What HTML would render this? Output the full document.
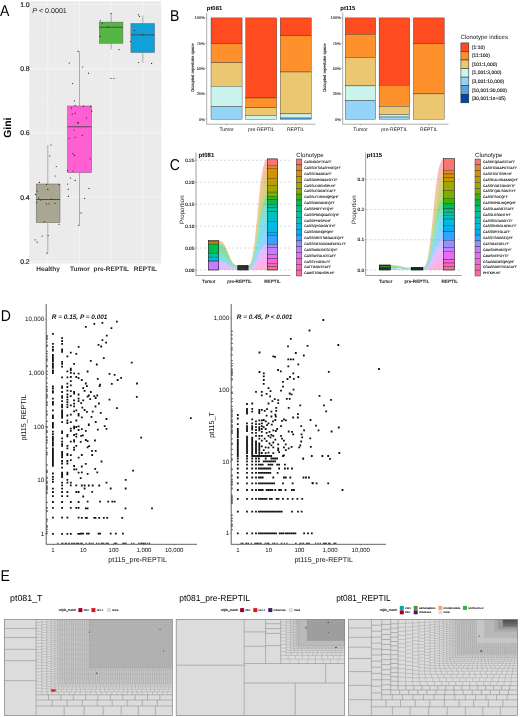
<!DOCTYPE html>
<html><head><meta charset="utf-8"><title>Figure</title>
<style>
html,body{margin:0;padding:0;background:#fff;}
body{width:520px;height:717px;overflow:hidden;}
svg{display:block;font-family:"Liberation Sans",sans-serif;text-rendering:geometricPrecision;}
</style></head><body>
<svg width="520" height="717" viewBox="0 0 520 717">
<g id="panelA">
<rect x="29.20" y="1.20" width="132.00" height="262.20" fill="#EBEBEB" />
<line x1="29.20" y1="229.21" x2="161.20" y2="229.21" stroke="#F4F4F4" stroke-width="0.4" />
<line x1="29.20" y1="165.04" x2="161.20" y2="165.04" stroke="#F4F4F4" stroke-width="0.4" />
<line x1="29.20" y1="100.86" x2="161.20" y2="100.86" stroke="#F4F4F4" stroke-width="0.4" />
<line x1="29.20" y1="36.69" x2="161.20" y2="36.69" stroke="#F4F4F4" stroke-width="0.4" />
<line x1="29.20" y1="261.30" x2="161.20" y2="261.30" stroke="#F8F8F8" stroke-width="0.7" />
<line x1="29.20" y1="197.12" x2="161.20" y2="197.12" stroke="#F8F8F8" stroke-width="0.7" />
<line x1="29.20" y1="132.95" x2="161.20" y2="132.95" stroke="#F8F8F8" stroke-width="0.7" />
<line x1="29.20" y1="68.77" x2="161.20" y2="68.77" stroke="#F8F8F8" stroke-width="0.7" />
<line x1="29.20" y1="4.60" x2="161.20" y2="4.60" stroke="#F8F8F8" stroke-width="0.7" />
<line x1="47.80" y1="1.20" x2="47.80" y2="263.40" stroke="#F8F8F8" stroke-width="0.7" />
<line x1="79.50" y1="1.20" x2="79.50" y2="263.40" stroke="#F8F8F8" stroke-width="0.7" />
<line x1="111.20" y1="1.20" x2="111.20" y2="263.40" stroke="#F8F8F8" stroke-width="0.7" />
<line x1="142.80" y1="1.20" x2="142.80" y2="263.40" stroke="#F8F8F8" stroke-width="0.7" />
<text x="29.60" y="263.80" font-size="6.8" text-anchor="end" fill="#222" stroke="#222" stroke-width="0.2">0.2</text>
<text x="29.60" y="199.62" font-size="6.8" text-anchor="end" fill="#222" stroke="#222" stroke-width="0.2">0.4</text>
<text x="29.60" y="135.45" font-size="6.8" text-anchor="end" fill="#222" stroke="#222" stroke-width="0.2">0.6</text>
<text x="29.60" y="71.27" font-size="6.8" text-anchor="end" fill="#222" stroke="#222" stroke-width="0.2">0.8</text>
<text x="29.60" y="7.10" font-size="6.8" text-anchor="end" fill="#222" stroke="#222" stroke-width="0.2">1.0</text>
<text x="32.30" y="12.70" font-size="7.1" text-anchor="start" fill="#222" ><tspan font-style="italic">P</tspan> &lt; 0.0001</text>
<line x1="47.80" y1="145.00" x2="47.80" y2="184.00" stroke="#7A7A7A" stroke-width="0.6" />
<line x1="47.80" y1="222.60" x2="47.80" y2="252.80" stroke="#7A7A7A" stroke-width="0.6" />
<rect x="36.20" y="184.00" width="23.80" height="38.60" fill="#A9A791" stroke="#5A5A5A" stroke-width="0.45" />
<line x1="36.20" y1="199.50" x2="60.00" y2="199.50" stroke="#444" stroke-width="0.9" />
<line x1="79.50" y1="51.30" x2="79.50" y2="106.00" stroke="#7A7A7A" stroke-width="0.6" />
<line x1="79.50" y1="172.60" x2="79.50" y2="225.20" stroke="#7A7A7A" stroke-width="0.6" />
<rect x="67.60" y="106.00" width="24.00" height="66.60" fill="#FF5FD2" stroke="#5A5A5A" stroke-width="0.45" />
<line x1="67.60" y1="126.80" x2="91.60" y2="126.80" stroke="#444" stroke-width="0.9" />
<line x1="111.20" y1="13.00" x2="111.20" y2="22.10" stroke="#7A7A7A" stroke-width="0.6" />
<line x1="111.20" y1="43.30" x2="111.20" y2="49.40" stroke="#7A7A7A" stroke-width="0.6" />
<rect x="99.30" y="22.10" width="23.60" height="21.20" fill="#55B644" stroke="#5A5A5A" stroke-width="0.45" />
<line x1="99.30" y1="27.20" x2="122.90" y2="27.20" stroke="#444" stroke-width="0.9" />
<line x1="142.80" y1="15.60" x2="142.80" y2="23.50" stroke="#7A7A7A" stroke-width="0.6" />
<line x1="142.80" y1="52.50" x2="142.80" y2="62.80" stroke="#7A7A7A" stroke-width="0.6" />
<rect x="130.90" y="23.50" width="23.70" height="29.00" fill="#10A0DA" stroke="#5A5A5A" stroke-width="0.45" />
<line x1="130.90" y1="34.90" x2="154.60" y2="34.90" stroke="#444" stroke-width="0.9" />
<g id="ptsA" fill="#222"><circle cx="50.9" cy="145.0" r="0.6"/><circle cx="49.8" cy="156.1" r="0.6"/><circle cx="56.3" cy="166.5" r="0.6"/><circle cx="55.1" cy="176.0" r="0.6"/><circle cx="39.4" cy="182.4" r="0.6"/><circle cx="46.4" cy="184.4" r="0.6"/><circle cx="59.0" cy="184.4" r="0.6"/><circle cx="47.8" cy="189.4" r="0.6"/><circle cx="37.2" cy="191.1" r="0.6"/><circle cx="35.5" cy="194.4" r="0.6"/><circle cx="38.9" cy="198.1" r="0.6"/><circle cx="40.6" cy="200.0" r="0.6"/><circle cx="51.4" cy="199.1" r="0.6"/><circle cx="36.7" cy="202.5" r="0.6"/><circle cx="46.4" cy="203.8" r="0.6"/><circle cx="48.9" cy="203.8" r="0.6"/><circle cx="55.1" cy="203.3" r="0.6"/><circle cx="44.2" cy="221.7" r="0.6"/><circle cx="59.0" cy="224.3" r="0.6"/><circle cx="42.2" cy="236.0" r="0.6"/><circle cx="48.1" cy="235.5" r="0.6"/><circle cx="35.2" cy="239.8" r="0.6"/><circle cx="37.2" cy="242.2" r="0.6"/><circle cx="47.1" cy="253.2" r="0.6"/><circle cx="72.9" cy="153.7" r="0.6"/><circle cx="74.4" cy="155.4" r="0.6"/><circle cx="90.1" cy="158.8" r="0.6"/><circle cx="67.5" cy="170.3" r="0.6"/><circle cx="72.9" cy="171.0" r="0.6"/><circle cx="70.4" cy="178.0" r="0.6"/><circle cx="75.2" cy="180.4" r="0.6"/><circle cx="67.7" cy="184.1" r="0.6"/><circle cx="68.2" cy="189.2" r="0.6"/><circle cx="89.1" cy="188.4" r="0.6"/><circle cx="68.4" cy="196.4" r="0.6"/><circle cx="84.6" cy="198.3" r="0.6"/><circle cx="81.1" cy="212.9" r="0.6"/><circle cx="78.8" cy="225.3" r="0.6"/><circle cx="78.1" cy="51.4" r="0.6"/><circle cx="69.2" cy="63.1" r="0.6"/><circle cx="82.6" cy="67.0" r="0.6"/><circle cx="88.5" cy="73.2" r="0.6"/><circle cx="72.6" cy="83.6" r="0.6"/><circle cx="74.4" cy="100.8" r="0.6"/><circle cx="75.1" cy="105.3" r="0.6"/><circle cx="83.5" cy="106.2" r="0.6"/><circle cx="90.7" cy="106.2" r="0.6"/><circle cx="71.4" cy="108.2" r="0.6"/><circle cx="91.8" cy="111.2" r="0.6"/><circle cx="72.2" cy="114.2" r="0.6"/><circle cx="75.1" cy="113.4" r="0.6"/><circle cx="86.5" cy="117.9" r="0.6"/><circle cx="77.6" cy="123.2" r="0.6"/><circle cx="78.4" cy="122.6" r="0.6"/><circle cx="74.2" cy="130.0" r="0.6"/><circle cx="82.3" cy="135.3" r="0.6"/><circle cx="69.2" cy="138.3" r="0.6"/><circle cx="75.1" cy="137.5" r="0.6"/><circle cx="111.0" cy="13.3" r="0.6"/><circle cx="100.3" cy="20.8" r="0.6"/><circle cx="102.4" cy="23.1" r="0.6"/><circle cx="107.9" cy="27.1" r="0.6"/><circle cx="100.3" cy="36.4" r="0.6"/><circle cx="119.1" cy="49.6" r="0.6"/><circle cx="111.0" cy="78.5" r="0.6"/><circle cx="113.9" cy="78.5" r="0.6"/><circle cx="138.4" cy="14.8" r="0.6"/><circle cx="139.5" cy="16.3" r="0.6"/><circle cx="134.5" cy="30.5" r="0.6"/><circle cx="142.6" cy="34.6" r="0.6"/><circle cx="130.5" cy="41.6" r="0.6"/><circle cx="138.7" cy="62.5" r="0.6"/><circle cx="151.6" cy="63.4" r="0.6"/></g>
<text x="48.10" y="270.50" font-size="6.5" text-anchor="middle" font-weight="bold" fill="#333" >Healthy</text>
<text x="79.80" y="270.50" font-size="6.5" text-anchor="middle" font-weight="bold" fill="#333" >Tumor</text>
<text x="111.30" y="270.50" font-size="6.5" text-anchor="middle" font-weight="bold" fill="#333" >pre-REPTIL</text>
<text x="145.40" y="270.50" font-size="6.5" text-anchor="middle" font-weight="bold" fill="#333" >REPTIL</text>
<text x="0.00" y="0.00" font-size="10.4" text-anchor="middle" font-weight="bold" transform="translate(10.5,127.7) rotate(-90)">Gini</text>
<text transform="translate(0.1,16.0) scale(0.9,1)" font-size="15.6">A</text>
</g>
<g id="panelB">
<text transform="translate(170.0,20.7) scale(0.9,1)" font-size="15.6">B</text>
<text x="206.80" y="10.20" font-size="5.9" text-anchor="start" font-weight="bold" >pt081</text>
<line x1="206.70" y1="12.50" x2="206.70" y2="124.20" stroke="#333" stroke-width="0.4" />
<line x1="206.70" y1="124.20" x2="315.50" y2="124.20" stroke="#333" stroke-width="0.4" />
<line x1="205.50" y1="17.90" x2="206.70" y2="17.90" stroke="#333" stroke-width="0.35" />
<text x="204.70" y="19.30" font-size="4.0" text-anchor="end" fill="#333" stroke="#333" stroke-width="0.12" >100%</text>
<line x1="205.50" y1="43.22" x2="206.70" y2="43.22" stroke="#333" stroke-width="0.35" />
<text x="204.70" y="44.62" font-size="4.0" text-anchor="end" fill="#333" stroke="#333" stroke-width="0.12" >75%</text>
<line x1="205.50" y1="68.55" x2="206.70" y2="68.55" stroke="#333" stroke-width="0.35" />
<text x="204.70" y="69.95" font-size="4.0" text-anchor="end" fill="#333" stroke="#333" stroke-width="0.12" >50%</text>
<line x1="205.50" y1="93.88" x2="206.70" y2="93.88" stroke="#333" stroke-width="0.35" />
<text x="204.70" y="95.28" font-size="4.0" text-anchor="end" fill="#333" stroke="#333" stroke-width="0.12" >25%</text>
<line x1="205.50" y1="119.20" x2="206.70" y2="119.20" stroke="#333" stroke-width="0.35" />
<text x="204.70" y="120.60" font-size="4.0" text-anchor="end" fill="#333" stroke="#333" stroke-width="0.12" >0%</text>
<rect x="211.00" y="17.90" width="31.10" height="25.80" fill="#FF4B20" stroke="#222" stroke-width="0.35" />
<rect x="211.00" y="43.70" width="31.10" height="19.00" fill="#FF912D" stroke="#222" stroke-width="0.35" />
<rect x="211.00" y="62.70" width="31.10" height="23.50" fill="#ECC771" stroke="#222" stroke-width="0.35" />
<rect x="211.00" y="86.20" width="31.10" height="20.50" fill="#CAF4EC" stroke="#222" stroke-width="0.35" />
<rect x="211.00" y="106.70" width="31.10" height="12.50" fill="#93D4F7" stroke="#222" stroke-width="0.35" />
<line x1="226.55" y1="124.20" x2="226.55" y2="125.40" stroke="#333" stroke-width="0.35" />
<text x="226.55" y="130.90" font-size="5.0" text-anchor="middle" fill="#111" >Tumor</text>
<rect x="245.80" y="17.90" width="30.90" height="80.10" fill="#FF4B20" stroke="#222" stroke-width="0.35" />
<rect x="245.80" y="98.00" width="30.90" height="9.70" fill="#FF912D" stroke="#222" stroke-width="0.35" />
<rect x="245.80" y="107.70" width="30.90" height="7.70" fill="#ECC771" stroke="#222" stroke-width="0.35" />
<rect x="245.80" y="115.40" width="30.90" height="3.80" fill="#CAF4EC" stroke="#222" stroke-width="0.35" />
<line x1="261.25" y1="124.20" x2="261.25" y2="125.40" stroke="#333" stroke-width="0.35" />
<text x="261.25" y="130.90" font-size="5.0" text-anchor="middle" fill="#111" >pre-REPTIL</text>
<rect x="280.20" y="17.90" width="31.10" height="17.80" fill="#FF4B20" stroke="#222" stroke-width="0.35" />
<rect x="280.20" y="35.70" width="31.10" height="36.30" fill="#FF912D" stroke="#222" stroke-width="0.35" />
<rect x="280.20" y="72.00" width="31.10" height="41.90" fill="#ECC771" stroke="#222" stroke-width="0.35" />
<rect x="280.20" y="113.90" width="31.10" height="4.10" fill="#CAF4EC" stroke="#222" stroke-width="0.35" />
<rect x="280.20" y="118.00" width="31.10" height="1.20" fill="#5AA2E1" stroke="#222" stroke-width="0.35" />
<line x1="295.75" y1="124.20" x2="295.75" y2="125.40" stroke="#333" stroke-width="0.35" />
<text x="295.75" y="130.90" font-size="5.0" text-anchor="middle" fill="#111" >REPTIL</text>
<text x="0.00" y="0.00" font-size="4.15" text-anchor="middle" fill="#222" stroke="#222" stroke-width="0.12" transform="translate(193.5,67.8) rotate(-90)">Occupied repertoire space</text>
<text x="340.30" y="10.20" font-size="5.9" text-anchor="start" font-weight="bold" >pt115</text>
<line x1="342.70" y1="12.50" x2="342.70" y2="124.20" stroke="#333" stroke-width="0.4" />
<line x1="342.70" y1="124.20" x2="448.50" y2="124.20" stroke="#333" stroke-width="0.4" />
<line x1="341.50" y1="17.90" x2="342.70" y2="17.90" stroke="#333" stroke-width="0.35" />
<text x="340.70" y="19.30" font-size="4.0" text-anchor="end" fill="#333" stroke="#333" stroke-width="0.12" >100%</text>
<line x1="341.50" y1="43.22" x2="342.70" y2="43.22" stroke="#333" stroke-width="0.35" />
<text x="340.70" y="44.62" font-size="4.0" text-anchor="end" fill="#333" stroke="#333" stroke-width="0.12" >75%</text>
<line x1="341.50" y1="68.55" x2="342.70" y2="68.55" stroke="#333" stroke-width="0.35" />
<text x="340.70" y="69.95" font-size="4.0" text-anchor="end" fill="#333" stroke="#333" stroke-width="0.12" >50%</text>
<line x1="341.50" y1="93.88" x2="342.70" y2="93.88" stroke="#333" stroke-width="0.35" />
<text x="340.70" y="95.28" font-size="4.0" text-anchor="end" fill="#333" stroke="#333" stroke-width="0.12" >25%</text>
<line x1="341.50" y1="119.20" x2="342.70" y2="119.20" stroke="#333" stroke-width="0.35" />
<text x="340.70" y="120.60" font-size="4.0" text-anchor="end" fill="#333" stroke="#333" stroke-width="0.12" >0%</text>
<rect x="345.20" y="17.90" width="30.50" height="16.40" fill="#FF4B20" stroke="#222" stroke-width="0.35" />
<rect x="345.20" y="34.30" width="30.50" height="23.20" fill="#FF912D" stroke="#222" stroke-width="0.35" />
<rect x="345.20" y="57.50" width="30.50" height="28.40" fill="#ECC771" stroke="#222" stroke-width="0.35" />
<rect x="345.20" y="85.90" width="30.50" height="14.90" fill="#CAF4EC" stroke="#222" stroke-width="0.35" />
<rect x="345.20" y="100.80" width="30.50" height="18.40" fill="#93D4F7" stroke="#222" stroke-width="0.35" />
<line x1="360.45" y1="124.20" x2="360.45" y2="125.40" stroke="#333" stroke-width="0.35" />
<text x="360.45" y="130.90" font-size="5.0" text-anchor="middle" fill="#111" >Tumor</text>
<rect x="379.10" y="17.90" width="30.60" height="67.30" fill="#FF4B20" stroke="#222" stroke-width="0.35" />
<rect x="379.10" y="85.20" width="30.60" height="21.10" fill="#FF912D" stroke="#222" stroke-width="0.35" />
<rect x="379.10" y="106.30" width="30.60" height="8.30" fill="#ECC771" stroke="#222" stroke-width="0.35" />
<rect x="379.10" y="114.60" width="30.60" height="2.40" fill="#CAF4EC" stroke="#222" stroke-width="0.35" />
<rect x="379.10" y="117.00" width="30.60" height="2.20" fill="#93D4F7" stroke="#222" stroke-width="0.35" />
<line x1="394.40" y1="124.20" x2="394.40" y2="125.40" stroke="#333" stroke-width="0.35" />
<text x="394.40" y="130.90" font-size="5.0" text-anchor="middle" fill="#111" >pre-REPTIL</text>
<rect x="413.40" y="17.90" width="30.90" height="25.80" fill="#FF4B20" stroke="#222" stroke-width="0.35" />
<rect x="413.40" y="43.70" width="30.90" height="50.20" fill="#FF912D" stroke="#222" stroke-width="0.35" />
<rect x="413.40" y="93.90" width="30.90" height="25.30" fill="#ECC771" stroke="#222" stroke-width="0.35" />
<line x1="428.85" y1="124.20" x2="428.85" y2="125.40" stroke="#333" stroke-width="0.35" />
<text x="428.85" y="130.90" font-size="5.0" text-anchor="middle" fill="#111" >REPTIL</text>
<text x="0.00" y="0.00" font-size="4.15" text-anchor="middle" fill="#222" stroke="#222" stroke-width="0.12" transform="translate(326.3,67.8) rotate(-90)">Occupied repertoire space</text>
<text x="460.60" y="39.00" font-size="6.0" text-anchor="start" fill="#111" >Clonotype indices</text>
<rect x="460.90" y="42.90" width="7.90" height="8.56" fill="#FF4B20" stroke="#222" stroke-width="0.5" />
<text x="472.20" y="48.80" font-size="4.95" text-anchor="start" fill="#111" stroke="#111" stroke-width="0.12" >[1:10)</text>
<rect x="460.90" y="51.46" width="7.90" height="8.56" fill="#FF912D" stroke="#222" stroke-width="0.5" />
<text x="472.20" y="57.36" font-size="4.95" text-anchor="start" fill="#111" stroke="#111" stroke-width="0.12" >[11:100)</text>
<rect x="460.90" y="60.02" width="7.90" height="8.56" fill="#ECC771" stroke="#222" stroke-width="0.5" />
<text x="472.20" y="65.92" font-size="4.95" text-anchor="start" fill="#111" stroke="#111" stroke-width="0.12" >[101:1,000)</text>
<rect x="460.90" y="68.58" width="7.90" height="8.56" fill="#CAF4EC" stroke="#222" stroke-width="0.5" />
<text x="472.20" y="74.48" font-size="4.95" text-anchor="start" fill="#111" stroke="#111" stroke-width="0.12" >[1,001:3,000)</text>
<rect x="460.90" y="77.14" width="7.90" height="8.56" fill="#93D4F7" stroke="#222" stroke-width="0.5" />
<text x="472.20" y="83.04" font-size="4.95" text-anchor="start" fill="#111" stroke="#111" stroke-width="0.12" >[3,001:10,000)</text>
<rect x="460.90" y="85.70" width="7.90" height="8.56" fill="#5AA2E1" stroke="#222" stroke-width="0.5" />
<text x="472.20" y="91.60" font-size="4.95" text-anchor="start" fill="#111" stroke="#111" stroke-width="0.12" >[10,001:30,000)</text>
<rect x="460.90" y="94.26" width="7.90" height="8.56" fill="#0348A6" stroke="#222" stroke-width="0.5" />
<text x="472.20" y="100.16" font-size="4.95" text-anchor="start" fill="#111" stroke="#111" stroke-width="0.12" >[30,001:1e+05)</text>
</g>
<g id="panelC">
<text transform="translate(169.7,170.2) scale(0.9,1)" font-size="15.6">C</text>
<text x="198.60" y="156.50" font-size="6.0" text-anchor="start" font-weight="bold" >pt081</text>
<line x1="196.00" y1="160.20" x2="290.40" y2="160.20" stroke="#A8A8A8" stroke-width="0.45" stroke-dasharray="2 2"/>
<line x1="194.80" y1="160.20" x2="196.00" y2="160.20" stroke="#333" stroke-width="0.35" />
<text x="194.40" y="161.80" font-size="4.75" text-anchor="end" fill="#111" stroke="#111" stroke-width="0.12" >0.25</text>
<line x1="196.00" y1="182.16" x2="290.40" y2="182.16" stroke="#A8A8A8" stroke-width="0.45" stroke-dasharray="2 2"/>
<line x1="194.80" y1="182.16" x2="196.00" y2="182.16" stroke="#333" stroke-width="0.35" />
<text x="194.40" y="183.76" font-size="4.75" text-anchor="end" fill="#111" stroke="#111" stroke-width="0.12" >0.20</text>
<line x1="196.00" y1="204.12" x2="290.40" y2="204.12" stroke="#A8A8A8" stroke-width="0.45" stroke-dasharray="2 2"/>
<line x1="194.80" y1="204.12" x2="196.00" y2="204.12" stroke="#333" stroke-width="0.35" />
<text x="194.40" y="205.72" font-size="4.75" text-anchor="end" fill="#111" stroke="#111" stroke-width="0.12" >0.15</text>
<line x1="196.00" y1="226.08" x2="290.40" y2="226.08" stroke="#A8A8A8" stroke-width="0.45" stroke-dasharray="2 2"/>
<line x1="194.80" y1="226.08" x2="196.00" y2="226.08" stroke="#333" stroke-width="0.35" />
<text x="194.40" y="227.68" font-size="4.75" text-anchor="end" fill="#111" stroke="#111" stroke-width="0.12" >0.10</text>
<line x1="196.00" y1="248.04" x2="290.40" y2="248.04" stroke="#A8A8A8" stroke-width="0.45" stroke-dasharray="2 2"/>
<line x1="194.80" y1="248.04" x2="196.00" y2="248.04" stroke="#333" stroke-width="0.35" />
<text x="194.40" y="249.64" font-size="4.75" text-anchor="end" fill="#111" stroke="#111" stroke-width="0.12" >0.05</text>
<line x1="196.00" y1="270.00" x2="290.40" y2="270.00" stroke="#A8A8A8" stroke-width="0.45" stroke-dasharray="2 2"/>
<line x1="194.80" y1="270.00" x2="196.00" y2="270.00" stroke="#333" stroke-width="0.35" />
<text x="194.40" y="271.60" font-size="4.75" text-anchor="end" fill="#111" stroke="#111" stroke-width="0.12" >0.00</text>
<line x1="196.00" y1="152.50" x2="196.00" y2="275.50" stroke="#777" stroke-width="0.7" />
<line x1="196.00" y1="275.50" x2="290.40" y2="275.50" stroke="#777" stroke-width="0.7" />
<text x="0.00" y="0.00" font-size="6.2" text-anchor="middle" fill="#111" transform="translate(183.6,209.7) rotate(-90)">Proportion</text>
<path d="M218.80,240.65 C228.35,240.65 228.35,265.57 237.90,265.57 L237.90,265.79 C228.35,265.79 228.35,241.91 218.80,241.91 Z" fill="#F8766D" fill-opacity="0.5"/>
<path d="M218.80,241.91 C228.35,241.91 228.35,265.79 237.90,265.79 L237.90,266.01 C228.35,266.01 228.35,241.91 218.80,241.91 Z" fill="#EA8331" fill-opacity="0.5"/>
<path d="M218.80,241.91 C228.35,241.91 228.35,266.01 237.90,266.01 L237.90,266.23 C228.35,266.23 228.35,244.03 218.80,244.03 Z" fill="#D89000" fill-opacity="0.5"/>
<path d="M218.80,244.03 C228.35,244.03 228.35,266.23 237.90,266.23 L237.90,266.45 C228.35,266.45 228.35,244.03 218.80,244.03 Z" fill="#C09B00" fill-opacity="0.5"/>
<path d="M218.80,244.03 C228.35,244.03 228.35,266.45 237.90,266.45 L237.90,266.67 C228.35,266.67 228.35,244.03 218.80,244.03 Z" fill="#A3A500" fill-opacity="0.5"/>
<path d="M218.80,244.03 C228.35,244.03 228.35,266.67 237.90,266.67 L237.90,266.90 C228.35,266.90 228.35,244.03 218.80,244.03 Z" fill="#7CAE00" fill-opacity="0.5"/>
<path d="M218.80,244.03 C228.35,244.03 228.35,266.90 237.90,266.90 L237.90,267.12 C228.35,267.12 228.35,244.03 218.80,244.03 Z" fill="#39B600" fill-opacity="0.5"/>
<path d="M218.80,244.03 C228.35,244.03 228.35,267.12 237.90,267.12 L237.90,267.34 C228.35,267.34 228.35,253.32 218.80,253.32 Z" fill="#00BB4E" fill-opacity="0.5"/>
<path d="M218.80,253.32 C228.35,253.32 228.35,267.34 237.90,267.34 L237.90,267.56 C228.35,267.56 228.35,253.32 218.80,253.32 Z" fill="#00BF7D" fill-opacity="0.5"/>
<path d="M218.80,253.32 C228.35,253.32 228.35,267.56 237.90,267.56 L237.90,267.78 C228.35,267.78 228.35,257.12 218.80,257.12 Z" fill="#00C1A3" fill-opacity="0.5"/>
<path d="M218.80,257.12 C228.35,257.12 228.35,267.78 237.90,267.78 L237.90,268.00 C228.35,268.00 228.35,257.12 218.80,257.12 Z" fill="#00BFC4" fill-opacity="0.5"/>
<path d="M218.80,257.12 C228.35,257.12 228.35,268.00 237.90,268.00 L237.90,268.23 C228.35,268.23 228.35,260.29 218.80,260.29 Z" fill="#00BAE0" fill-opacity="0.5"/>
<path d="M218.80,260.29 C228.35,260.29 228.35,268.23 237.90,268.23 L237.90,268.45 C228.35,268.45 228.35,261.34 218.80,261.34 Z" fill="#00B0F6" fill-opacity="0.5"/>
<path d="M218.80,261.34 C228.35,261.34 228.35,268.45 237.90,268.45 L237.90,268.67 C228.35,268.67 228.35,261.34 218.80,261.34 Z" fill="#35A2FF" fill-opacity="0.5"/>
<path d="M218.80,261.34 C228.35,261.34 228.35,268.67 237.90,268.67 L237.90,268.89 C228.35,268.89 228.35,261.34 218.80,261.34 Z" fill="#9590FF" fill-opacity="0.5"/>
<path d="M218.80,261.34 C228.35,261.34 228.35,268.89 237.90,268.89 L237.90,269.11 C228.35,269.11 228.35,270.00 218.80,270.00 Z" fill="#C77CFF" fill-opacity="0.5"/>
<path d="M218.80,270.00 C228.35,270.00 228.35,269.11 237.90,269.11 L237.90,269.33 C228.35,269.33 228.35,270.00 218.80,270.00 Z" fill="#E76BF3" fill-opacity="0.5"/>
<path d="M218.80,270.00 C228.35,270.00 228.35,269.33 237.90,269.33 L237.90,269.56 C228.35,269.56 228.35,270.00 218.80,270.00 Z" fill="#FA62DB" fill-opacity="0.5"/>
<path d="M218.80,270.00 C228.35,270.00 228.35,269.56 237.90,269.56 L237.90,269.78 C228.35,269.78 228.35,270.00 218.80,270.00 Z" fill="#FF62BC" fill-opacity="0.5"/>
<path d="M218.80,270.00 C228.35,270.00 228.35,269.78 237.90,269.78 L237.90,270.00 C228.35,270.00 228.35,270.00 218.80,270.00 Z" fill="#FF6A98" fill-opacity="0.5"/>
<path d="M248.00,265.57 C257.75,265.57 257.75,158.93 267.50,158.93 L267.50,165.26 C257.75,165.26 257.75,265.79 248.00,265.79 Z" fill="#F8766D" fill-opacity="0.5"/>
<path d="M248.00,265.79 C257.75,265.79 257.75,165.26 267.50,165.26 L267.50,168.43 C257.75,168.43 257.75,266.01 248.00,266.01 Z" fill="#EA8331" fill-opacity="0.5"/>
<path d="M248.00,266.01 C257.75,266.01 257.75,168.43 267.50,168.43 L267.50,178.35 C257.75,178.35 257.75,266.23 248.00,266.23 Z" fill="#D89000" fill-opacity="0.5"/>
<path d="M248.00,266.23 C257.75,266.23 257.75,178.35 267.50,178.35 L267.50,185.32 C257.75,185.32 257.75,266.45 248.00,266.45 Z" fill="#C09B00" fill-opacity="0.5"/>
<path d="M248.00,266.45 C257.75,266.45 257.75,185.32 267.50,185.32 L267.50,192.08 C257.75,192.08 257.75,266.67 248.00,266.67 Z" fill="#A3A500" fill-opacity="0.5"/>
<path d="M248.00,266.67 C257.75,266.67 257.75,192.08 267.50,192.08 L267.50,196.51 C257.75,196.51 257.75,266.90 248.00,266.90 Z" fill="#7CAE00" fill-opacity="0.5"/>
<path d="M248.00,266.90 C257.75,266.90 257.75,196.51 267.50,196.51 L267.50,199.68 C257.75,199.68 257.75,267.12 248.00,267.12 Z" fill="#39B600" fill-opacity="0.5"/>
<path d="M248.00,267.12 C257.75,267.12 257.75,199.68 267.50,199.68 L267.50,204.33 C257.75,204.33 257.75,267.34 248.00,267.34 Z" fill="#00BB4E" fill-opacity="0.5"/>
<path d="M248.00,267.34 C257.75,267.34 257.75,204.33 267.50,204.33 L267.50,207.49 C257.75,207.49 257.75,267.56 248.00,267.56 Z" fill="#00BF7D" fill-opacity="0.5"/>
<path d="M248.00,267.56 C257.75,267.56 257.75,207.49 267.50,207.49 L267.50,211.72 C257.75,211.72 257.75,267.78 248.00,267.78 Z" fill="#00C1A3" fill-opacity="0.5"/>
<path d="M248.00,267.78 C257.75,267.78 257.75,211.72 267.50,211.72 L267.50,221.22 C257.75,221.22 257.75,268.00 248.00,268.00 Z" fill="#00BFC4" fill-opacity="0.5"/>
<path d="M248.00,268.00 C257.75,268.00 257.75,221.22 267.50,221.22 L267.50,232.20 C257.75,232.20 257.75,268.23 248.00,268.23 Z" fill="#00BAE0" fill-opacity="0.5"/>
<path d="M248.00,268.23 C257.75,268.23 257.75,232.20 267.50,232.20 L267.50,235.58 C257.75,235.58 257.75,268.45 248.00,268.45 Z" fill="#00B0F6" fill-opacity="0.5"/>
<path d="M248.00,268.45 C257.75,268.45 257.75,235.58 267.50,235.58 L267.50,244.45 C257.75,244.45 257.75,268.67 248.00,268.67 Z" fill="#35A2FF" fill-opacity="0.5"/>
<path d="M248.00,268.67 C257.75,268.67 257.75,244.45 267.50,244.45 L267.50,247.62 C257.75,247.62 257.75,268.89 248.00,268.89 Z" fill="#9590FF" fill-opacity="0.5"/>
<path d="M248.00,268.89 C257.75,268.89 257.75,247.62 267.50,247.62 L267.50,254.58 C257.75,254.58 257.75,269.11 248.00,269.11 Z" fill="#C77CFF" fill-opacity="0.5"/>
<path d="M248.00,269.11 C257.75,269.11 257.75,254.58 267.50,254.58 L267.50,258.81 C257.75,258.81 257.75,269.33 248.00,269.33 Z" fill="#E76BF3" fill-opacity="0.5"/>
<path d="M248.00,269.33 C257.75,269.33 257.75,258.81 267.50,258.81 L267.50,263.45 C257.75,263.45 257.75,269.56 248.00,269.56 Z" fill="#FA62DB" fill-opacity="0.5"/>
<path d="M248.00,269.56 C257.75,269.56 257.75,263.45 267.50,263.45 L267.50,266.62 C257.75,266.62 257.75,269.78 248.00,269.78 Z" fill="#FF62BC" fill-opacity="0.5"/>
<path d="M248.00,269.78 C257.75,269.78 257.75,266.62 267.50,266.62 L267.50,270.00 C257.75,270.00 257.75,270.00 248.00,270.00 Z" fill="#FF6A98" fill-opacity="0.5"/>
<rect x="208.30" y="240.65" width="10.50" height="1.27" fill="#F8766D" stroke="#111" stroke-width="0.3" />
<rect x="208.30" y="241.91" width="10.50" height="2.11" fill="#D89000" stroke="#111" stroke-width="0.3" />
<rect x="208.30" y="244.03" width="10.50" height="9.29" fill="#00BB4E" stroke="#111" stroke-width="0.3" />
<rect x="208.30" y="253.32" width="10.50" height="3.80" fill="#00C1A3" stroke="#111" stroke-width="0.3" />
<rect x="208.30" y="257.12" width="10.50" height="3.17" fill="#00BAE0" stroke="#111" stroke-width="0.3" />
<rect x="208.30" y="260.29" width="10.50" height="1.06" fill="#00B0F6" stroke="#111" stroke-width="0.3" />
<rect x="208.30" y="261.34" width="10.50" height="8.66" fill="#C77CFF" stroke="#111" stroke-width="0.3" />
<rect x="208.30" y="240.65" width="10.50" height="29.35" fill="none" stroke="#111" stroke-width="0.4" />
<rect x="237.90" y="265.57" width="10.10" height="0.22" fill="#F8766D" stroke="#111" stroke-width="0.3" />
<rect x="237.90" y="265.79" width="10.10" height="0.22" fill="#EA8331" stroke="#111" stroke-width="0.3" />
<rect x="237.90" y="266.01" width="10.10" height="0.22" fill="#D89000" stroke="#111" stroke-width="0.3" />
<rect x="237.90" y="266.23" width="10.10" height="0.22" fill="#C09B00" stroke="#111" stroke-width="0.3" />
<rect x="237.90" y="266.45" width="10.10" height="0.22" fill="#A3A500" stroke="#111" stroke-width="0.3" />
<rect x="237.90" y="266.67" width="10.10" height="0.22" fill="#7CAE00" stroke="#111" stroke-width="0.3" />
<rect x="237.90" y="266.90" width="10.10" height="0.22" fill="#39B600" stroke="#111" stroke-width="0.3" />
<rect x="237.90" y="267.12" width="10.10" height="0.22" fill="#00BB4E" stroke="#111" stroke-width="0.3" />
<rect x="237.90" y="267.34" width="10.10" height="0.22" fill="#00BF7D" stroke="#111" stroke-width="0.3" />
<rect x="237.90" y="267.56" width="10.10" height="0.22" fill="#00C1A3" stroke="#111" stroke-width="0.3" />
<rect x="237.90" y="267.78" width="10.10" height="0.22" fill="#00BFC4" stroke="#111" stroke-width="0.3" />
<rect x="237.90" y="268.00" width="10.10" height="0.22" fill="#00BAE0" stroke="#111" stroke-width="0.3" />
<rect x="237.90" y="268.23" width="10.10" height="0.22" fill="#00B0F6" stroke="#111" stroke-width="0.3" />
<rect x="237.90" y="268.45" width="10.10" height="0.22" fill="#35A2FF" stroke="#111" stroke-width="0.3" />
<rect x="237.90" y="268.67" width="10.10" height="0.22" fill="#9590FF" stroke="#111" stroke-width="0.3" />
<rect x="237.90" y="268.89" width="10.10" height="0.22" fill="#C77CFF" stroke="#111" stroke-width="0.3" />
<rect x="237.90" y="269.11" width="10.10" height="0.22" fill="#E76BF3" stroke="#111" stroke-width="0.3" />
<rect x="237.90" y="269.33" width="10.10" height="0.22" fill="#FA62DB" stroke="#111" stroke-width="0.3" />
<rect x="237.90" y="269.56" width="10.10" height="0.22" fill="#FF62BC" stroke="#111" stroke-width="0.3" />
<rect x="237.90" y="269.78" width="10.10" height="0.22" fill="#FF6A98" stroke="#111" stroke-width="0.3" />
<rect x="237.90" y="265.57" width="10.10" height="4.43" fill="none" stroke="#111" stroke-width="0.4" />
<rect x="267.50" y="158.93" width="10.20" height="6.33" fill="#F8766D" stroke="#111" stroke-width="0.3" />
<rect x="267.50" y="165.26" width="10.20" height="3.17" fill="#EA8331" stroke="#111" stroke-width="0.3" />
<rect x="267.50" y="168.43" width="10.20" height="9.92" fill="#D89000" stroke="#111" stroke-width="0.3" />
<rect x="267.50" y="178.35" width="10.20" height="6.97" fill="#C09B00" stroke="#111" stroke-width="0.3" />
<rect x="267.50" y="185.32" width="10.20" height="6.76" fill="#A3A500" stroke="#111" stroke-width="0.3" />
<rect x="267.50" y="192.08" width="10.20" height="4.43" fill="#7CAE00" stroke="#111" stroke-width="0.3" />
<rect x="267.50" y="196.51" width="10.20" height="3.17" fill="#39B600" stroke="#111" stroke-width="0.3" />
<rect x="267.50" y="199.68" width="10.20" height="4.65" fill="#00BB4E" stroke="#111" stroke-width="0.3" />
<rect x="267.50" y="204.33" width="10.20" height="3.17" fill="#00BF7D" stroke="#111" stroke-width="0.3" />
<rect x="267.50" y="207.49" width="10.20" height="4.22" fill="#00C1A3" stroke="#111" stroke-width="0.3" />
<rect x="267.50" y="211.72" width="10.20" height="9.50" fill="#00BFC4" stroke="#111" stroke-width="0.3" />
<rect x="267.50" y="221.22" width="10.20" height="10.98" fill="#00BAE0" stroke="#111" stroke-width="0.3" />
<rect x="267.50" y="232.20" width="10.20" height="3.38" fill="#00B0F6" stroke="#111" stroke-width="0.3" />
<rect x="267.50" y="235.58" width="10.20" height="8.87" fill="#35A2FF" stroke="#111" stroke-width="0.3" />
<rect x="267.50" y="244.45" width="10.20" height="3.17" fill="#9590FF" stroke="#111" stroke-width="0.3" />
<rect x="267.50" y="247.62" width="10.20" height="6.97" fill="#C77CFF" stroke="#111" stroke-width="0.3" />
<rect x="267.50" y="254.58" width="10.20" height="4.22" fill="#E76BF3" stroke="#111" stroke-width="0.3" />
<rect x="267.50" y="258.81" width="10.20" height="4.65" fill="#FA62DB" stroke="#111" stroke-width="0.3" />
<rect x="267.50" y="263.45" width="10.20" height="3.17" fill="#FF62BC" stroke="#111" stroke-width="0.3" />
<rect x="267.50" y="266.62" width="10.20" height="3.38" fill="#FF6A98" stroke="#111" stroke-width="0.3" />
<rect x="267.50" y="158.93" width="10.20" height="111.07" fill="none" stroke="#111" stroke-width="0.4" />
<text x="208.70" y="282.70" font-size="4.7" text-anchor="middle" fill="#111" stroke="#111" stroke-width="0.12" >Tumor</text>
<text x="239.60" y="282.70" font-size="4.7" text-anchor="middle" fill="#111" stroke="#111" stroke-width="0.12" >pre-REPTIL</text>
<text x="272.40" y="282.70" font-size="4.7" text-anchor="middle" fill="#111" stroke="#111" stroke-width="0.12" >REPTIL</text>
<text x="296.30" y="156.60" font-size="6.1" text-anchor="start" fill="#111" >Clonotype</text>
<rect x="296.30" y="159.00" width="5.50" height="5.85" fill="#F8766D" stroke="#333" stroke-width="0.45" />
<text x="304.30" y="163.10" font-size="3.35" text-anchor="start" fill="#111" stroke="#111" stroke-width="0.12" >CASNGGYTEAFF</text>
<rect x="296.30" y="164.85" width="5.50" height="5.85" fill="#EA8331" stroke="#333" stroke-width="0.45" />
<text x="304.30" y="168.95" font-size="3.35" text-anchor="start" fill="#111" stroke="#111" stroke-width="0.12" >CASSDTSGASYNEQFF</text>
<rect x="296.30" y="170.70" width="5.50" height="5.85" fill="#D89000" stroke="#333" stroke-width="0.45" />
<text x="304.30" y="174.80" font-size="3.35" text-anchor="start" fill="#111" stroke="#111" stroke-width="0.12" >CASSEGAGEAFF</text>
<rect x="296.30" y="176.55" width="5.50" height="5.85" fill="#C09B00" stroke="#333" stroke-width="0.45" />
<text x="304.30" y="180.65" font-size="3.35" text-anchor="start" fill="#111" stroke="#111" stroke-width="0.12" >CASSIGPGGAYGYTF</text>
<rect x="296.30" y="182.40" width="5.50" height="5.85" fill="#A3A500" stroke="#333" stroke-width="0.45" />
<text x="304.30" y="186.50" font-size="3.35" text-anchor="start" fill="#111" stroke="#111" stroke-width="0.12" >CASSLDRENSPLHF</text>
<rect x="296.30" y="188.25" width="5.50" height="5.85" fill="#7CAE00" stroke="#333" stroke-width="0.45" />
<text x="304.30" y="192.35" font-size="3.35" text-anchor="start" fill="#111" stroke="#111" stroke-width="0.12" >CASSLEGGNTEAFF</text>
<rect x="296.30" y="194.10" width="5.50" height="5.85" fill="#39B600" stroke="#333" stroke-width="0.45" />
<text x="304.30" y="198.20" font-size="3.35" text-anchor="start" fill="#111" stroke="#111" stroke-width="0.12" >CASSLFDRVNQPQHF</text>
<rect x="296.30" y="199.95" width="5.50" height="5.85" fill="#00BB4E" stroke="#333" stroke-width="0.45" />
<text x="304.30" y="204.05" font-size="3.35" text-anchor="start" fill="#111" stroke="#111" stroke-width="0.12" >CASSNRGGNEQFF</text>
<rect x="296.30" y="205.80" width="5.50" height="5.85" fill="#00BF7D" stroke="#333" stroke-width="0.45" />
<text x="304.30" y="209.90" font-size="3.35" text-anchor="start" fill="#111" stroke="#111" stroke-width="0.12" >CASSPGFFYEQYF</text>
<rect x="296.30" y="211.65" width="5.50" height="5.85" fill="#00C1A3" stroke="#333" stroke-width="0.45" />
<text x="304.30" y="215.75" font-size="3.35" text-anchor="start" fill="#111" stroke="#111" stroke-width="0.12" >CASSPRGQGAEEQYF</text>
<rect x="296.30" y="217.50" width="5.50" height="5.85" fill="#00BFC4" stroke="#333" stroke-width="0.45" />
<text x="304.30" y="221.60" font-size="3.35" text-anchor="start" fill="#111" stroke="#111" stroke-width="0.12" >CASSPYNSPLHF</text>
<rect x="296.30" y="223.35" width="5.50" height="5.85" fill="#00BAE0" stroke="#333" stroke-width="0.45" />
<text x="304.30" y="227.45" font-size="3.35" text-anchor="start" fill="#111" stroke="#111" stroke-width="0.12" >CASSQYGDGNTIYF</text>
<rect x="296.30" y="229.20" width="5.50" height="5.85" fill="#00B0F6" stroke="#333" stroke-width="0.45" />
<text x="304.30" y="233.30" font-size="3.35" text-anchor="start" fill="#111" stroke="#111" stroke-width="0.12" >CASSRDINQPQHF</text>
<rect x="296.30" y="235.05" width="5.50" height="5.85" fill="#35A2FF" stroke="#333" stroke-width="0.45" />
<text x="304.30" y="239.15" font-size="3.35" text-anchor="start" fill="#111" stroke="#111" stroke-width="0.12" >CASSRRRTSGGADEQYF</text>
<rect x="296.30" y="240.90" width="5.50" height="5.85" fill="#9590FF" stroke="#333" stroke-width="0.45" />
<text x="304.30" y="245.00" font-size="3.35" text-anchor="start" fill="#111" stroke="#111" stroke-width="0.12" >CASSSGTGDGMEDEKLFF</text>
<rect x="296.30" y="246.75" width="5.50" height="5.85" fill="#C77CFF" stroke="#333" stroke-width="0.45" />
<text x="304.30" y="250.85" font-size="3.35" text-anchor="start" fill="#111" stroke="#111" stroke-width="0.12" >CASSWGDRESEQYF</text>
<rect x="296.30" y="252.60" width="5.50" height="5.85" fill="#E76BF3" stroke="#333" stroke-width="0.45" />
<text x="304.30" y="256.70" font-size="3.35" text-anchor="start" fill="#111" stroke="#111" stroke-width="0.12" >CASSWTGLNTEAFF</text>
<rect x="296.30" y="258.45" width="5.50" height="5.85" fill="#FA62DB" stroke="#333" stroke-width="0.45" />
<text x="304.30" y="262.55" font-size="3.35" text-anchor="start" fill="#111" stroke="#111" stroke-width="0.12" >CASSYLGEKLFF</text>
<rect x="296.30" y="264.30" width="5.50" height="5.85" fill="#FF62BC" stroke="#333" stroke-width="0.45" />
<text x="304.30" y="268.40" font-size="3.35" text-anchor="start" fill="#111" stroke="#111" stroke-width="0.12" >CATTGGNTEAFF</text>
<rect x="296.30" y="270.15" width="5.50" height="5.85" fill="#FF6A98" stroke="#333" stroke-width="0.45" />
<text x="304.30" y="274.25" font-size="3.35" text-anchor="start" fill="#111" stroke="#111" stroke-width="0.12" >CAWSTGNNSPLHF</text>
<text x="366.80" y="156.50" font-size="6.0" text-anchor="start" font-weight="bold" >pt115</text>
<line x1="365.70" y1="179.30" x2="461.80" y2="179.30" stroke="#A8A8A8" stroke-width="0.45" stroke-dasharray="2 2"/>
<line x1="364.50" y1="179.30" x2="365.70" y2="179.30" stroke="#333" stroke-width="0.35" />
<text x="364.10" y="180.90" font-size="4.75" text-anchor="end" fill="#111" stroke="#111" stroke-width="0.12" >0.3</text>
<line x1="365.70" y1="209.53" x2="461.80" y2="209.53" stroke="#A8A8A8" stroke-width="0.45" stroke-dasharray="2 2"/>
<line x1="364.50" y1="209.53" x2="365.70" y2="209.53" stroke="#333" stroke-width="0.35" />
<text x="364.10" y="211.13" font-size="4.75" text-anchor="end" fill="#111" stroke="#111" stroke-width="0.12" >0.2</text>
<line x1="365.70" y1="239.77" x2="461.80" y2="239.77" stroke="#A8A8A8" stroke-width="0.45" stroke-dasharray="2 2"/>
<line x1="364.50" y1="239.77" x2="365.70" y2="239.77" stroke="#333" stroke-width="0.35" />
<text x="364.10" y="241.37" font-size="4.75" text-anchor="end" fill="#111" stroke="#111" stroke-width="0.12" >0.1</text>
<line x1="365.70" y1="270.00" x2="461.80" y2="270.00" stroke="#A8A8A8" stroke-width="0.45" stroke-dasharray="2 2"/>
<line x1="364.50" y1="270.00" x2="365.70" y2="270.00" stroke="#333" stroke-width="0.35" />
<text x="364.10" y="271.60" font-size="4.75" text-anchor="end" fill="#111" stroke="#111" stroke-width="0.12" >0.0</text>
<line x1="365.70" y1="152.50" x2="365.70" y2="275.50" stroke="#777" stroke-width="0.7" />
<line x1="365.70" y1="275.50" x2="461.80" y2="275.50" stroke="#777" stroke-width="0.7" />
<text x="0.00" y="0.00" font-size="6.2" text-anchor="middle" fill="#111" transform="translate(356.1,209.7) rotate(-90)">Proportion</text>
<path d="M390.50,265.00 C401.05,265.00 401.05,267.67 411.60,267.67 L411.60,267.79 C401.05,267.79 401.05,265.18 390.50,265.18 Z" fill="#F8766D" fill-opacity="0.5"/>
<path d="M390.50,265.18 C401.05,265.18 401.05,267.79 411.60,267.79 L411.60,267.91 C401.05,267.91 401.05,265.36 390.50,265.36 Z" fill="#EA8331" fill-opacity="0.5"/>
<path d="M390.50,265.36 C401.05,265.36 401.05,267.91 411.60,267.91 L411.60,268.02 C401.05,268.02 401.05,265.54 390.50,265.54 Z" fill="#D89000" fill-opacity="0.5"/>
<path d="M390.50,265.54 C401.05,265.54 401.05,268.02 411.60,268.02 L411.60,268.14 C401.05,268.14 401.05,265.72 390.50,265.72 Z" fill="#C09B00" fill-opacity="0.5"/>
<path d="M390.50,265.72 C401.05,265.72 401.05,268.14 411.60,268.14 L411.60,268.26 C401.05,268.26 401.05,265.90 390.50,265.90 Z" fill="#A3A500" fill-opacity="0.5"/>
<path d="M390.50,265.90 C401.05,265.90 401.05,268.26 411.60,268.26 L411.60,268.37 C401.05,268.37 401.05,266.08 390.50,266.08 Z" fill="#7CAE00" fill-opacity="0.5"/>
<path d="M390.50,266.08 C401.05,266.08 401.05,268.37 411.60,268.37 L411.60,268.49 C401.05,268.49 401.05,267.66 390.50,267.66 Z" fill="#39B600" fill-opacity="0.5"/>
<path d="M390.50,267.66 C401.05,267.66 401.05,268.49 411.60,268.49 L411.60,268.60 C401.05,268.60 401.05,267.84 390.50,267.84 Z" fill="#00BB4E" fill-opacity="0.5"/>
<path d="M390.50,267.84 C401.05,267.84 401.05,268.60 411.60,268.60 L411.60,268.72 C401.05,268.72 401.05,268.02 390.50,268.02 Z" fill="#00BF7D" fill-opacity="0.5"/>
<path d="M390.50,268.02 C401.05,268.02 401.05,268.72 411.60,268.72 L411.60,268.84 C401.05,268.84 401.05,268.20 390.50,268.20 Z" fill="#00C1A3" fill-opacity="0.5"/>
<path d="M390.50,268.20 C401.05,268.20 401.05,268.84 411.60,268.84 L411.60,268.95 C401.05,268.95 401.05,268.38 390.50,268.38 Z" fill="#00BFC4" fill-opacity="0.5"/>
<path d="M390.50,268.38 C401.05,268.38 401.05,268.95 411.60,268.95 L411.60,269.07 C401.05,269.07 401.05,268.56 390.50,268.56 Z" fill="#00BAE0" fill-opacity="0.5"/>
<path d="M390.50,268.56 C401.05,268.56 401.05,269.07 411.60,269.07 L411.60,269.19 C401.05,269.19 401.05,268.74 390.50,268.74 Z" fill="#00B0F6" fill-opacity="0.5"/>
<path d="M390.50,268.74 C401.05,268.74 401.05,269.19 411.60,269.19 L411.60,269.30 C401.05,269.30 401.05,268.92 390.50,268.92 Z" fill="#35A2FF" fill-opacity="0.5"/>
<path d="M390.50,268.92 C401.05,268.92 401.05,269.30 411.60,269.30 L411.60,269.42 C401.05,269.42 401.05,269.10 390.50,269.10 Z" fill="#9590FF" fill-opacity="0.5"/>
<path d="M390.50,269.10 C401.05,269.10 401.05,269.42 411.60,269.42 L411.60,269.53 C401.05,269.53 401.05,269.28 390.50,269.28 Z" fill="#C77CFF" fill-opacity="0.5"/>
<path d="M390.50,269.28 C401.05,269.28 401.05,269.53 411.60,269.53 L411.60,269.65 C401.05,269.65 401.05,269.46 390.50,269.46 Z" fill="#E76BF3" fill-opacity="0.5"/>
<path d="M390.50,269.46 C401.05,269.46 401.05,269.65 411.60,269.65 L411.60,269.77 C401.05,269.77 401.05,269.64 390.50,269.64 Z" fill="#FA62DB" fill-opacity="0.5"/>
<path d="M390.50,269.64 C401.05,269.64 401.05,269.77 411.60,269.77 L411.60,269.88 C401.05,269.88 401.05,269.82 390.50,269.82 Z" fill="#FF62BC" fill-opacity="0.5"/>
<path d="M390.50,269.82 C401.05,269.82 401.05,269.88 411.60,269.88 L411.60,270.00 C401.05,270.00 401.05,270.00 390.50,270.00 Z" fill="#FF6A98" fill-opacity="0.5"/>
<path d="M422.90,267.67 C433.35,267.67 433.35,158.79 443.80,158.79 L443.80,170.41 C433.35,170.41 433.35,267.79 422.90,267.79 Z" fill="#F8766D" fill-opacity="0.5"/>
<path d="M422.90,267.79 C433.35,267.79 433.35,170.41 443.80,170.41 L443.80,174.01 C433.35,174.01 433.35,267.91 422.90,267.91 Z" fill="#EA8331" fill-opacity="0.5"/>
<path d="M422.90,267.91 C433.35,267.91 433.35,174.01 443.80,174.01 L443.80,177.81 C433.35,177.81 433.35,268.02 422.90,268.02 Z" fill="#D89000" fill-opacity="0.5"/>
<path d="M422.90,268.02 C433.35,268.02 433.35,177.81 443.80,177.81 L443.80,181.41 C433.35,181.41 433.35,268.14 422.90,268.14 Z" fill="#C09B00" fill-opacity="0.5"/>
<path d="M422.90,268.14 C433.35,268.14 433.35,181.41 443.80,181.41 L443.80,190.50 C433.35,190.50 433.35,268.26 422.90,268.26 Z" fill="#A3A500" fill-opacity="0.5"/>
<path d="M422.90,268.26 C433.35,268.26 433.35,190.50 443.80,190.50 L443.80,198.32 C433.35,198.32 433.35,268.37 422.90,268.37 Z" fill="#7CAE00" fill-opacity="0.5"/>
<path d="M422.90,268.37 C433.35,268.37 433.35,198.32 443.80,198.32 L443.80,203.61 C433.35,203.61 433.35,268.49 422.90,268.49 Z" fill="#39B600" fill-opacity="0.5"/>
<path d="M422.90,268.49 C433.35,268.49 433.35,203.61 443.80,203.61 L443.80,208.90 C433.35,208.90 433.35,268.60 422.90,268.60 Z" fill="#00BB4E" fill-opacity="0.5"/>
<path d="M422.90,268.60 C433.35,268.60 433.35,208.90 443.80,208.90 L443.80,212.28 C433.35,212.28 433.35,268.72 422.90,268.72 Z" fill="#00BF7D" fill-opacity="0.5"/>
<path d="M422.90,268.72 C433.35,268.72 433.35,212.28 443.80,212.28 L443.80,215.24 C433.35,215.24 433.35,268.84 422.90,268.84 Z" fill="#00C1A3" fill-opacity="0.5"/>
<path d="M422.90,268.84 C433.35,268.84 433.35,215.24 443.80,215.24 L443.80,219.04 C433.35,219.04 433.35,268.95 422.90,268.95 Z" fill="#00BFC4" fill-opacity="0.5"/>
<path d="M422.90,268.95 C433.35,268.95 433.35,219.04 443.80,219.04 L443.80,225.39 C433.35,225.39 433.35,269.07 422.90,269.07 Z" fill="#00BAE0" fill-opacity="0.5"/>
<path d="M422.90,269.07 C433.35,269.07 433.35,225.39 443.80,225.39 L443.80,231.73 C433.35,231.73 433.35,269.19 422.90,269.19 Z" fill="#00B0F6" fill-opacity="0.5"/>
<path d="M422.90,269.19 C433.35,269.19 433.35,231.73 443.80,231.73 L443.80,240.19 C433.35,240.19 433.35,269.30 422.90,269.30 Z" fill="#35A2FF" fill-opacity="0.5"/>
<path d="M422.90,269.30 C433.35,269.30 433.35,240.19 443.80,240.19 L443.80,247.59 C433.35,247.59 433.35,269.42 422.90,269.42 Z" fill="#9590FF" fill-opacity="0.5"/>
<path d="M422.90,269.42 C433.35,269.42 433.35,247.59 443.80,247.59 L443.80,251.39 C433.35,251.39 433.35,269.53 422.90,269.53 Z" fill="#C77CFF" fill-opacity="0.5"/>
<path d="M422.90,269.53 C433.35,269.53 433.35,251.39 443.80,251.39 L443.80,259.85 C433.35,259.85 433.35,269.65 422.90,269.65 Z" fill="#E76BF3" fill-opacity="0.5"/>
<path d="M422.90,269.65 C433.35,269.65 433.35,259.85 443.80,259.85 L443.80,263.02 C433.35,263.02 433.35,269.77 422.90,269.77 Z" fill="#FA62DB" fill-opacity="0.5"/>
<path d="M422.90,269.77 C433.35,269.77 433.35,263.02 443.80,263.02 L443.80,266.62 C433.35,266.62 433.35,269.88 422.90,269.88 Z" fill="#FF62BC" fill-opacity="0.5"/>
<path d="M422.90,269.88 C433.35,269.88 433.35,266.62 443.80,266.62 L443.80,270.00 C433.35,270.00 433.35,270.00 422.90,270.00 Z" fill="#FF6A98" fill-opacity="0.5"/>
<rect x="379.30" y="265.00" width="11.20" height="0.18" fill="#F8766D" stroke="#111" stroke-width="0.3" />
<rect x="379.30" y="265.18" width="11.20" height="0.18" fill="#EA8331" stroke="#111" stroke-width="0.3" />
<rect x="379.30" y="265.36" width="11.20" height="0.18" fill="#D89000" stroke="#111" stroke-width="0.3" />
<rect x="379.30" y="265.54" width="11.20" height="0.18" fill="#C09B00" stroke="#111" stroke-width="0.3" />
<rect x="379.30" y="265.72" width="11.20" height="0.18" fill="#A3A500" stroke="#111" stroke-width="0.3" />
<rect x="379.30" y="265.90" width="11.20" height="0.18" fill="#7CAE00" stroke="#111" stroke-width="0.3" />
<rect x="379.30" y="266.08" width="11.20" height="1.59" fill="#39B600" stroke="#111" stroke-width="0.3" />
<rect x="379.30" y="267.66" width="11.20" height="0.18" fill="#00BB4E" stroke="#111" stroke-width="0.3" />
<rect x="379.30" y="267.84" width="11.20" height="0.18" fill="#00BF7D" stroke="#111" stroke-width="0.3" />
<rect x="379.30" y="268.02" width="11.20" height="0.18" fill="#00C1A3" stroke="#111" stroke-width="0.3" />
<rect x="379.30" y="268.20" width="11.20" height="0.18" fill="#00BFC4" stroke="#111" stroke-width="0.3" />
<rect x="379.30" y="268.38" width="11.20" height="0.18" fill="#00BAE0" stroke="#111" stroke-width="0.3" />
<rect x="379.30" y="268.56" width="11.20" height="0.18" fill="#00B0F6" stroke="#111" stroke-width="0.3" />
<rect x="379.30" y="268.74" width="11.20" height="0.18" fill="#35A2FF" stroke="#111" stroke-width="0.3" />
<rect x="379.30" y="268.92" width="11.20" height="0.18" fill="#9590FF" stroke="#111" stroke-width="0.3" />
<rect x="379.30" y="269.10" width="11.20" height="0.18" fill="#C77CFF" stroke="#111" stroke-width="0.3" />
<rect x="379.30" y="269.28" width="11.20" height="0.18" fill="#E76BF3" stroke="#111" stroke-width="0.3" />
<rect x="379.30" y="269.46" width="11.20" height="0.18" fill="#FA62DB" stroke="#111" stroke-width="0.3" />
<rect x="379.30" y="269.64" width="11.20" height="0.18" fill="#FF62BC" stroke="#111" stroke-width="0.3" />
<rect x="379.30" y="269.82" width="11.20" height="0.18" fill="#FF6A98" stroke="#111" stroke-width="0.3" />
<rect x="379.30" y="265.00" width="11.20" height="5.00" fill="none" stroke="#111" stroke-width="0.4" />
<rect x="411.60" y="267.67" width="11.30" height="0.12" fill="#F8766D" stroke="#111" stroke-width="0.3" />
<rect x="411.60" y="267.79" width="11.30" height="0.12" fill="#EA8331" stroke="#111" stroke-width="0.3" />
<rect x="411.60" y="267.91" width="11.30" height="0.12" fill="#D89000" stroke="#111" stroke-width="0.3" />
<rect x="411.60" y="268.02" width="11.30" height="0.12" fill="#C09B00" stroke="#111" stroke-width="0.3" />
<rect x="411.60" y="268.14" width="11.30" height="0.12" fill="#A3A500" stroke="#111" stroke-width="0.3" />
<rect x="411.60" y="268.26" width="11.30" height="0.12" fill="#7CAE00" stroke="#111" stroke-width="0.3" />
<rect x="411.60" y="268.37" width="11.30" height="0.12" fill="#39B600" stroke="#111" stroke-width="0.3" />
<rect x="411.60" y="268.49" width="11.30" height="0.12" fill="#00BB4E" stroke="#111" stroke-width="0.3" />
<rect x="411.60" y="268.60" width="11.30" height="0.12" fill="#00BF7D" stroke="#111" stroke-width="0.3" />
<rect x="411.60" y="268.72" width="11.30" height="0.12" fill="#00C1A3" stroke="#111" stroke-width="0.3" />
<rect x="411.60" y="268.84" width="11.30" height="0.12" fill="#00BFC4" stroke="#111" stroke-width="0.3" />
<rect x="411.60" y="268.95" width="11.30" height="0.12" fill="#00BAE0" stroke="#111" stroke-width="0.3" />
<rect x="411.60" y="269.07" width="11.30" height="0.12" fill="#00B0F6" stroke="#111" stroke-width="0.3" />
<rect x="411.60" y="269.19" width="11.30" height="0.12" fill="#35A2FF" stroke="#111" stroke-width="0.3" />
<rect x="411.60" y="269.30" width="11.30" height="0.12" fill="#9590FF" stroke="#111" stroke-width="0.3" />
<rect x="411.60" y="269.42" width="11.30" height="0.12" fill="#C77CFF" stroke="#111" stroke-width="0.3" />
<rect x="411.60" y="269.53" width="11.30" height="0.12" fill="#E76BF3" stroke="#111" stroke-width="0.3" />
<rect x="411.60" y="269.65" width="11.30" height="0.12" fill="#FA62DB" stroke="#111" stroke-width="0.3" />
<rect x="411.60" y="269.77" width="11.30" height="0.12" fill="#FF62BC" stroke="#111" stroke-width="0.3" />
<rect x="411.60" y="269.88" width="11.30" height="0.12" fill="#FF6A98" stroke="#111" stroke-width="0.3" />
<rect x="411.60" y="267.67" width="11.30" height="2.33" fill="none" stroke="#111" stroke-width="0.4" />
<rect x="443.80" y="158.79" width="10.80" height="11.63" fill="#F8766D" stroke="#111" stroke-width="0.3" />
<rect x="443.80" y="170.41" width="10.80" height="3.59" fill="#EA8331" stroke="#111" stroke-width="0.3" />
<rect x="443.80" y="174.01" width="10.80" height="3.81" fill="#D89000" stroke="#111" stroke-width="0.3" />
<rect x="443.80" y="177.81" width="10.80" height="3.59" fill="#C09B00" stroke="#111" stroke-width="0.3" />
<rect x="443.80" y="181.41" width="10.80" height="9.09" fill="#A3A500" stroke="#111" stroke-width="0.3" />
<rect x="443.80" y="190.50" width="10.80" height="7.82" fill="#7CAE00" stroke="#111" stroke-width="0.3" />
<rect x="443.80" y="198.32" width="10.80" height="5.29" fill="#39B600" stroke="#111" stroke-width="0.3" />
<rect x="443.80" y="203.61" width="10.80" height="5.29" fill="#00BB4E" stroke="#111" stroke-width="0.3" />
<rect x="443.80" y="208.90" width="10.80" height="3.38" fill="#00BF7D" stroke="#111" stroke-width="0.3" />
<rect x="443.80" y="212.28" width="10.80" height="2.96" fill="#00C1A3" stroke="#111" stroke-width="0.3" />
<rect x="443.80" y="215.24" width="10.80" height="3.81" fill="#00BFC4" stroke="#111" stroke-width="0.3" />
<rect x="443.80" y="219.04" width="10.80" height="6.34" fill="#00BAE0" stroke="#111" stroke-width="0.3" />
<rect x="443.80" y="225.39" width="10.80" height="6.34" fill="#00B0F6" stroke="#111" stroke-width="0.3" />
<rect x="443.80" y="231.73" width="10.80" height="8.46" fill="#35A2FF" stroke="#111" stroke-width="0.3" />
<rect x="443.80" y="240.19" width="10.80" height="7.40" fill="#9590FF" stroke="#111" stroke-width="0.3" />
<rect x="443.80" y="247.59" width="10.80" height="3.81" fill="#C77CFF" stroke="#111" stroke-width="0.3" />
<rect x="443.80" y="251.39" width="10.80" height="8.46" fill="#E76BF3" stroke="#111" stroke-width="0.3" />
<rect x="443.80" y="259.85" width="10.80" height="3.17" fill="#FA62DB" stroke="#111" stroke-width="0.3" />
<rect x="443.80" y="263.02" width="10.80" height="3.59" fill="#FF62BC" stroke="#111" stroke-width="0.3" />
<rect x="443.80" y="266.62" width="10.80" height="3.38" fill="#FF6A98" stroke="#111" stroke-width="0.3" />
<rect x="443.80" y="158.79" width="10.80" height="111.21" fill="none" stroke="#111" stroke-width="0.4" />
<text x="385.60" y="282.70" font-size="4.7" text-anchor="middle" fill="#111" stroke="#111" stroke-width="0.12" >Tumor</text>
<text x="416.90" y="282.70" font-size="4.7" text-anchor="middle" fill="#111" stroke="#111" stroke-width="0.12" >pre-REPTIL</text>
<text x="449.70" y="282.70" font-size="4.7" text-anchor="middle" fill="#111" stroke="#111" stroke-width="0.12" >REPTIL</text>
<text x="475.00" y="156.60" font-size="6.1" text-anchor="start" fill="#111" >Clonotype</text>
<rect x="475.00" y="159.00" width="5.50" height="5.85" fill="#F8766D" stroke="#333" stroke-width="0.45" />
<text x="483.00" y="163.10" font-size="3.35" text-anchor="start" fill="#111" stroke="#111" stroke-width="0.12" >CASREQGAGTEAFF</text>
<rect x="475.00" y="164.85" width="5.50" height="5.85" fill="#EA8331" stroke="#333" stroke-width="0.45" />
<text x="483.00" y="168.95" font-size="3.35" text-anchor="start" fill="#111" stroke="#111" stroke-width="0.12" >CASRTGGAPDTEAFF</text>
<rect x="475.00" y="170.70" width="5.50" height="5.85" fill="#D89000" stroke="#333" stroke-width="0.45" />
<text x="483.00" y="174.80" font-size="3.35" text-anchor="start" fill="#111" stroke="#111" stroke-width="0.12" >CASRTGTSSPLHF</text>
<rect x="475.00" y="176.55" width="5.50" height="5.85" fill="#C09B00" stroke="#333" stroke-width="0.45" />
<text x="483.00" y="180.65" font-size="3.35" text-anchor="start" fill="#111" stroke="#111" stroke-width="0.12" >CASSEALRRAKNIQYF</text>
<rect x="475.00" y="182.40" width="5.50" height="5.85" fill="#A3A500" stroke="#333" stroke-width="0.45" />
<text x="483.00" y="186.50" font-size="3.35" text-anchor="start" fill="#111" stroke="#111" stroke-width="0.12" >CASSFGGTGDGYTF</text>
<rect x="475.00" y="188.25" width="5.50" height="5.85" fill="#7CAE00" stroke="#333" stroke-width="0.45" />
<text x="483.00" y="192.35" font-size="3.35" text-anchor="start" fill="#111" stroke="#111" stroke-width="0.12" >CASSFQGLSGNTIYF</text>
<rect x="475.00" y="194.10" width="5.50" height="5.85" fill="#39B600" stroke="#333" stroke-width="0.45" />
<text x="483.00" y="198.20" font-size="3.35" text-anchor="start" fill="#111" stroke="#111" stroke-width="0.12" >CASSFSDEQFF</text>
<rect x="475.00" y="199.95" width="5.50" height="5.85" fill="#00BB4E" stroke="#333" stroke-width="0.45" />
<text x="483.00" y="204.05" font-size="3.35" text-anchor="start" fill="#111" stroke="#111" stroke-width="0.12" >CASSHPGLWQPQHF</text>
<rect x="475.00" y="205.80" width="5.50" height="5.85" fill="#00BF7D" stroke="#333" stroke-width="0.45" />
<text x="483.00" y="209.90" font-size="3.35" text-anchor="start" fill="#111" stroke="#111" stroke-width="0.12" >CASSLAARGTEAFF</text>
<rect x="475.00" y="211.65" width="5.50" height="5.85" fill="#00C1A3" stroke="#333" stroke-width="0.45" />
<text x="483.00" y="215.75" font-size="3.35" text-anchor="start" fill="#111" stroke="#111" stroke-width="0.12" >CASSLRSGNTIYF</text>
<rect x="475.00" y="217.50" width="5.50" height="5.85" fill="#00BFC4" stroke="#333" stroke-width="0.45" />
<text x="483.00" y="221.60" font-size="3.35" text-anchor="start" fill="#111" stroke="#111" stroke-width="0.12" >CASSSGTAGGYTF</text>
<rect x="475.00" y="223.35" width="5.50" height="5.85" fill="#00BAE0" stroke="#333" stroke-width="0.45" />
<text x="483.00" y="227.45" font-size="3.35" text-anchor="start" fill="#111" stroke="#111" stroke-width="0.12" >CASSSNRGLNEKLFF</text>
<rect x="475.00" y="229.20" width="5.50" height="5.85" fill="#00B0F6" stroke="#333" stroke-width="0.45" />
<text x="483.00" y="233.30" font-size="3.35" text-anchor="start" fill="#111" stroke="#111" stroke-width="0.12" >CASSSPITGLAFF</text>
<rect x="475.00" y="235.05" width="5.50" height="5.85" fill="#35A2FF" stroke="#333" stroke-width="0.45" />
<text x="483.00" y="239.15" font-size="3.35" text-anchor="start" fill="#111" stroke="#111" stroke-width="0.12" >CASSTSGGSEQYF</text>
<rect x="475.00" y="240.90" width="5.50" height="5.85" fill="#9590FF" stroke="#333" stroke-width="0.45" />
<text x="483.00" y="245.00" font-size="3.35" text-anchor="start" fill="#111" stroke="#111" stroke-width="0.12" >CATRGATGELFF</text>
<rect x="475.00" y="246.75" width="5.50" height="5.85" fill="#C77CFF" stroke="#333" stroke-width="0.45" />
<text x="483.00" y="250.85" font-size="3.35" text-anchor="start" fill="#111" stroke="#111" stroke-width="0.12" >CAWSVPNGEQYF</text>
<rect x="475.00" y="252.60" width="5.50" height="5.85" fill="#E76BF3" stroke="#333" stroke-width="0.45" />
<text x="483.00" y="256.70" font-size="3.35" text-anchor="start" fill="#111" stroke="#111" stroke-width="0.12" >CAWSVRFGYTF</text>
<rect x="475.00" y="258.45" width="5.50" height="5.85" fill="#FA62DB" stroke="#333" stroke-width="0.45" />
<text x="483.00" y="262.55" font-size="3.35" text-anchor="start" fill="#111" stroke="#111" stroke-width="0.12" >CSAGGGGSQPQHF</text>
<rect x="475.00" y="264.30" width="5.50" height="5.85" fill="#FF62BC" stroke="#333" stroke-width="0.45" />
<text x="483.00" y="268.40" font-size="3.35" text-anchor="start" fill="#111" stroke="#111" stroke-width="0.12" >CSAGSDRFREAEAFF</text>
<rect x="475.00" y="270.15" width="5.50" height="5.85" fill="#FF6A98" stroke="#333" stroke-width="0.45" />
<text x="483.00" y="274.25" font-size="3.35" text-anchor="start" fill="#111" stroke="#111" stroke-width="0.12" >PHTKPLHF</text>
</g>
<g id="panelD">
<text transform="translate(0.7,321.3) scale(0.9,1)" font-size="15.6">D</text>
<path d="M116.0,320.7h1.8v1.8h-1.8zM101.5,321.9h1.8v1.8h-1.8zM93.4,323.0h1.8v1.8h-1.8zM84.9,326.0h1.8v1.8h-1.8zM110.5,327.2h1.8v1.8h-1.8zM105.9,334.8h1.8v1.8h-1.8zM101.5,339.2h1.8v1.8h-1.8zM105.2,341.7h1.8v1.8h-1.8zM97.6,344.0h1.8v1.8h-1.8zM100.3,345.6h1.8v1.8h-1.8zM102.9,357.2h1.8v1.8h-1.8zM89.9,359.9h1.8v1.8h-1.8zM95.9,363.6h1.8v1.8h-1.8zM130.8,361.8h1.8v1.8h-1.8zM86.7,370.6h1.8v1.8h-1.8zM108.6,372.9h1.8v1.8h-1.8zM113.7,374.0h1.8v1.8h-1.8zM120.2,377.0h1.8v1.8h-1.8zM116.7,379.1h1.8v1.8h-1.8zM96.9,377.9h1.8v1.8h-1.8zM80.9,379.1h1.8v1.8h-1.8zM84.9,382.6h1.8v1.8h-1.8zM86.0,385.3h1.8v1.8h-1.8zM99.2,383.7h1.8v1.8h-1.8zM98.7,385.3h1.8v1.8h-1.8zM110.9,383.0h1.8v1.8h-1.8zM136.1,382.6h1.8v1.8h-1.8zM82.3,387.2h1.8v1.8h-1.8zM83.7,390.0h1.8v1.8h-1.8zM89.9,391.1h1.8v1.8h-1.8zM87.9,394.6h1.8v1.8h-1.8zM86.7,395.7h1.8v1.8h-1.8zM93.4,395.3h1.8v1.8h-1.8zM96.4,394.6h1.8v1.8h-1.8zM94.8,397.1h1.8v1.8h-1.8zM89.3,398.3h1.8v1.8h-1.8zM82.3,399.4h1.8v1.8h-1.8zM135.9,396.0h1.8v1.8h-1.8zM108.6,398.7h1.8v1.8h-1.8zM98.0,402.6h1.8v1.8h-1.8zM80.3,402.2h1.8v1.8h-1.8zM94.6,405.6h1.8v1.8h-1.8zM116.0,407.3h1.8v1.8h-1.8zM81.4,406.8h1.8v1.8h-1.8zM83.7,409.1h1.8v1.8h-1.8zM86.0,411.0h1.8v1.8h-1.8zM91.8,410.7h1.8v1.8h-1.8zM99.9,411.9h1.8v1.8h-1.8zM90.6,416.0h1.8v1.8h-1.8zM80.9,416.5h1.8v1.8h-1.8zM105.6,418.1h1.8v1.8h-1.8zM94.8,421.1h1.8v1.8h-1.8zM87.9,423.4h1.8v1.8h-1.8zM189.9,417.2h1.8v1.8h-1.8zM87.9,424.1h1.8v1.8h-1.8zM103.8,425.3h1.8v1.8h-1.8zM105.6,428.0h1.8v1.8h-1.8zM96.9,428.7h1.8v1.8h-1.8zM80.9,428.3h1.8v1.8h-1.8zM84.9,429.9h1.8v1.8h-1.8zM81.9,434.5h1.8v1.8h-1.8zM80.3,434.9h1.8v1.8h-1.8zM140.3,436.8h1.8v1.8h-1.8zM84.9,439.1h1.8v1.8h-1.8zM86.7,440.3h1.8v1.8h-1.8zM94.1,439.6h1.8v1.8h-1.8zM79.8,440.9h1.8v1.8h-1.8zM88.3,445.3h1.8v1.8h-1.8zM86.7,446.5h1.8v1.8h-1.8zM91.1,449.9h1.8v1.8h-1.8zM94.8,449.9h1.8v1.8h-1.8zM80.9,454.1h1.8v1.8h-1.8zM91.3,454.1h1.8v1.8h-1.8zM100.6,460.6h1.8v1.8h-1.8zM84.9,462.9h1.8v1.8h-1.8zM80.9,465.6h1.8v1.8h-1.8zM94.3,467.9h1.8v1.8h-1.8zM96.4,471.4h1.8v1.8h-1.8zM80.9,471.4h1.8v1.8h-1.8zM86.7,473.0h1.8v1.8h-1.8zM132.2,469.8h1.8v1.8h-1.8zM79.8,477.2h1.8v1.8h-1.8zM124.8,479.0h1.8v1.8h-1.8zM105.6,481.8h1.8v1.8h-1.8zM80.9,484.6h1.8v1.8h-1.8zM83.7,484.6h1.8v1.8h-1.8zM87.9,484.6h1.8v1.8h-1.8zM91.8,484.6h1.8v1.8h-1.8zM98.3,484.6h1.8v1.8h-1.8zM109.8,487.6h1.8v1.8h-1.8zM124.8,487.6h1.8v1.8h-1.8zM83.7,487.6h1.8v1.8h-1.8zM91.3,491.0h1.8v1.8h-1.8zM82.3,495.6h1.8v1.8h-1.8zM86.7,500.7h1.8v1.8h-1.8zM99.2,500.7h1.8v1.8h-1.8zM107.3,500.7h1.8v1.8h-1.8zM111.4,500.7h1.8v1.8h-1.8zM113.7,500.7h1.8v1.8h-1.8zM84.9,507.4h1.8v1.8h-1.8zM86.7,507.4h1.8v1.8h-1.8zM124.6,507.4h1.8v1.8h-1.8zM151.1,507.4h1.8v1.8h-1.8zM80.9,516.9h1.8v1.8h-1.8zM84.9,516.9h1.8v1.8h-1.8zM86.0,516.9h1.8v1.8h-1.8zM93.4,516.9h1.8v1.8h-1.8zM94.6,516.9h1.8v1.8h-1.8zM98.3,516.9h1.8v1.8h-1.8zM102.9,516.9h1.8v1.8h-1.8zM106.3,516.9h1.8v1.8h-1.8zM121.3,516.9h1.8v1.8h-1.8zM79.8,532.8h1.8v1.8h-1.8zM80.9,532.8h1.8v1.8h-1.8zM82.3,532.8h1.8v1.8h-1.8zM86.0,532.8h1.8v1.8h-1.8zM87.9,532.8h1.8v1.8h-1.8zM97.6,532.8h1.8v1.8h-1.8zM99.2,532.8h1.8v1.8h-1.8zM109.8,532.8h1.8v1.8h-1.8zM114.9,532.8h1.8v1.8h-1.8zM122.0,532.8h1.8v1.8h-1.8zM52.0,332.9h1.8v1.8h-1.8zM52.0,342.9h1.8v1.8h-1.8zM52.0,345.9h1.8v1.8h-1.8zM52.0,348.5h1.8v1.8h-1.8zM52.0,349.6h1.8v1.8h-1.8zM52.0,354.1h1.8v1.8h-1.8zM52.0,355.5h1.8v1.8h-1.8zM52.0,356.8h1.8v1.8h-1.8zM52.0,357.9h1.8v1.8h-1.8zM52.0,359.3h1.8v1.8h-1.8zM52.0,360.6h1.8v1.8h-1.8zM52.0,362.9h1.8v1.8h-1.8zM52.0,364.3h1.8v1.8h-1.8zM52.0,365.6h1.8v1.8h-1.8zM52.0,367.0h1.8v1.8h-1.8zM52.0,369.4h1.8v1.8h-1.8zM52.0,370.8h1.8v1.8h-1.8zM52.0,372.1h1.8v1.8h-1.8zM52.0,385.6h1.8v1.8h-1.8zM52.0,387.8h1.8v1.8h-1.8zM52.0,390.3h1.8v1.8h-1.8zM52.0,391.7h1.8v1.8h-1.8zM52.0,397.8h1.8v1.8h-1.8zM52.0,401.1h1.8v1.8h-1.8zM52.0,402.5h1.8v1.8h-1.8zM52.0,403.8h1.8v1.8h-1.8zM52.0,409.5h1.8v1.8h-1.8zM52.0,414.6h1.8v1.8h-1.8zM52.0,416.0h1.8v1.8h-1.8zM52.0,417.3h1.8v1.8h-1.8zM52.0,422.1h1.8v1.8h-1.8zM52.0,424.1h1.8v1.8h-1.8zM52.0,425.5h1.8v1.8h-1.8zM52.0,426.8h1.8v1.8h-1.8zM52.0,430.8h1.8v1.8h-1.8zM52.0,433.3h1.8v1.8h-1.8zM52.0,435.8h1.8v1.8h-1.8zM52.0,437.2h1.8v1.8h-1.8zM52.0,438.5h1.8v1.8h-1.8zM52.0,439.9h1.8v1.8h-1.8zM52.0,441.9h1.8v1.8h-1.8zM52.0,443.3h1.8v1.8h-1.8zM52.0,444.6h1.8v1.8h-1.8zM52.0,447.5h1.8v1.8h-1.8zM52.0,448.7h1.8v1.8h-1.8zM52.0,450.0h1.8v1.8h-1.8zM52.0,451.2h1.8v1.8h-1.8zM52.0,452.5h1.8v1.8h-1.8zM52.0,453.7h1.8v1.8h-1.8zM52.0,455.0h1.8v1.8h-1.8zM52.0,456.2h1.8v1.8h-1.8zM52.0,457.5h1.8v1.8h-1.8zM52.0,458.7h1.8v1.8h-1.8zM52.0,460.0h1.8v1.8h-1.8zM52.0,461.2h1.8v1.8h-1.8zM52.0,462.5h1.8v1.8h-1.8zM52.0,463.7h1.8v1.8h-1.8zM52.0,465.0h1.8v1.8h-1.8zM52.0,472.6h1.8v1.8h-1.8zM52.0,476.0h1.8v1.8h-1.8zM52.0,478.5h1.8v1.8h-1.8zM52.0,481.0h1.8v1.8h-1.8zM52.0,487.7h1.8v1.8h-1.8zM52.0,491.1h1.8v1.8h-1.8zM52.0,495.2h1.8v1.8h-1.8zM52.0,501.1h1.8v1.8h-1.8zM52.0,506.9h1.8v1.8h-1.8zM52.0,516.7h1.8v1.8h-1.8zM52.0,533.0h1.8v1.8h-1.8zM61.2,337.2h1.8v1.8h-1.8zM61.2,340.1h1.8v1.8h-1.8zM61.2,342.9h1.8v1.8h-1.8zM61.2,348.5h1.8v1.8h-1.8zM61.2,349.6h1.8v1.8h-1.8zM61.2,351.0h1.8v1.8h-1.8zM61.2,361.0h1.8v1.8h-1.8zM61.2,363.0h1.8v1.8h-1.8zM61.2,365.7h1.8v1.8h-1.8zM61.2,376.4h1.8v1.8h-1.8zM61.2,385.6h1.8v1.8h-1.8zM61.2,386.9h1.8v1.8h-1.8zM61.2,391.1h1.8v1.8h-1.8zM61.2,395.3h1.8v1.8h-1.8zM61.2,397.0h1.8v1.8h-1.8zM61.2,400.3h1.8v1.8h-1.8zM61.2,403.7h1.8v1.8h-1.8zM61.2,405.1h1.8v1.8h-1.8zM61.2,406.4h1.8v1.8h-1.8zM61.2,409.5h1.8v1.8h-1.8zM61.2,411.0h1.8v1.8h-1.8zM61.2,412.5h1.8v1.8h-1.8zM61.2,414.0h1.8v1.8h-1.8zM61.2,415.5h1.8v1.8h-1.8zM61.2,417.0h1.8v1.8h-1.8zM61.2,421.3h1.8v1.8h-1.8zM61.2,430.5h1.8v1.8h-1.8zM61.2,432.1h1.8v1.8h-1.8zM61.2,437.5h1.8v1.8h-1.8zM61.2,440.8h1.8v1.8h-1.8zM61.2,443.3h1.8v1.8h-1.8zM61.2,445.0h1.8v1.8h-1.8zM61.2,450.9h1.8v1.8h-1.8zM61.2,452.3h1.8v1.8h-1.8zM61.2,453.7h1.8v1.8h-1.8zM61.2,455.1h1.8v1.8h-1.8zM61.2,456.5h1.8v1.8h-1.8zM61.2,460.1h1.8v1.8h-1.8zM61.2,462.6h1.8v1.8h-1.8zM61.2,466.8h1.8v1.8h-1.8zM61.2,471.8h1.8v1.8h-1.8zM61.2,473.3h1.8v1.8h-1.8zM61.2,474.8h1.8v1.8h-1.8zM61.2,476.3h1.8v1.8h-1.8zM61.2,481.8h1.8v1.8h-1.8zM61.2,484.4h1.8v1.8h-1.8zM61.2,487.7h1.8v1.8h-1.8zM61.2,491.1h1.8v1.8h-1.8zM61.2,495.2h1.8v1.8h-1.8zM61.2,501.1h1.8v1.8h-1.8zM61.2,506.9h1.8v1.8h-1.8zM61.2,516.7h1.8v1.8h-1.8zM61.2,533.0h1.8v1.8h-1.8zM66.5,355.5h1.8v1.8h-1.8zM66.5,370.5h1.8v1.8h-1.8zM66.5,376.4h1.8v1.8h-1.8zM66.5,382.8h1.8v1.8h-1.8zM66.5,386.1h1.8v1.8h-1.8zM66.5,389.8h1.8v1.8h-1.8zM66.5,393.6h1.8v1.8h-1.8zM66.5,396.2h1.8v1.8h-1.8zM66.5,398.7h1.8v1.8h-1.8zM66.5,401.2h1.8v1.8h-1.8zM66.5,403.7h1.8v1.8h-1.8zM66.5,406.2h1.8v1.8h-1.8zM66.5,414.6h1.8v1.8h-1.8zM66.5,419.6h1.8v1.8h-1.8zM66.5,422.1h1.8v1.8h-1.8zM66.5,434.1h1.8v1.8h-1.8zM66.5,435.5h1.8v1.8h-1.8zM66.5,445.0h1.8v1.8h-1.8zM66.5,447.5h1.8v1.8h-1.8zM66.5,452.9h1.8v1.8h-1.8zM66.5,454.2h1.8v1.8h-1.8zM66.5,460.1h1.8v1.8h-1.8zM66.5,462.6h1.8v1.8h-1.8zM66.5,471.8h1.8v1.8h-1.8zM66.5,473.5h1.8v1.8h-1.8zM66.5,479.0h1.8v1.8h-1.8zM66.5,481.8h1.8v1.8h-1.8zM66.5,491.1h1.8v1.8h-1.8zM66.5,495.2h1.8v1.8h-1.8zM66.5,516.7h1.8v1.8h-1.8zM66.5,533.0h1.8v1.8h-1.8zM69.9,351.8h1.8v1.8h-1.8zM69.9,367.7h1.8v1.8h-1.8zM69.9,369.4h1.8v1.8h-1.8zM69.9,371.9h1.8v1.8h-1.8zM69.9,376.1h1.8v1.8h-1.8zM69.9,380.3h1.8v1.8h-1.8zM69.9,384.4h1.8v1.8h-1.8zM69.9,390.3h1.8v1.8h-1.8zM69.9,395.3h1.8v1.8h-1.8zM69.9,404.5h1.8v1.8h-1.8zM69.9,413.7h1.8v1.8h-1.8zM69.9,421.3h1.8v1.8h-1.8zM69.9,427.8h1.8v1.8h-1.8zM69.9,430.0h1.8v1.8h-1.8zM69.9,440.8h1.8v1.8h-1.8zM69.9,454.2h1.8v1.8h-1.8zM69.9,459.2h1.8v1.8h-1.8zM69.9,481.8h1.8v1.8h-1.8zM69.9,484.4h1.8v1.8h-1.8zM69.9,501.1h1.8v1.8h-1.8zM69.9,506.9h1.8v1.8h-1.8zM69.9,533.0h1.8v1.8h-1.8zM73.2,363.0h1.8v1.8h-1.8zM73.2,372.4h1.8v1.8h-1.8zM73.2,391.1h1.8v1.8h-1.8zM73.2,392.8h1.8v1.8h-1.8zM73.2,399.5h1.8v1.8h-1.8zM73.2,402.8h1.8v1.8h-1.8zM73.2,405.4h1.8v1.8h-1.8zM73.2,410.4h1.8v1.8h-1.8zM73.2,425.8h1.8v1.8h-1.8zM73.2,427.4h1.8v1.8h-1.8zM73.2,434.1h1.8v1.8h-1.8zM73.2,439.2h1.8v1.8h-1.8zM73.2,440.8h1.8v1.8h-1.8zM73.2,446.7h1.8v1.8h-1.8zM73.2,448.9h1.8v1.8h-1.8zM73.2,465.1h1.8v1.8h-1.8zM73.2,468.5h1.8v1.8h-1.8zM75.4,353.0h1.8v1.8h-1.8zM75.4,376.1h1.8v1.8h-1.8zM75.4,409.5h1.8v1.8h-1.8zM75.4,419.6h1.8v1.8h-1.8zM75.4,426.1h1.8v1.8h-1.8zM75.4,433.3h1.8v1.8h-1.8zM75.4,435.8h1.8v1.8h-1.8zM75.4,445.0h1.8v1.8h-1.8zM75.4,468.5h1.8v1.8h-1.8zM75.4,484.4h1.8v1.8h-1.8zM75.4,491.1h1.8v1.8h-1.8zM75.4,506.9h1.8v1.8h-1.8zM77.7,345.9h1.8v1.8h-1.8zM77.7,372.7h1.8v1.8h-1.8zM77.7,377.2h1.8v1.8h-1.8zM77.7,393.6h1.8v1.8h-1.8zM77.7,397.8h1.8v1.8h-1.8zM77.7,400.3h1.8v1.8h-1.8zM77.7,412.9h1.8v1.8h-1.8zM77.7,414.6h1.8v1.8h-1.8zM77.7,425.4h1.8v1.8h-1.8zM77.7,429.1h1.8v1.8h-1.8zM77.7,456.7h1.8v1.8h-1.8zM77.7,471.8h1.8v1.8h-1.8zM77.7,491.1h1.8v1.8h-1.8zM77.7,501.1h1.8v1.8h-1.8zM77.7,506.9h1.8v1.8h-1.8zM77.7,516.7h1.8v1.8h-1.8zM77.4,533.0h1.8v1.8h-1.8zM78.7,533.0h1.8v1.8h-1.8zM57.1,542.7h1.2v1.0h-1.2zM62.3,542.7h1.2v1.0h-1.2zM133.3,542.7h1.2v1.0h-1.2zM80.1,542.7h1.2v1.0h-1.2zM143.1,542.7h1.2v1.0h-1.2zM76.6,542.7h1.2v1.0h-1.2zM78.2,542.7h1.2v1.0h-1.2zM101.9,542.7h1.2v1.0h-1.2zM70.8,542.7h1.2v1.0h-1.2zM88.6,542.7h1.2v1.0h-1.2zM145.1,542.7h1.2v1.0h-1.2zM138.1,542.7h1.2v1.0h-1.2zM131.1,542.7h1.2v1.0h-1.2zM113.6,542.7h1.2v1.0h-1.2zM141.0,542.7h1.2v1.0h-1.2zM143.6,542.7h1.2v1.0h-1.2zM105.7,542.7h1.2v1.0h-1.2zM122.2,542.7h1.2v1.0h-1.2zM57.2,542.7h1.2v1.0h-1.2zM123.4,542.7h1.2v1.0h-1.2zM96.1,542.7h1.2v1.0h-1.2zM125.4,542.7h1.2v1.0h-1.2zM114.9,542.7h1.2v1.0h-1.2zM80.2,542.7h1.2v1.0h-1.2zM57.1,542.7h1.2v1.0h-1.2zM142.3,542.7h1.2v1.0h-1.2zM64.7,542.7h1.2v1.0h-1.2zM98.2,542.7h1.2v1.0h-1.2zM85.7,542.7h1.2v1.0h-1.2zM81.3,542.7h1.2v1.0h-1.2zM124.1,542.7h1.2v1.0h-1.2zM147.1,542.7h1.2v1.0h-1.2zM77.6,542.7h1.2v1.0h-1.2zM116.0,542.7h1.2v1.0h-1.2zM81.6,542.7h1.2v1.0h-1.2zM106.4,542.7h1.2v1.0h-1.2zM90.6,542.7h1.2v1.0h-1.2zM68.6,542.7h1.2v1.0h-1.2zM68.1,542.7h1.2v1.0h-1.2zM72.6,542.7h1.2v1.0h-1.2zM140.2,542.7h1.2v1.0h-1.2zM100.6,542.7h1.2v1.0h-1.2zM73.7,542.7h1.2v1.0h-1.2zM140.3,542.7h1.2v1.0h-1.2zM149.0,542.7h1.2v1.0h-1.2zM96.0,542.7h1.2v1.0h-1.2zM65.9,542.7h1.2v1.0h-1.2zM71.1,542.7h1.2v1.0h-1.2zM61.2,542.7h1.2v1.0h-1.2zM85.6,542.7h1.2v1.0h-1.2zM61.2,542.7h1.2v1.0h-1.2zM75.6,542.7h1.2v1.0h-1.2zM77.5,542.7h1.2v1.0h-1.2zM107.6,542.7h1.2v1.0h-1.2zM138.4,542.7h1.2v1.0h-1.2zM125.1,542.7h1.2v1.0h-1.2zM92.4,542.7h1.2v1.0h-1.2zM92.5,542.7h1.2v1.0h-1.2zM103.2,542.7h1.2v1.0h-1.2zM88.9,542.7h1.2v1.0h-1.2zM46.5,464.3h1.0v1.2h-1.0zM46.5,520.5h1.0v1.2h-1.0zM46.5,476.6h1.0v1.2h-1.0zM46.5,336.1h1.0v1.2h-1.0zM46.5,507.5h1.0v1.2h-1.0zM46.5,430.6h1.0v1.2h-1.0zM46.5,404.9h1.0v1.2h-1.0zM46.5,357.4h1.0v1.2h-1.0zM46.5,489.2h1.0v1.2h-1.0zM46.5,477.9h1.0v1.2h-1.0zM46.5,482.5h1.0v1.2h-1.0zM46.5,451.7h1.0v1.2h-1.0zM46.5,442.3h1.0v1.2h-1.0zM46.5,338.9h1.0v1.2h-1.0zM46.5,360.3h1.0v1.2h-1.0zM46.5,355.4h1.0v1.2h-1.0zM46.5,528.7h1.0v1.2h-1.0zM46.5,526.6h1.0v1.2h-1.0zM46.5,388.6h1.0v1.2h-1.0zM46.5,350.7h1.0v1.2h-1.0zM46.5,436.8h1.0v1.2h-1.0zM46.5,413.6h1.0v1.2h-1.0zM46.5,533.1h1.0v1.2h-1.0zM46.5,453.4h1.0v1.2h-1.0zM46.5,344.4h1.0v1.2h-1.0zM46.5,365.0h1.0v1.2h-1.0zM46.5,358.9h1.0v1.2h-1.0zM46.5,335.1h1.0v1.2h-1.0zM46.5,482.5h1.0v1.2h-1.0zM46.5,510.9h1.0v1.2h-1.0zM46.5,501.7h1.0v1.2h-1.0zM46.5,426.8h1.0v1.2h-1.0zM46.5,394.2h1.0v1.2h-1.0zM46.5,341.4h1.0v1.2h-1.0zM46.5,386.1h1.0v1.2h-1.0zM46.5,401.3h1.0v1.2h-1.0zM46.5,377.4h1.0v1.2h-1.0zM46.5,440.0h1.0v1.2h-1.0zM46.5,420.8h1.0v1.2h-1.0zM46.5,525.1h1.0v1.2h-1.0zM46.5,373.8h1.0v1.2h-1.0zM46.5,485.8h1.0v1.2h-1.0zM46.5,345.8h1.0v1.2h-1.0zM46.5,401.7h1.0v1.2h-1.0zM46.5,471.3h1.0v1.2h-1.0zM46.5,507.1h1.0v1.2h-1.0zM46.5,481.9h1.0v1.2h-1.0zM46.5,403.6h1.0v1.2h-1.0zM46.5,390.9h1.0v1.2h-1.0zM46.5,510.3h1.0v1.2h-1.0zM46.5,518.8h1.0v1.2h-1.0zM46.5,426.3h1.0v1.2h-1.0zM46.5,414.4h1.0v1.2h-1.0zM46.5,454.1h1.0v1.2h-1.0zM46.5,487.6h1.0v1.2h-1.0zM46.5,410.7h1.0v1.2h-1.0zM46.5,531.0h1.0v1.2h-1.0zM46.5,471.7h1.0v1.2h-1.0zM46.5,439.3h1.0v1.2h-1.0zM46.5,337.8h1.0v1.2h-1.0zM46.5,401.9h1.0v1.2h-1.0zM46.5,353.1h1.0v1.2h-1.0zM46.5,436.3h1.0v1.2h-1.0zM46.5,485.3h1.0v1.2h-1.0zM46.5,482.8h1.0v1.2h-1.0zM46.5,337.5h1.0v1.2h-1.0zM46.5,389.6h1.0v1.2h-1.0zM46.5,470.5h1.0v1.2h-1.0zM46.5,528.7h1.0v1.2h-1.0zM46.5,431.7h1.0v1.2h-1.0zM46.5,395.8h1.0v1.2h-1.0zM46.5,447.6h1.0v1.2h-1.0zM46.5,480.8h1.0v1.2h-1.0zM46.5,397.2h1.0v1.2h-1.0zM46.5,344.7h1.0v1.2h-1.0zM46.5,487.0h1.0v1.2h-1.0zM46.5,526.2h1.0v1.2h-1.0zM46.5,464.3h1.0v1.2h-1.0zM46.5,447.5h1.0v1.2h-1.0zM46.5,394.1h1.0v1.2h-1.0zM46.5,492.8h1.0v1.2h-1.0zM46.5,370.8h1.0v1.2h-1.0zM46.5,382.6h1.0v1.2h-1.0zM46.5,430.3h1.0v1.2h-1.0zM46.5,491.4h1.0v1.2h-1.0zM46.5,335.6h1.0v1.2h-1.0zM46.5,469.7h1.0v1.2h-1.0zM46.5,366.1h1.0v1.2h-1.0zM46.5,486.1h1.0v1.2h-1.0zM46.5,488.0h1.0v1.2h-1.0z" fill="#111"/>
<line x1="46.20" y1="304.00" x2="46.20" y2="544.20" stroke="#3A3A3A" stroke-width="0.8" />
<line x1="45.80" y1="544.30" x2="197.00" y2="544.30" stroke="#3A3A3A" stroke-width="0.8" />
<line x1="44.90" y1="319.35" x2="46.20" y2="319.35" stroke="#333" stroke-width="0.4" />
<text x="44.20" y="321.45" font-size="6.3" text-anchor="end" fill="#111" >10,000</text>
<line x1="44.90" y1="372.95" x2="46.20" y2="372.95" stroke="#333" stroke-width="0.4" />
<text x="44.20" y="375.05" font-size="6.3" text-anchor="end" fill="#111" >1,000</text>
<line x1="44.90" y1="426.55" x2="46.20" y2="426.55" stroke="#333" stroke-width="0.4" />
<text x="44.20" y="428.65" font-size="6.3" text-anchor="end" fill="#111" >100</text>
<line x1="44.90" y1="480.15" x2="46.20" y2="480.15" stroke="#333" stroke-width="0.4" />
<text x="44.20" y="482.25" font-size="6.3" text-anchor="end" fill="#111" >10</text>
<line x1="44.90" y1="533.75" x2="46.20" y2="533.75" stroke="#333" stroke-width="0.4" />
<text x="44.20" y="535.85" font-size="6.3" text-anchor="end" fill="#111" >1</text>
<line x1="53.00" y1="544.20" x2="53.00" y2="545.50" stroke="#333" stroke-width="0.4" />
<text x="53.00" y="552.30" font-size="6.0" text-anchor="middle" fill="#111" >1</text>
<line x1="83.30" y1="544.20" x2="83.30" y2="545.50" stroke="#333" stroke-width="0.4" />
<text x="83.30" y="552.30" font-size="6.0" text-anchor="middle" fill="#111" >10</text>
<line x1="113.60" y1="544.20" x2="113.60" y2="545.50" stroke="#333" stroke-width="0.4" />
<text x="113.60" y="552.30" font-size="6.0" text-anchor="middle" fill="#111" >100</text>
<line x1="143.90" y1="544.20" x2="143.90" y2="545.50" stroke="#333" stroke-width="0.4" />
<text x="143.90" y="552.30" font-size="6.0" text-anchor="middle" fill="#111" >1,000</text>
<line x1="174.20" y1="544.20" x2="174.20" y2="545.50" stroke="#333" stroke-width="0.4" />
<text x="174.20" y="552.30" font-size="6.0" text-anchor="middle" fill="#111" >10,000</text>
<text x="51.80" y="318.60" font-size="6.45" text-anchor="start" font-weight="bold" font-style="italic" fill="#111" >R = 0.15, P = 0.001</text>
<text x="0.00" y="0.00" font-size="7.1" text-anchor="middle" fill="#111" transform="translate(25.5,417.5) rotate(-90)">pt115_REPTIL</text>
<text x="137.60" y="561.50" font-size="7.1" text-anchor="middle" fill="#111" >pt115_pre-REPTIL</text>
<path d="M236.9,532.4h1.8v1.8h-1.8zM246.1,532.4h1.8v1.8h-1.8zM251.3,532.4h1.8v1.8h-1.8zM255.1,532.4h1.8v1.8h-1.8zM303.2,532.4h1.8v1.8h-1.8zM307.1,532.4h1.8v1.8h-1.8zM310.9,532.4h1.8v1.8h-1.8zM258.0,532.4h1.8v1.8h-1.8zM259.9,532.4h1.8v1.8h-1.8zM261.8,532.4h1.8v1.8h-1.8zM263.7,532.4h1.8v1.8h-1.8zM265.6,532.4h1.8v1.8h-1.8zM267.5,532.4h1.8v1.8h-1.8zM269.4,532.4h1.8v1.8h-1.8zM271.3,532.4h1.8v1.8h-1.8zM273.2,532.4h1.8v1.8h-1.8zM275.1,532.4h1.8v1.8h-1.8zM278.8,532.4h1.8v1.8h-1.8zM280.7,532.4h1.8v1.8h-1.8zM282.6,532.4h1.8v1.8h-1.8zM284.9,532.4h1.8v1.8h-1.8zM286.8,532.4h1.8v1.8h-1.8zM288.7,532.4h1.8v1.8h-1.8zM290.7,532.4h1.8v1.8h-1.8zM292.6,532.4h1.8v1.8h-1.8zM294.5,532.4h1.8v1.8h-1.8zM236.9,510.8h1.8v1.8h-1.8zM246.1,510.8h1.8v1.8h-1.8zM251.3,510.8h1.8v1.8h-1.8zM255.1,510.8h1.8v1.8h-1.8zM291.1,510.8h1.8v1.8h-1.8zM297.1,510.8h1.8v1.8h-1.8zM300.7,510.8h1.8v1.8h-1.8zM258.0,510.8h1.8v1.8h-1.8zM259.9,510.8h1.8v1.8h-1.8zM261.8,510.8h1.8v1.8h-1.8zM263.7,510.8h1.8v1.8h-1.8zM265.6,510.8h1.8v1.8h-1.8zM267.5,510.8h1.8v1.8h-1.8zM269.4,510.8h1.8v1.8h-1.8zM271.3,510.8h1.8v1.8h-1.8zM273.2,510.8h1.8v1.8h-1.8zM275.1,510.8h1.8v1.8h-1.8zM277.0,510.8h1.8v1.8h-1.8zM278.9,510.8h1.8v1.8h-1.8zM280.8,510.8h1.8v1.8h-1.8zM236.9,497.9h1.8v1.8h-1.8zM246.1,497.9h1.8v1.8h-1.8zM251.3,497.9h1.8v1.8h-1.8zM255.1,497.9h1.8v1.8h-1.8zM282.1,497.9h1.8v1.8h-1.8zM286.9,497.9h1.8v1.8h-1.8zM291.7,497.9h1.8v1.8h-1.8zM296.5,497.9h1.8v1.8h-1.8zM301.3,497.9h1.8v1.8h-1.8zM258.0,497.9h1.8v1.8h-1.8zM259.9,497.9h1.8v1.8h-1.8zM261.8,497.9h1.8v1.8h-1.8zM263.7,497.9h1.8v1.8h-1.8zM265.6,497.9h1.8v1.8h-1.8zM269.0,497.9h1.8v1.8h-1.8zM270.9,497.9h1.8v1.8h-1.8zM275.7,497.9h1.8v1.8h-1.8zM277.6,497.9h1.8v1.8h-1.8zM236.9,489.1h1.8v1.8h-1.8zM246.1,489.1h1.8v1.8h-1.8zM251.3,489.1h1.8v1.8h-1.8zM255.1,489.1h1.8v1.8h-1.8zM274.4,489.1h1.8v1.8h-1.8zM284.6,489.1h1.8v1.8h-1.8zM258.0,489.1h1.8v1.8h-1.8zM259.9,489.1h1.8v1.8h-1.8zM261.8,489.1h1.8v1.8h-1.8zM265.7,489.1h1.8v1.8h-1.8zM267.6,489.1h1.8v1.8h-1.8zM269.5,489.1h1.8v1.8h-1.8zM271.4,489.1h1.8v1.8h-1.8zM278.2,489.1h1.8v1.8h-1.8zM280.1,489.1h1.8v1.8h-1.8zM291.1,489.1h1.8v1.8h-1.8zM293.0,489.1h1.8v1.8h-1.8zM236.9,482.4h1.8v1.8h-1.8zM246.1,482.4h1.8v1.8h-1.8zM251.3,482.4h1.8v1.8h-1.8zM255.1,482.4h1.8v1.8h-1.8zM282.1,482.4h1.8v1.8h-1.8zM291.7,482.4h1.8v1.8h-1.8zM311.9,482.4h1.8v1.8h-1.8zM315.7,482.4h1.8v1.8h-1.8zM327.3,482.4h1.8v1.8h-1.8zM258.0,482.4h1.8v1.8h-1.8zM259.9,482.4h1.8v1.8h-1.8zM261.8,482.4h1.8v1.8h-1.8zM263.7,482.4h1.8v1.8h-1.8zM265.6,482.4h1.8v1.8h-1.8zM267.5,482.4h1.8v1.8h-1.8zM269.4,482.4h1.8v1.8h-1.8zM271.3,482.4h1.8v1.8h-1.8zM273.2,482.4h1.8v1.8h-1.8zM236.9,476.6h1.8v1.8h-1.8zM246.1,476.6h1.8v1.8h-1.8zM251.3,476.6h1.8v1.8h-1.8zM255.1,476.6h1.8v1.8h-1.8zM272.4,476.6h1.8v1.8h-1.8zM289.4,476.6h1.8v1.8h-1.8zM302.6,476.6h1.8v1.8h-1.8zM305.1,476.6h1.8v1.8h-1.8zM308.0,476.6h1.8v1.8h-1.8zM258.0,476.6h1.8v1.8h-1.8zM259.9,476.6h1.8v1.8h-1.8zM261.8,476.6h1.8v1.8h-1.8zM283.0,476.6h1.8v1.8h-1.8zM284.9,476.6h1.8v1.8h-1.8zM236.9,472.0h1.8v1.8h-1.8zM246.1,472.0h1.8v1.8h-1.8zM251.3,472.0h1.8v1.8h-1.8zM255.1,472.0h1.8v1.8h-1.8zM276.7,472.0h1.8v1.8h-1.8zM258.0,472.0h1.8v1.8h-1.8zM259.9,472.0h1.8v1.8h-1.8zM261.8,472.0h1.8v1.8h-1.8zM263.7,472.0h1.8v1.8h-1.8zM265.6,472.0h1.8v1.8h-1.8zM267.5,472.0h1.8v1.8h-1.8zM269.4,472.0h1.8v1.8h-1.8zM236.9,467.6h1.8v1.8h-1.8zM246.1,467.6h1.8v1.8h-1.8zM251.3,467.6h1.8v1.8h-1.8zM255.1,467.6h1.8v1.8h-1.8zM278.2,467.6h1.8v1.8h-1.8zM284.0,467.6h1.8v1.8h-1.8zM286.9,467.6h1.8v1.8h-1.8zM291.1,467.6h1.8v1.8h-1.8zM258.0,467.6h1.8v1.8h-1.8zM259.9,467.6h1.8v1.8h-1.8zM261.8,467.6h1.8v1.8h-1.8zM263.7,467.6h1.8v1.8h-1.8zM265.6,467.6h1.8v1.8h-1.8zM267.5,467.6h1.8v1.8h-1.8zM269.4,467.6h1.8v1.8h-1.8zM236.9,463.7h1.8v1.8h-1.8zM246.1,463.7h1.8v1.8h-1.8zM251.3,463.7h1.8v1.8h-1.8zM255.1,463.7h1.8v1.8h-1.8zM258.0,463.7h1.8v1.8h-1.8zM259.9,463.7h1.8v1.8h-1.8zM261.8,463.7h1.8v1.8h-1.8zM267.6,463.7h1.8v1.8h-1.8zM269.5,463.7h1.8v1.8h-1.8zM271.4,463.7h1.8v1.8h-1.8zM276.3,463.7h1.8v1.8h-1.8zM278.2,463.7h1.8v1.8h-1.8zM284.0,463.7h1.8v1.8h-1.8zM236.9,460.4h1.8v1.8h-1.8zM246.1,460.4h1.8v1.8h-1.8zM251.3,460.4h1.8v1.8h-1.8zM255.1,460.4h1.8v1.8h-1.8zM258.0,460.4h1.8v1.8h-1.8zM262.8,460.4h1.8v1.8h-1.8zM264.7,460.4h1.8v1.8h-1.8zM266.6,460.4h1.8v1.8h-1.8zM268.5,460.4h1.8v1.8h-1.8zM270.4,460.4h1.8v1.8h-1.8zM272.3,460.4h1.8v1.8h-1.8zM274.2,460.4h1.8v1.8h-1.8zM236.9,457.6h1.8v1.8h-1.8zM246.1,457.6h1.8v1.8h-1.8zM251.3,457.6h1.8v1.8h-1.8zM255.1,457.6h1.8v1.8h-1.8zM258.0,457.6h1.8v1.8h-1.8zM264.8,457.6h1.8v1.8h-1.8zM302.3,457.6h1.8v1.8h-1.8zM270.5,457.6h1.8v1.8h-1.8zM272.4,457.6h1.8v1.8h-1.8zM274.3,457.6h1.8v1.8h-1.8zM276.2,457.6h1.8v1.8h-1.8zM236.9,455.1h1.8v1.8h-1.8zM246.1,455.1h1.8v1.8h-1.8zM282.1,455.1h1.8v1.8h-1.8zM310.9,455.1h1.8v1.8h-1.8zM321.5,455.1h1.8v1.8h-1.8zM327.3,455.1h1.8v1.8h-1.8zM251.3,455.1h1.8v1.8h-1.8zM253.2,455.1h1.8v1.8h-1.8zM255.1,455.1h1.8v1.8h-1.8zM257.0,455.1h1.8v1.8h-1.8zM258.9,455.1h1.8v1.8h-1.8zM260.8,455.1h1.8v1.8h-1.8zM262.7,455.1h1.8v1.8h-1.8zM264.6,455.1h1.8v1.8h-1.8zM266.5,455.1h1.8v1.8h-1.8zM268.4,455.1h1.8v1.8h-1.8zM270.3,455.1h1.8v1.8h-1.8zM236.9,414.1h1.8v1.8h-1.8zM236.9,417.6h1.8v1.8h-1.8zM236.9,423.3h1.8v1.8h-1.8zM236.9,428.1h1.8v1.8h-1.8zM236.9,429.7h1.8v1.8h-1.8zM236.9,431.4h1.8v1.8h-1.8zM236.9,433.0h1.8v1.8h-1.8zM236.9,434.7h1.8v1.8h-1.8zM236.9,436.3h1.8v1.8h-1.8zM236.9,438.7h1.8v1.8h-1.8zM236.9,440.3h1.8v1.8h-1.8zM236.9,442.0h1.8v1.8h-1.8zM236.9,443.6h1.8v1.8h-1.8zM236.9,445.3h1.8v1.8h-1.8zM236.9,446.9h1.8v1.8h-1.8zM236.9,448.6h1.8v1.8h-1.8zM236.9,450.2h1.8v1.8h-1.8zM236.9,451.9h1.8v1.8h-1.8zM236.9,453.5h1.8v1.8h-1.8zM246.1,403.1h1.8v1.8h-1.8zM246.1,422.4h1.8v1.8h-1.8zM246.1,407.9h1.8v1.8h-1.8zM246.1,409.5h1.8v1.8h-1.8zM246.1,411.2h1.8v1.8h-1.8zM246.1,412.8h1.8v1.8h-1.8zM246.1,425.3h1.8v1.8h-1.8zM246.1,426.9h1.8v1.8h-1.8zM246.1,428.6h1.8v1.8h-1.8zM246.1,430.2h1.8v1.8h-1.8zM246.1,435.8h1.8v1.8h-1.8zM246.1,437.4h1.8v1.8h-1.8zM246.1,439.1h1.8v1.8h-1.8zM246.1,440.7h1.8v1.8h-1.8zM246.1,442.4h1.8v1.8h-1.8zM246.1,444.0h1.8v1.8h-1.8zM246.1,445.7h1.8v1.8h-1.8zM246.1,447.3h1.8v1.8h-1.8zM246.1,449.0h1.8v1.8h-1.8zM246.1,450.6h1.8v1.8h-1.8zM246.1,452.3h1.8v1.8h-1.8zM251.3,402.6h1.8v1.8h-1.8zM251.3,407.9h1.8v1.8h-1.8zM251.3,410.8h1.8v1.8h-1.8zM251.3,418.5h1.8v1.8h-1.8zM251.3,422.4h1.8v1.8h-1.8zM251.3,432.0h1.8v1.8h-1.8zM251.3,425.3h1.8v1.8h-1.8zM251.3,426.9h1.8v1.8h-1.8zM251.3,428.6h1.8v1.8h-1.8zM251.3,436.8h1.8v1.8h-1.8zM251.3,438.4h1.8v1.8h-1.8zM251.3,440.1h1.8v1.8h-1.8zM251.3,441.7h1.8v1.8h-1.8zM251.3,443.4h1.8v1.8h-1.8zM251.3,445.0h1.8v1.8h-1.8zM251.3,446.7h1.8v1.8h-1.8zM251.3,448.3h1.8v1.8h-1.8zM251.3,450.0h1.8v1.8h-1.8zM251.3,451.6h1.8v1.8h-1.8zM251.3,453.3h1.8v1.8h-1.8zM255.1,391.0h1.8v1.8h-1.8zM255.1,420.4h1.8v1.8h-1.8zM255.1,423.3h1.8v1.8h-1.8zM255.1,426.2h1.8v1.8h-1.8zM255.1,429.1h1.8v1.8h-1.8zM255.1,432.0h1.8v1.8h-1.8zM255.1,434.9h1.8v1.8h-1.8zM255.1,440.6h1.8v1.8h-1.8zM255.1,442.2h1.8v1.8h-1.8zM255.1,443.9h1.8v1.8h-1.8zM255.1,445.5h1.8v1.8h-1.8zM255.1,447.2h1.8v1.8h-1.8zM255.1,448.8h1.8v1.8h-1.8zM255.1,450.5h1.8v1.8h-1.8zM255.1,452.1h1.8v1.8h-1.8zM258.4,419.5h1.8v1.8h-1.8zM258.4,423.3h1.8v1.8h-1.8zM258.4,434.9h1.8v1.8h-1.8zM258.4,437.8h1.8v1.8h-1.8zM258.4,408.9h1.8v1.8h-1.8zM258.4,410.5h1.8v1.8h-1.8zM258.4,412.2h1.8v1.8h-1.8zM258.4,426.2h1.8v1.8h-1.8zM258.4,427.9h1.8v1.8h-1.8zM258.4,429.5h1.8v1.8h-1.8zM258.4,442.6h1.8v1.8h-1.8zM258.4,444.2h1.8v1.8h-1.8zM258.4,445.9h1.8v1.8h-1.8zM258.4,447.5h1.8v1.8h-1.8zM258.4,449.2h1.8v1.8h-1.8zM258.4,451.2h1.8v1.8h-1.8zM258.4,452.9h1.8v1.8h-1.8zM260.9,391.0h1.8v1.8h-1.8zM260.9,394.5h1.8v1.8h-1.8zM260.9,408.9h1.8v1.8h-1.8zM260.9,419.5h1.8v1.8h-1.8zM260.9,422.4h1.8v1.8h-1.8zM260.9,425.3h1.8v1.8h-1.8zM260.9,428.1h1.8v1.8h-1.8zM260.9,431.0h1.8v1.8h-1.8zM260.9,434.9h1.8v1.8h-1.8zM260.9,439.7h1.8v1.8h-1.8zM260.9,445.4h1.8v1.8h-1.8zM260.9,452.1h1.8v1.8h-1.8zM262.8,382.9h1.8v1.8h-1.8zM282.1,381.0h1.8v1.8h-1.8zM282.1,385.8h1.8v1.8h-1.8zM267.6,387.2h1.8v1.8h-1.8zM280.1,389.7h1.8v1.8h-1.8zM292.6,388.7h1.8v1.8h-1.8zM269.6,390.3h1.8v1.8h-1.8zM265.7,392.9h1.8v1.8h-1.8zM288.8,392.6h1.8v1.8h-1.8zM290.7,393.5h1.8v1.8h-1.8zM269.2,395.4h1.8v1.8h-1.8zM318.6,394.9h1.8v1.8h-1.8zM285.9,397.9h1.8v1.8h-1.8zM288.8,397.9h1.8v1.8h-1.8zM273.8,398.3h1.8v1.8h-1.8zM277.3,399.3h1.8v1.8h-1.8zM271.5,400.3h1.8v1.8h-1.8zM330.1,398.9h1.8v1.8h-1.8zM267.6,402.6h1.8v1.8h-1.8zM277.3,402.2h1.8v1.8h-1.8zM299.4,404.5h1.8v1.8h-1.8zM323.0,404.5h1.8v1.8h-1.8zM275.3,407.0h1.8v1.8h-1.8zM287.8,407.0h1.8v1.8h-1.8zM266.1,408.3h1.8v1.8h-1.8zM263.8,409.9h1.8v1.8h-1.8zM270.5,410.8h1.8v1.8h-1.8zM275.3,409.9h1.8v1.8h-1.8zM325.3,410.4h1.8v1.8h-1.8zM297.1,413.3h1.8v1.8h-1.8zM265.7,414.7h1.8v1.8h-1.8zM270.5,415.6h1.8v1.8h-1.8zM274.4,413.7h1.8v1.8h-1.8zM274.9,415.6h1.8v1.8h-1.8zM292.3,416.6h1.8v1.8h-1.8zM296.9,416.6h1.8v1.8h-1.8zM283.0,418.5h1.8v1.8h-1.8zM284.9,419.5h1.8v1.8h-1.8zM281.1,419.9h1.8v1.8h-1.8zM309.6,419.1h1.8v1.8h-1.8zM262.8,419.1h1.8v1.8h-1.8zM264.8,420.4h1.8v1.8h-1.8zM267.6,422.4h1.8v1.8h-1.8zM272.1,420.4h1.8v1.8h-1.8zM274.4,419.1h1.8v1.8h-1.8zM270.9,423.7h1.8v1.8h-1.8zM266.1,424.3h1.8v1.8h-1.8zM315.1,424.7h1.8v1.8h-1.8zM300.3,425.3h1.8v1.8h-1.8zM280.1,425.3h1.8v1.8h-1.8zM262.8,426.2h1.8v1.8h-1.8zM264.8,428.1h1.8v1.8h-1.8zM276.3,428.1h1.8v1.8h-1.8zM274.9,430.1h1.8v1.8h-1.8zM272.4,429.5h1.8v1.8h-1.8zM303.2,429.5h1.8v1.8h-1.8zM317.6,429.5h1.8v1.8h-1.8zM330.7,430.6h1.8v1.8h-1.8zM287.8,430.6h1.8v1.8h-1.8zM291.1,431.0h1.8v1.8h-1.8zM268.6,431.0h1.8v1.8h-1.8zM265.7,432.0h1.8v1.8h-1.8zM292.3,433.5h1.8v1.8h-1.8zM270.5,433.9h1.8v1.8h-1.8zM267.6,434.9h1.8v1.8h-1.8zM272.4,434.9h1.8v1.8h-1.8zM280.1,434.9h1.8v1.8h-1.8zM300.7,433.5h1.8v1.8h-1.8zM301.3,436.4h1.8v1.8h-1.8zM269.6,436.4h1.8v1.8h-1.8zM309.4,437.4h1.8v1.8h-1.8zM263.8,437.8h1.8v1.8h-1.8zM281.1,437.8h1.8v1.8h-1.8zM274.4,438.7h1.8v1.8h-1.8zM283.0,439.7h1.8v1.8h-1.8zM265.7,440.3h1.8v1.8h-1.8zM300.3,440.6h1.8v1.8h-1.8zM272.4,441.6h1.8v1.8h-1.8zM268.6,442.6h1.8v1.8h-1.8zM277.3,443.5h1.8v1.8h-1.8zM284.9,443.5h1.8v1.8h-1.8zM270.5,444.5h1.8v1.8h-1.8zM299.4,444.5h1.8v1.8h-1.8zM298.4,446.4h1.8v1.8h-1.8zM290.7,446.0h1.8v1.8h-1.8zM309.9,446.0h1.8v1.8h-1.8zM264.8,446.4h1.8v1.8h-1.8zM267.6,446.8h1.8v1.8h-1.8zM272.4,446.4h1.8v1.8h-1.8zM277.3,447.4h1.8v1.8h-1.8zM283.0,446.4h1.8v1.8h-1.8zM287.8,447.4h1.8v1.8h-1.8zM284.9,449.3h1.8v1.8h-1.8zM277.3,449.3h1.8v1.8h-1.8zM278.2,451.2h1.8v1.8h-1.8zM267.6,451.8h1.8v1.8h-1.8zM272.4,452.2h1.8v1.8h-1.8zM262.8,449.3h1.8v1.8h-1.8zM264.8,452.2h1.8v1.8h-1.8zM283.0,454.5h1.8v1.8h-1.8zM302.3,457.9h1.8v1.8h-1.8zM322.4,319.1h1.8v1.8h-1.8zM308.6,329.6h1.8v1.8h-1.8zM289.9,337.9h1.8v1.8h-1.8zM287.1,345.4h1.8v1.8h-1.8zM306.6,344.9h1.8v1.8h-1.8zM337.4,344.1h1.8v1.8h-1.8zM258.6,351.6h1.8v1.8h-1.8zM294.9,352.1h1.8v1.8h-1.8zM302.9,354.6h1.8v1.8h-1.8zM272.4,355.4h1.8v1.8h-1.8zM274.1,355.9h1.8v1.8h-1.8zM287.4,358.4h1.8v1.8h-1.8zM289.9,358.4h1.8v1.8h-1.8zM292.4,358.4h1.8v1.8h-1.8zM297.4,363.4h1.8v1.8h-1.8zM287.4,365.4h1.8v1.8h-1.8zM277.1,369.1h1.8v1.8h-1.8zM279.9,370.4h1.8v1.8h-1.8zM258.6,371.1h1.8v1.8h-1.8zM262.9,372.4h1.8v1.8h-1.8zM292.4,372.4h1.8v1.8h-1.8zM327.9,370.9h1.8v1.8h-1.8zM289.1,376.1h1.8v1.8h-1.8zM297.4,376.1h1.8v1.8h-1.8zM262.9,375.4h1.8v1.8h-1.8zM286.6,378.1h1.8v1.8h-1.8zM292.9,377.9h1.8v1.8h-1.8zM262.9,379.1h1.8v1.8h-1.8zM378.1,368.1h1.8v1.8h-1.8zM337.9,426.6h1.8v1.8h-1.8zM338.4,452.1h1.8v1.8h-1.8zM329.1,457.9h1.8v1.8h-1.8zM341.6,489.1h1.8v1.8h-1.8zM311.6,482.1h1.8v1.8h-1.8zM317.5,542.7h1.2v1.0h-1.2zM276.4,542.7h1.2v1.0h-1.2zM272.4,542.7h1.2v1.0h-1.2zM294.9,542.7h1.2v1.0h-1.2zM241.9,542.7h1.2v1.0h-1.2zM240.5,542.7h1.2v1.0h-1.2zM325.7,542.7h1.2v1.0h-1.2zM267.6,542.7h1.2v1.0h-1.2zM286.4,542.7h1.2v1.0h-1.2zM329.1,542.7h1.2v1.0h-1.2zM333.4,542.7h1.2v1.0h-1.2zM283.8,542.7h1.2v1.0h-1.2zM257.7,542.7h1.2v1.0h-1.2zM266.4,542.7h1.2v1.0h-1.2zM328.0,542.7h1.2v1.0h-1.2zM325.5,542.7h1.2v1.0h-1.2zM256.6,542.7h1.2v1.0h-1.2zM319.7,542.7h1.2v1.0h-1.2zM272.2,542.7h1.2v1.0h-1.2zM283.8,542.7h1.2v1.0h-1.2zM254.3,542.7h1.2v1.0h-1.2zM323.8,542.7h1.2v1.0h-1.2zM335.2,542.7h1.2v1.0h-1.2zM257.2,542.7h1.2v1.0h-1.2zM299.5,542.7h1.2v1.0h-1.2zM256.2,542.7h1.2v1.0h-1.2zM323.9,542.7h1.2v1.0h-1.2zM242.3,542.7h1.2v1.0h-1.2zM247.8,542.7h1.2v1.0h-1.2zM308.7,542.7h1.2v1.0h-1.2zM268.1,542.7h1.2v1.0h-1.2zM325.8,542.7h1.2v1.0h-1.2zM322.8,542.7h1.2v1.0h-1.2zM307.5,542.7h1.2v1.0h-1.2zM250.7,542.7h1.2v1.0h-1.2zM305.8,542.7h1.2v1.0h-1.2zM329.5,542.7h1.2v1.0h-1.2zM281.1,542.7h1.2v1.0h-1.2zM245.2,542.7h1.2v1.0h-1.2zM259.3,542.7h1.2v1.0h-1.2zM267.6,542.7h1.2v1.0h-1.2zM307.2,542.7h1.2v1.0h-1.2zM256.7,542.7h1.2v1.0h-1.2zM255.2,542.7h1.2v1.0h-1.2zM260.5,542.7h1.2v1.0h-1.2zM302.7,542.7h1.2v1.0h-1.2zM315.1,542.7h1.2v1.0h-1.2zM274.0,542.7h1.2v1.0h-1.2zM302.4,542.7h1.2v1.0h-1.2zM324.3,542.7h1.2v1.0h-1.2zM295.4,542.7h1.2v1.0h-1.2zM259.9,542.7h1.2v1.0h-1.2zM267.0,542.7h1.2v1.0h-1.2zM328.4,542.7h1.2v1.0h-1.2zM302.9,542.7h1.2v1.0h-1.2zM264.6,542.7h1.2v1.0h-1.2zM300.3,542.7h1.2v1.0h-1.2zM246.2,542.7h1.2v1.0h-1.2zM334.0,542.7h1.2v1.0h-1.2zM280.7,542.7h1.2v1.0h-1.2zM231.5,424.7h1.0v1.2h-1.0zM231.5,424.2h1.0v1.2h-1.0zM231.5,523.4h1.0v1.2h-1.0zM231.5,410.1h1.0v1.2h-1.0zM231.5,474.5h1.0v1.2h-1.0zM231.5,481.4h1.0v1.2h-1.0zM231.5,368.5h1.0v1.2h-1.0zM231.5,514.8h1.0v1.2h-1.0zM231.5,474.4h1.0v1.2h-1.0zM231.5,378.2h1.0v1.2h-1.0zM231.5,482.4h1.0v1.2h-1.0zM231.5,475.6h1.0v1.2h-1.0zM231.5,420.6h1.0v1.2h-1.0zM231.5,494.6h1.0v1.2h-1.0zM231.5,349.3h1.0v1.2h-1.0zM231.5,330.8h1.0v1.2h-1.0zM231.5,525.8h1.0v1.2h-1.0zM231.5,438.3h1.0v1.2h-1.0zM231.5,379.3h1.0v1.2h-1.0zM231.5,454.0h1.0v1.2h-1.0zM231.5,342.8h1.0v1.2h-1.0zM231.5,430.5h1.0v1.2h-1.0zM231.5,495.9h1.0v1.2h-1.0zM231.5,419.0h1.0v1.2h-1.0zM231.5,400.9h1.0v1.2h-1.0zM231.5,459.2h1.0v1.2h-1.0zM231.5,398.1h1.0v1.2h-1.0zM231.5,372.6h1.0v1.2h-1.0zM231.5,427.1h1.0v1.2h-1.0zM231.5,429.3h1.0v1.2h-1.0zM231.5,359.9h1.0v1.2h-1.0zM231.5,392.8h1.0v1.2h-1.0zM231.5,426.3h1.0v1.2h-1.0zM231.5,338.2h1.0v1.2h-1.0zM231.5,497.1h1.0v1.2h-1.0zM231.5,373.3h1.0v1.2h-1.0zM231.5,498.9h1.0v1.2h-1.0zM231.5,408.4h1.0v1.2h-1.0zM231.5,484.6h1.0v1.2h-1.0zM231.5,442.6h1.0v1.2h-1.0zM231.5,374.7h1.0v1.2h-1.0zM231.5,371.9h1.0v1.2h-1.0zM231.5,371.0h1.0v1.2h-1.0zM231.5,484.4h1.0v1.2h-1.0zM231.5,432.7h1.0v1.2h-1.0zM231.5,487.4h1.0v1.2h-1.0zM231.5,414.1h1.0v1.2h-1.0zM231.5,430.7h1.0v1.2h-1.0zM231.5,525.4h1.0v1.2h-1.0zM231.5,410.7h1.0v1.2h-1.0zM231.5,386.6h1.0v1.2h-1.0zM231.5,415.6h1.0v1.2h-1.0zM231.5,354.3h1.0v1.2h-1.0zM231.5,495.9h1.0v1.2h-1.0zM231.5,501.6h1.0v1.2h-1.0zM231.5,529.0h1.0v1.2h-1.0zM231.5,431.3h1.0v1.2h-1.0zM231.5,443.8h1.0v1.2h-1.0zM231.5,442.4h1.0v1.2h-1.0zM231.5,478.9h1.0v1.2h-1.0zM231.5,369.5h1.0v1.2h-1.0zM231.5,517.8h1.0v1.2h-1.0zM231.5,347.2h1.0v1.2h-1.0zM231.5,416.4h1.0v1.2h-1.0zM231.5,421.6h1.0v1.2h-1.0zM231.5,370.9h1.0v1.2h-1.0zM231.5,484.0h1.0v1.2h-1.0zM231.5,502.8h1.0v1.2h-1.0zM231.5,469.1h1.0v1.2h-1.0zM231.5,524.0h1.0v1.2h-1.0zM231.5,468.4h1.0v1.2h-1.0zM231.5,405.7h1.0v1.2h-1.0zM231.5,425.3h1.0v1.2h-1.0zM231.5,478.6h1.0v1.2h-1.0zM231.5,412.4h1.0v1.2h-1.0zM231.5,514.6h1.0v1.2h-1.0zM231.5,365.0h1.0v1.2h-1.0zM231.5,497.6h1.0v1.2h-1.0zM231.5,480.6h1.0v1.2h-1.0zM231.5,500.0h1.0v1.2h-1.0zM231.5,391.5h1.0v1.2h-1.0zM231.5,362.9h1.0v1.2h-1.0zM231.5,371.9h1.0v1.2h-1.0zM231.5,520.2h1.0v1.2h-1.0zM231.5,448.7h1.0v1.2h-1.0zM231.5,458.2h1.0v1.2h-1.0zM231.5,488.4h1.0v1.2h-1.0zM231.5,334.3h1.0v1.2h-1.0zM231.5,524.0h1.0v1.2h-1.0zM231.5,432.6h1.0v1.2h-1.0z" fill="#111"/>
<line x1="231.20" y1="304.00" x2="231.20" y2="544.20" stroke="#3A3A3A" stroke-width="0.8" />
<line x1="230.80" y1="544.30" x2="386.00" y2="544.30" stroke="#3A3A3A" stroke-width="0.8" />
<line x1="229.90" y1="318.15" x2="231.20" y2="318.15" stroke="#333" stroke-width="0.4" />
<text x="229.20" y="320.25" font-size="6.3" text-anchor="end" fill="#111" >1,000</text>
<line x1="229.90" y1="389.85" x2="231.20" y2="389.85" stroke="#333" stroke-width="0.4" />
<text x="229.20" y="391.95" font-size="6.3" text-anchor="end" fill="#111" >100</text>
<line x1="229.90" y1="461.55" x2="231.20" y2="461.55" stroke="#333" stroke-width="0.4" />
<text x="229.20" y="463.65" font-size="6.3" text-anchor="end" fill="#111" >10</text>
<line x1="229.90" y1="533.25" x2="231.20" y2="533.25" stroke="#333" stroke-width="0.4" />
<text x="229.20" y="535.35" font-size="6.3" text-anchor="end" fill="#111" >1</text>
<line x1="238.00" y1="544.20" x2="238.00" y2="545.50" stroke="#333" stroke-width="0.4" />
<text x="238.00" y="552.30" font-size="6.0" text-anchor="middle" fill="#111" >1</text>
<line x1="268.70" y1="544.20" x2="268.70" y2="545.50" stroke="#333" stroke-width="0.4" />
<text x="268.70" y="552.30" font-size="6.0" text-anchor="middle" fill="#111" >10</text>
<line x1="299.40" y1="544.20" x2="299.40" y2="545.50" stroke="#333" stroke-width="0.4" />
<text x="299.40" y="552.30" font-size="6.0" text-anchor="middle" fill="#111" >100</text>
<line x1="330.10" y1="544.20" x2="330.10" y2="545.50" stroke="#333" stroke-width="0.4" />
<text x="330.10" y="552.30" font-size="6.0" text-anchor="middle" fill="#111" >1,000</text>
<line x1="360.80" y1="544.20" x2="360.80" y2="545.50" stroke="#333" stroke-width="0.4" />
<text x="360.80" y="552.30" font-size="6.0" text-anchor="middle" fill="#111" >10,000</text>
<text x="236.80" y="318.60" font-size="6.45" text-anchor="start" font-weight="bold" font-style="italic" fill="#111" >R = 0.45, P &lt; 0.001</text>
<text x="0.00" y="0.00" font-size="7.1" text-anchor="middle" fill="#111" transform="translate(214.4,425) rotate(-90)">pt115_T</text>
<text x="323.70" y="561.50" font-size="7.1" text-anchor="middle" fill="#111" >pt115_pre-REPTIL</text>
</g>
<g id="panelE">
<text transform="translate(0.4,581.3) scale(0.9,1)" font-size="15.6">E</text>
<defs>
<pattern id="dense1" width="2" height="2" patternUnits="userSpaceOnUse"><rect width="2" height="2" fill="#B9B9B9"/><path d="M0.5,0V2M0,0.5H2" stroke="#AEAEAE" stroke-width="1"/></pattern>
<pattern id="dense2" width="2" height="2" patternUnits="userSpaceOnUse"><rect width="2" height="2" fill="#B9B9B9"/><path d="M0.5,0V2M0,0.5H2" stroke="#AEAEAE" stroke-width="1"/></pattern>
<pattern id="dense3" width="2" height="2" patternUnits="userSpaceOnUse"><rect width="2" height="2" fill="#B9B9B9"/><path d="M0.5,0V2M0,0.5H2" stroke="#AEAEAE" stroke-width="1"/></pattern>
<linearGradient id="dk" x1="0" y1="0" x2="0" y2="1"><stop offset="0" stop-color="#4A4A4A"/><stop offset="1" stop-color="#7A7A7A"/></linearGradient>
</defs>
<rect x="4.30" y="619.40" width="168.00" height="96.00" fill="#DCDCDC" />
<rect x="89.07" y="619.40" width="83.23" height="48.81" fill="url(#dense1)"/>
<path d="M36.1,619.4v96M4.3,680.6h31.8M4.3,660.6h31.8M4.3,649.3h31.8M4.3,637.5h31.8M4.3,628.4h31.8M36.1,706h136.2M64.2,706v9.4M84.2,706v9.4M103.2,706v9.4M121.2,706v9.4M138.3,706v9.4M155.3,706v9.4M36.1,700h136.2M52.2,700v6M67.2,700v6M82.2,700v6M97.2,700v6M112.2,700v6M127.2,700v6M142.3,700v6M157.3,700v6M36.1,694.8h136.2M48.5,694.8v5.2M60.9,694.8v5.2M73.3,694.8v5.2M85.6,694.8v5.2M98,694.8v5.2M110.4,694.8v5.2M122.8,694.8v5.2M135.2,694.8v5.2M147.5,694.8v5.2M159.9,694.8v5.2" fill="none" stroke="#808080" stroke-width="0.5"/>
<path d="M41.8,619.4v75.4M36.1,691.5h5.7M36.1,688.2h5.7M36.1,684.9h5.7M36.1,681.6h5.7M36.1,678.3h5.7M36.1,675.1h5.7M36.1,671.8h5.7M36.1,668.6h5.7M36.1,665.4h5.7M36.1,662.2h5.7M36.1,659.1h5.7M36.1,655.9h5.7M36.1,652.8h5.7M36.1,649.7h5.7M36.1,646.6h5.7M36.1,643.5h5.7M36.1,640.4h5.7M36.1,637.4h5.7M36.1,634.3h5.7M36.1,631.3h5.7M36.1,628.3h5.7M36.1,625.3h5.7M36.1,622.4h5.7M41.8,691.8h130.5M47.4,691.8v3M52.9,691.8v3M58.4,691.8v3M63.9,691.8v3M69.3,691.8v3M74.7,691.8v3M80.1,691.8v3M85.5,691.8v3M90.8,691.8v3M96.1,691.8v3M101.4,691.8v3M106.6,691.8v3M111.8,691.8v3M117,691.8v3M122.2,691.8v3M127.3,691.8v3M132.4,691.8v3M137.5,691.8v3M142.5,691.8v3M147.6,691.8v3M152.6,691.8v3M157.5,691.8v3M162.5,691.8v3M167.4,691.8v3M46.8,619.4v72.4M41.8,688.8h4.9M41.8,685.9h4.9M41.8,682.9h4.9M41.8,680h4.9M41.8,677.1h4.9M41.8,674.2h4.9M41.8,671.3h4.9M41.8,668.5h4.9M41.8,665.6h4.9M41.8,662.8h4.9M41.8,660h4.9M41.8,657.1h4.9M41.8,654.4h4.9M41.8,651.6h4.9M41.8,648.8h4.9M41.8,646.1h4.9M41.8,643.3h4.9M41.8,640.6h4.9M41.8,637.9h4.9M41.8,635.2h4.9M41.8,632.6h4.9M41.8,629.9h4.9M41.8,627.3h4.9M41.8,624.6h4.9M41.8,622h4.9M46.8,689.2h125.5M51.7,689.2v2.6M56.7,689.2v2.6M61.6,689.2v2.6M66.5,689.2v2.6M71.4,689.2v2.6M76.2,689.2v2.6M81,689.2v2.6M85.8,689.2v2.6M90.6,689.2v2.6M95.4,689.2v2.6M100.1,689.2v2.6M104.8,689.2v2.6M109.4,689.2v2.6M114.1,689.2v2.6M118.7,689.2v2.6M123.3,689.2v2.6M127.9,689.2v2.6M132.4,689.2v2.6M136.9,689.2v2.6M141.4,689.2v2.6M145.9,689.2v2.6M150.4,689.2v2.6M154.8,689.2v2.6M159.2,689.2v2.6M163.6,689.2v2.6M168,689.2v2.6M51.1,619.4v69.8M46.8,686.6h4.3M46.8,684.1h4.3M46.8,681.5h4.3M46.8,678.9h4.3M46.8,676.4h4.3M46.8,673.9h4.3M46.8,671.4h4.3M46.8,668.9h4.3M46.8,666.4h4.3M46.8,663.9h4.3M46.8,661.5h4.3M46.8,659h4.3M46.8,656.6h4.3M46.8,654.2h4.3M46.8,651.8h4.3M46.8,649.4h4.3M46.8,647h4.3M46.8,644.6h4.3M46.8,642.3h4.3M46.8,639.9h4.3M46.8,637.6h4.3M46.8,635.3h4.3M46.8,633h4.3M46.8,630.7h4.3M46.8,628.4h4.3M46.8,626.1h4.3M46.8,623.9h4.3M46.8,621.6h4.3M51.1,687h121.2M55.3,687v2.3M59.5,687v2.3M63.7,687v2.3M67.8,687v2.3M72,687v2.3M76.1,687v2.3M80.2,687v2.3M84.3,687v2.3M88.3,687v2.3M92.4,687v2.3M96.4,687v2.3M100.4,687v2.3M104.3,687v2.3M108.3,687v2.3M112.2,687v2.3M116.1,687v2.3M120,687v2.3M123.9,687v2.3M127.7,687v2.3M131.5,687v2.3M135.3,687v2.3M139.1,687v2.3M142.9,687v2.3M146.6,687v2.3M150.4,687v2.3M154.1,687v2.3M157.7,687v2.3M161.4,687v2.3M165.1,687v2.3M168.7,687v2.3M54.7,619.4v67.6M51.1,684.7h3.6M51.1,682.5h3.6M51.1,680.3h3.6M51.1,678.1h3.6M51.1,676h3.6M51.1,673.8h3.6M51.1,671.6h3.6M51.1,669.5h3.6M51.1,667.4h3.6M51.1,665.2h3.6M51.1,663.1h3.6M51.1,661h3.6M51.1,658.9h3.6M51.1,656.9h3.6M51.1,654.8h3.6M51.1,652.7h3.6M51.1,650.7h3.6M51.1,648.7h3.6M51.1,646.6h3.6M51.1,644.6h3.6M51.1,642.6h3.6M51.1,640.6h3.6M51.1,638.7h3.6M51.1,636.7h3.6M51.1,634.7h3.6M51.1,632.8h3.6M51.1,630.8h3.6M51.1,628.9h3.6M51.1,627h3.6M51.1,625.1h3.6M51.1,623.2h3.6M51.1,621.3h3.6M54.7,685.1h117.6M58.3,685.1v1.9M61.8,685.1v1.9M65.4,685.1v1.9M68.9,685.1v1.9M72.4,685.1v1.9M75.9,685.1v1.9M79.3,685.1v1.9M82.8,685.1v1.9M86.2,685.1v1.9M89.6,685.1v1.9M93,685.1v1.9M96.4,685.1v1.9M99.8,685.1v1.9M103.1,685.1v1.9M106.4,685.1v1.9M109.7,685.1v1.9M113,685.1v1.9M116.3,685.1v1.9M119.5,685.1v1.9M122.8,685.1v1.9M126,685.1v1.9M129.2,685.1v1.9M132.4,685.1v1.9M135.5,685.1v1.9M138.7,685.1v1.9M141.8,685.1v1.9M145,685.1v1.9M148.1,685.1v1.9M151.1,685.1v1.9M154.2,685.1v1.9M157.3,685.1v1.9M160.3,685.1v1.9M163.3,685.1v1.9M166.3,685.1v1.9M169.3,685.1v1.9M57.7,619.4v65.7M54.7,683.2h3M54.7,681.3h3M54.7,679.4h3M54.7,677.5h3M54.7,675.7h3M54.7,673.8h3M54.7,672h3M54.7,670.1h3M54.7,668.3h3M54.7,666.5h3M54.7,664.7h3M54.7,662.9h3M54.7,661.1h3M54.7,659.3h3M54.7,657.6h3M54.7,655.8h3M54.7,654.1h3M54.7,652.3h3M54.7,650.6h3M54.7,648.9h3M54.7,647.2h3M54.7,645.5h3M54.7,643.8h3M54.7,642.1h3M54.7,640.4h3M54.7,638.7h3M54.7,637.1h3M54.7,635.4h3M54.7,633.8h3M54.7,632.2h3M54.7,630.5h3M54.7,628.9h3M54.7,627.3h3M54.7,625.7h3M54.7,624.1h3M54.7,622.5h3M54.7,621h3M57.7,683.5h114.6M60.6,683.5v1.6M63.6,683.5v1.6M66.5,683.5v1.6M69.5,683.5v1.6M72.4,683.5v1.6M75.3,683.5v1.6M78.1,683.5v1.6M81,683.5v1.6M83.8,683.5v1.6M86.7,683.5v1.6M89.5,683.5v1.6M92.3,683.5v1.6M95.1,683.5v1.6M97.9,683.5v1.6M100.6,683.5v1.6M103.4,683.5v1.6M106.1,683.5v1.6M108.8,683.5v1.6M111.5,683.5v1.6M114.2,683.5v1.6M116.9,683.5v1.6M119.5,683.5v1.6M122.2,683.5v1.6M124.8,683.5v1.6M127.4,683.5v1.6M130.1,683.5v1.6M132.6,683.5v1.6M135.2,683.5v1.6M137.8,683.5v1.6M140.3,683.5v1.6M142.9,683.5v1.6M145.4,683.5v1.6M147.9,683.5v1.6M150.4,683.5v1.6M152.9,683.5v1.6M155.4,683.5v1.6M157.8,683.5v1.6M160.3,683.5v1.6M162.7,683.5v1.6M165.1,683.5v1.6M167.5,683.5v1.6M169.9,683.5v1.6M60.1,619.4v64.1M57.7,682h2.4M57.7,680.4h2.4M57.7,678.9h2.4M57.7,677.4h2.4M57.7,675.9h2.4M57.7,674.4h2.4M57.7,672.9h2.4M57.7,671.4h2.4M57.7,670h2.4M57.7,668.5h2.4M57.7,667.1h2.4M57.7,665.6h2.4M57.7,664.2h2.4M57.7,662.7h2.4M57.7,661.3h2.4M57.7,659.9h2.4M57.7,658.5h2.4M57.7,657.1h2.4M57.7,655.7h2.4M57.7,654.3h2.4M57.7,652.9h2.4M57.7,651.5h2.4M57.7,650.2h2.4M57.7,648.8h2.4M57.7,647.4h2.4M57.7,646.1h2.4M57.7,644.8h2.4M57.7,643.4h2.4M57.7,642.1h2.4M57.7,640.8h2.4M57.7,639.5h2.4M57.7,638.2h2.4M57.7,636.9h2.4M57.7,635.6h2.4M57.7,634.3h2.4M57.7,633h2.4M57.7,631.7h2.4M57.7,630.5h2.4M57.7,629.2h2.4M57.7,628h2.4M57.7,626.7h2.4M57.7,625.5h2.4M57.7,624.3h2.4M57.7,623h2.4M57.7,621.8h2.4M57.7,620.6h2.4M62.3,619.4v64.1M60.1,682.2h2.2M60.1,680.9h2.2M60.1,679.7h2.2M60.1,678.4h2.2M60.1,677.1h2.2M60.1,675.9h2.2M60.1,674.6h2.2M60.1,673.4h2.2M60.1,672.1h2.2M60.1,670.9h2.2M60.1,669.6h2.2M60.1,668.4h2.2M60.1,667.1h2.2M60.1,665.8h2.2M60.1,664.6h2.2M60.1,663.3h2.2M60.1,662.1h2.2M60.1,660.8h2.2M60.1,659.6h2.2M60.1,658.3h2.2M60.1,657.1h2.2M60.1,655.8h2.2M60.1,654.5h2.2M60.1,653.3h2.2M60.1,652h2.2M60.1,650.8h2.2M60.1,649.5h2.2M60.1,648.3h2.2M60.1,647h2.2M60.1,645.8h2.2M60.1,644.5h2.2M60.1,643.2h2.2M60.1,642h2.2M60.1,640.7h2.2M60.1,639.5h2.2M60.1,638.2h2.2M60.1,637h2.2M60.1,635.7h2.2M60.1,634.5h2.2M60.1,633.2h2.2M60.1,632h2.2M60.1,630.7h2.2M60.1,629.4h2.2M60.1,628.2h2.2M60.1,626.9h2.2M60.1,625.7h2.2M60.1,624.4h2.2M60.1,623.2h2.2M60.1,621.9h2.2M60.1,620.7h2.2M62.3,682.2h110M64.5,682.2v1.3M66.7,682.2v1.3M68.9,682.2v1.3M71.1,682.2v1.3M73.3,682.2v1.3M75.5,682.2v1.3M77.7,682.2v1.3M79.9,682.2v1.3M82.1,682.2v1.3M84.3,682.2v1.3M86.5,682.2v1.3M88.7,682.2v1.3M90.9,682.2v1.3M93.1,682.2v1.3M95.3,682.2v1.3M97.5,682.2v1.3M99.7,682.2v1.3M101.9,682.2v1.3M104.1,682.2v1.3M106.3,682.2v1.3M108.5,682.2v1.3M110.7,682.2v1.3M112.9,682.2v1.3M115.1,682.2v1.3M117.3,682.2v1.3M119.5,682.2v1.3M121.7,682.2v1.3M123.9,682.2v1.3M126.1,682.2v1.3M128.3,682.2v1.3M130.5,682.2v1.3M132.7,682.2v1.3M134.9,682.2v1.3M137.1,682.2v1.3M139.3,682.2v1.3M141.5,682.2v1.3M143.7,682.2v1.3M145.9,682.2v1.3M148.1,682.2v1.3M150.3,682.2v1.3M152.5,682.2v1.3M154.7,682.2v1.3M156.9,682.2v1.3M159.1,682.2v1.3M161.3,682.2v1.3M163.5,682.2v1.3M165.7,682.2v1.3M167.9,682.2v1.3M170.1,682.2v1.3M64.5,619.4v62.8M62.3,681h2.2M62.3,679.7h2.2M62.3,678.5h2.2M62.3,677.2h2.2M62.3,676h2.2M62.3,674.7h2.2M62.3,673.4h2.2M62.3,672.2h2.2M62.3,670.9h2.2M62.3,669.7h2.2M62.3,668.4h2.2M62.3,667.2h2.2M62.3,665.9h2.2M62.3,664.6h2.2M62.3,663.4h2.2M62.3,662.1h2.2M62.3,660.9h2.2M62.3,659.6h2.2M62.3,658.4h2.2M62.3,657.1h2.2M62.3,655.8h2.2M62.3,654.6h2.2M62.3,653.3h2.2M62.3,652.1h2.2M62.3,650.8h2.2M62.3,649.6h2.2M62.3,648.3h2.2M62.3,647h2.2M62.3,645.8h2.2M62.3,644.5h2.2M62.3,643.3h2.2M62.3,642h2.2M62.3,640.8h2.2M62.3,639.5h2.2M62.3,638.3h2.2M62.3,637h2.2M62.3,635.7h2.2M62.3,634.5h2.2M62.3,633.2h2.2M62.3,632h2.2M62.3,630.7h2.2M62.3,629.5h2.2M62.3,628.2h2.2M62.3,626.9h2.2M62.3,625.7h2.2M62.3,624.4h2.2M62.3,623.2h2.2M62.3,621.9h2.2M62.3,620.7h2.2M64.5,681h107.8M66.7,681v1.3M68.9,681v1.3M71.1,681v1.3M73.3,681v1.3M75.5,681v1.3M77.7,681v1.3M79.9,681v1.3M82.1,681v1.3M84.3,681v1.3M86.5,681v1.3M88.7,681v1.3M90.9,681v1.3M93.1,681v1.3M95.3,681v1.3M97.5,681v1.3M99.7,681v1.3M101.9,681v1.3M104.1,681v1.3M106.3,681v1.3M108.5,681v1.3M110.7,681v1.3M112.9,681v1.3M115.1,681v1.3M117.3,681v1.3M119.5,681v1.3M121.7,681v1.3M123.9,681v1.3M126.1,681v1.3M128.3,681v1.3M130.5,681v1.3M132.7,681v1.3M134.9,681v1.3M137.1,681v1.3M139.3,681v1.3M141.5,681v1.3M143.7,681v1.3M145.9,681v1.3M148.1,681v1.3M150.3,681v1.3M152.5,681v1.3M154.7,681v1.3M156.9,681v1.3M159.1,681v1.3M161.3,681v1.3M163.5,681v1.3M165.7,681v1.3M167.9,681v1.3M170.1,681v1.3M66.7,619.4v61.6M64.5,679.7h2.2M64.5,678.5h2.2M64.5,677.2h2.2M64.5,675.9h2.2M64.5,674.7h2.2M64.5,673.4h2.2M64.5,672.2h2.2M64.5,670.9h2.2M64.5,669.7h2.2M64.5,668.4h2.2M64.5,667.1h2.2M64.5,665.9h2.2M64.5,664.6h2.2M64.5,663.4h2.2M64.5,662.1h2.2M64.5,660.9h2.2M64.5,659.6h2.2M64.5,658.3h2.2M64.5,657.1h2.2M64.5,655.8h2.2M64.5,654.6h2.2M64.5,653.3h2.2M64.5,652.1h2.2M64.5,650.8h2.2M64.5,649.6h2.2M64.5,648.3h2.2M64.5,647h2.2M64.5,645.8h2.2M64.5,644.5h2.2M64.5,643.3h2.2M64.5,642h2.2M64.5,640.8h2.2M64.5,639.5h2.2M64.5,638.2h2.2M64.5,637h2.2M64.5,635.7h2.2M64.5,634.5h2.2M64.5,633.2h2.2M64.5,632h2.2M64.5,630.7h2.2M64.5,629.5h2.2M64.5,628.2h2.2M64.5,626.9h2.2M64.5,625.7h2.2M64.5,624.4h2.2M64.5,623.2h2.2M64.5,621.9h2.2M64.5,620.7h2.2M66.7,679.7h105.6M68.9,679.7v1.3M71.1,679.7v1.3M73.3,679.7v1.3M75.5,679.7v1.3M77.7,679.7v1.3M79.9,679.7v1.3M82.1,679.7v1.3M84.3,679.7v1.3M86.5,679.7v1.3M88.7,679.7v1.3M90.9,679.7v1.3M93.1,679.7v1.3M95.3,679.7v1.3M97.5,679.7v1.3M99.7,679.7v1.3M101.9,679.7v1.3M104.1,679.7v1.3M106.3,679.7v1.3M108.5,679.7v1.3M110.7,679.7v1.3M112.9,679.7v1.3M115.1,679.7v1.3M117.3,679.7v1.3M119.5,679.7v1.3M121.7,679.7v1.3M123.9,679.7v1.3M126.1,679.7v1.3M128.3,679.7v1.3M130.5,679.7v1.3M132.7,679.7v1.3M134.9,679.7v1.3M137.1,679.7v1.3M139.3,679.7v1.3M141.5,679.7v1.3M143.7,679.7v1.3M145.9,679.7v1.3M148.1,679.7v1.3M150.3,679.7v1.3M152.5,679.7v1.3M154.7,679.7v1.3M156.9,679.7v1.3M159.1,679.7v1.3M161.3,679.7v1.3M163.5,679.7v1.3M165.7,679.7v1.3M167.9,679.7v1.3M170.1,679.7v1.3M69,619.4v60.3M66.7,678.4h2.2M66.7,677.2h2.2M66.7,675.9h2.2M66.7,674.7h2.2M66.7,673.4h2.2M66.7,672.2h2.2M66.7,670.9h2.2M66.7,669.6h2.2M66.7,668.4h2.2M66.7,667.1h2.2M66.7,665.9h2.2M66.7,664.6h2.2M66.7,663.4h2.2M66.7,662.1h2.2M66.7,660.9h2.2M66.7,659.6h2.2M66.7,658.3h2.2M66.7,657.1h2.2M66.7,655.8h2.2M66.7,654.6h2.2M66.7,653.3h2.2M66.7,652.1h2.2M66.7,650.8h2.2M66.7,649.5h2.2M66.7,648.3h2.2M66.7,647h2.2M66.7,645.8h2.2M66.7,644.5h2.2M66.7,643.3h2.2M66.7,642h2.2M66.7,640.8h2.2M66.7,639.5h2.2M66.7,638.2h2.2M66.7,637h2.2M66.7,635.7h2.2M66.7,634.5h2.2M66.7,633.2h2.2M66.7,632h2.2M66.7,630.7h2.2M66.7,629.4h2.2M66.7,628.2h2.2M66.7,626.9h2.2M66.7,625.7h2.2M66.7,624.4h2.2M66.7,623.2h2.2M66.7,621.9h2.2M66.7,620.7h2.2M69,678.4h103.3M71.2,678.4v1.3M73.4,678.4v1.3M75.6,678.4v1.3M77.8,678.4v1.3M80,678.4v1.3M82.2,678.4v1.3M84.4,678.4v1.3M86.6,678.4v1.3M88.8,678.4v1.3M91,678.4v1.3M93.2,678.4v1.3M95.4,678.4v1.3M97.6,678.4v1.3M99.8,678.4v1.3M102,678.4v1.3M104.1,678.4v1.3M106.3,678.4v1.3M108.5,678.4v1.3M110.7,678.4v1.3M112.9,678.4v1.3M115.1,678.4v1.3M117.3,678.4v1.3M119.5,678.4v1.3M121.7,678.4v1.3M123.9,678.4v1.3M126.1,678.4v1.3M128.3,678.4v1.3M130.5,678.4v1.3M132.7,678.4v1.3M134.9,678.4v1.3M137.1,678.4v1.3M139.3,678.4v1.3M141.5,678.4v1.3M143.7,678.4v1.3M145.9,678.4v1.3M148.1,678.4v1.3M150.3,678.4v1.3M152.5,678.4v1.3M154.7,678.4v1.3M156.9,678.4v1.3M159.1,678.4v1.3M161.3,678.4v1.3M163.5,678.4v1.3M165.7,678.4v1.3M167.9,678.4v1.3M170.1,678.4v1.3M71.2,619.4v59M69,677.2h2.2M69,675.9h2.2M69,674.7h2.2M69,673.4h2.2M69,672.1h2.2M69,670.9h2.2M69,669.6h2.2M69,668.4h2.2M69,667.1h2.2M69,665.9h2.2M69,664.6h2.2M69,663.3h2.2M69,662.1h2.2M69,660.8h2.2M69,659.6h2.2M69,658.3h2.2M69,657.1h2.2M69,655.8h2.2M69,654.6h2.2M69,653.3h2.2M69,652h2.2M69,650.8h2.2M69,649.5h2.2M69,648.3h2.2M69,647h2.2M69,645.8h2.2M69,644.5h2.2M69,643.3h2.2M69,642h2.2M69,640.7h2.2M69,639.5h2.2M69,638.2h2.2M69,637h2.2M69,635.7h2.2M69,634.5h2.2M69,633.2h2.2M69,632h2.2M69,630.7h2.2M69,629.4h2.2M69,628.2h2.2M69,626.9h2.2M69,625.7h2.2M69,624.4h2.2M69,623.2h2.2M69,621.9h2.2M69,620.7h2.2M71.2,677.1h101.1M73.4,677.1v1.3M75.6,677.1v1.3M77.8,677.1v1.3M80,677.1v1.3M82.2,677.1v1.3M84.4,677.1v1.3M86.6,677.1v1.3M88.8,677.1v1.3M91,677.1v1.3M93.2,677.1v1.3M95.4,677.1v1.3M97.6,677.1v1.3M99.8,677.1v1.3M102,677.1v1.3M104.2,677.1v1.3M106.4,677.1v1.3M108.6,677.1v1.3M110.8,677.1v1.3M113,677.1v1.3M115.2,677.1v1.3M117.4,677.1v1.3M119.6,677.1v1.3M121.8,677.1v1.3M123.9,677.1v1.3M126.1,677.1v1.3M128.3,677.1v1.3M130.5,677.1v1.3M132.7,677.1v1.3M134.9,677.1v1.3M137.1,677.1v1.3M139.3,677.1v1.3M141.5,677.1v1.3M143.7,677.1v1.3M145.9,677.1v1.3M148.1,677.1v1.3M150.3,677.1v1.3M152.5,677.1v1.3M154.7,677.1v1.3M156.9,677.1v1.3M159.1,677.1v1.3M161.3,677.1v1.3M163.5,677.1v1.3M165.7,677.1v1.3M167.9,677.1v1.3M170.1,677.1v1.3M73.4,619.4v57.7M71.2,675.9h2.2M71.2,674.6h2.2M71.2,673.4h2.2M71.2,672.1h2.2M71.2,670.9h2.2M71.2,669.6h2.2M71.2,668.4h2.2M71.2,667.1h2.2M71.2,665.8h2.2M71.2,664.6h2.2M71.2,663.3h2.2M71.2,662.1h2.2M71.2,660.8h2.2M71.2,659.6h2.2M71.2,658.3h2.2M71.2,657.1h2.2M71.2,655.8h2.2M71.2,654.5h2.2M71.2,653.3h2.2M71.2,652h2.2M71.2,650.8h2.2M71.2,649.5h2.2M71.2,648.3h2.2M71.2,647h2.2M71.2,645.8h2.2M71.2,644.5h2.2M71.2,643.3h2.2M71.2,642h2.2M71.2,640.7h2.2M71.2,639.5h2.2M71.2,638.2h2.2M71.2,637h2.2M71.2,635.7h2.2M71.2,634.5h2.2M71.2,633.2h2.2M71.2,632h2.2M71.2,630.7h2.2M71.2,629.4h2.2M71.2,628.2h2.2M71.2,626.9h2.2M71.2,625.7h2.2M71.2,624.4h2.2M71.2,623.2h2.2M71.2,621.9h2.2M71.2,620.7h2.2M73.4,675.9h98.9M75.6,675.9v1.3M77.8,675.9v1.3M80,675.9v1.3M82.2,675.9v1.3M84.4,675.9v1.3M86.6,675.9v1.3M88.8,675.9v1.3M91,675.9v1.3M93.2,675.9v1.3M95.4,675.9v1.3M97.6,675.9v1.3M99.8,675.9v1.3M102,675.9v1.3M104.2,675.9v1.3M106.4,675.9v1.3M108.6,675.9v1.3M110.8,675.9v1.3M113,675.9v1.3M115.2,675.9v1.3M117.4,675.9v1.3M119.6,675.9v1.3M121.8,675.9v1.3M124,675.9v1.3M126.2,675.9v1.3M128.4,675.9v1.3M130.6,675.9v1.3M132.8,675.9v1.3M135,675.9v1.3M137.1,675.9v1.3M139.3,675.9v1.3M141.5,675.9v1.3M143.7,675.9v1.3M145.9,675.9v1.3M148.1,675.9v1.3M150.3,675.9v1.3M152.5,675.9v1.3M154.7,675.9v1.3M156.9,675.9v1.3M159.1,675.9v1.3M161.3,675.9v1.3M163.5,675.9v1.3M165.7,675.9v1.3M167.9,675.9v1.3M170.1,675.9v1.3M75.7,619.4v56.5M73.4,674.6h2.2M73.4,673.4h2.2M73.4,672.1h2.2M73.4,670.8h2.2M73.4,669.6h2.2M73.4,668.3h2.2M73.4,667.1h2.2M73.4,665.8h2.2M73.4,664.6h2.2M73.4,663.3h2.2M73.4,662.1h2.2M73.4,660.8h2.2M73.4,659.6h2.2M73.4,658.3h2.2M73.4,657h2.2M73.4,655.8h2.2M73.4,654.5h2.2M73.4,653.3h2.2M73.4,652h2.2M73.4,650.8h2.2M73.4,649.5h2.2M73.4,648.3h2.2M73.4,647h2.2M73.4,645.8h2.2M73.4,644.5h2.2M73.4,643.2h2.2M73.4,642h2.2M73.4,640.7h2.2M73.4,639.5h2.2M73.4,638.2h2.2M73.4,637h2.2M73.4,635.7h2.2M73.4,634.5h2.2M73.4,633.2h2.2M73.4,631.9h2.2M73.4,630.7h2.2M73.4,629.4h2.2M73.4,628.2h2.2M73.4,626.9h2.2M73.4,625.7h2.2M73.4,624.4h2.2M73.4,623.2h2.2M73.4,621.9h2.2M73.4,620.7h2.2M75.7,674.6h96.6M77.9,674.6v1.3M80.1,674.6v1.3M82.3,674.6v1.3M84.5,674.6v1.3M86.6,674.6v1.3M88.8,674.6v1.3M91,674.6v1.3M93.2,674.6v1.3M95.4,674.6v1.3M97.6,674.6v1.3M99.8,674.6v1.3M102,674.6v1.3M104.2,674.6v1.3M106.4,674.6v1.3M108.6,674.6v1.3M110.8,674.6v1.3M113,674.6v1.3M115.2,674.6v1.3M117.4,674.6v1.3M119.6,674.6v1.3M121.8,674.6v1.3M124,674.6v1.3M126.2,674.6v1.3M128.4,674.6v1.3M130.6,674.6v1.3M132.8,674.6v1.3M135,674.6v1.3M137.2,674.6v1.3M139.4,674.6v1.3M141.6,674.6v1.3M143.7,674.6v1.3M145.9,674.6v1.3M148.1,674.6v1.3M150.3,674.6v1.3M152.5,674.6v1.3M154.7,674.6v1.3M156.9,674.6v1.3M159.1,674.6v1.3M161.3,674.6v1.3M163.5,674.6v1.3M165.7,674.6v1.3M167.9,674.6v1.3M170.1,674.6v1.3M77.9,619.4v55.2M75.7,673.3h2.2M75.7,672.1h2.2M75.7,670.8h2.2M75.7,669.6h2.2M75.7,668.3h2.2M75.7,667.1h2.2M75.7,665.8h2.2M75.7,664.6h2.2M75.7,663.3h2.2M75.7,662.1h2.2M75.7,660.8h2.2M75.7,659.5h2.2M75.7,658.3h2.2M75.7,657h2.2M75.7,655.8h2.2M75.7,654.5h2.2M75.7,653.3h2.2M75.7,652h2.2M75.7,650.8h2.2M75.7,649.5h2.2M75.7,648.3h2.2M75.7,647h2.2M75.7,645.7h2.2M75.7,644.5h2.2M75.7,643.2h2.2M75.7,642h2.2M75.7,640.7h2.2M75.7,639.5h2.2M75.7,638.2h2.2M75.7,637h2.2M75.7,635.7h2.2M75.7,634.5h2.2M75.7,633.2h2.2M75.7,631.9h2.2M75.7,630.7h2.2M75.7,629.4h2.2M75.7,628.2h2.2M75.7,626.9h2.2M75.7,625.7h2.2M75.7,624.4h2.2M75.7,623.2h2.2M75.7,621.9h2.2M75.7,620.7h2.2M77.9,673.3h94.4M80.1,673.3v1.3M82.3,673.3v1.3M84.5,673.3v1.3M86.7,673.3v1.3M88.9,673.3v1.3M91.1,673.3v1.3M93.3,673.3v1.3M95.5,673.3v1.3M97.7,673.3v1.3M99.9,673.3v1.3M102,673.3v1.3M104.2,673.3v1.3M106.4,673.3v1.3M108.6,673.3v1.3M110.8,673.3v1.3M113,673.3v1.3M115.2,673.3v1.3M117.4,673.3v1.3M119.6,673.3v1.3M121.8,673.3v1.3M124,673.3v1.3M126.2,673.3v1.3M128.4,673.3v1.3M130.6,673.3v1.3M132.8,673.3v1.3M135,673.3v1.3M137.2,673.3v1.3M139.4,673.3v1.3M141.6,673.3v1.3M143.8,673.3v1.3M146,673.3v1.3M148.2,673.3v1.3M150.3,673.3v1.3M152.5,673.3v1.3M154.7,673.3v1.3M156.9,673.3v1.3M159.1,673.3v1.3M161.3,673.3v1.3M163.5,673.3v1.3M165.7,673.3v1.3M167.9,673.3v1.3M170.1,673.3v1.3M80.1,619.4v53.9M77.9,672.1h2.2M77.9,670.8h2.2M77.9,669.6h2.2M77.9,668.3h2.2M77.9,667h2.2M77.9,665.8h2.2M77.9,664.5h2.2M77.9,663.3h2.2M77.9,662h2.2M77.9,660.8h2.2M77.9,659.5h2.2M77.9,658.3h2.2M77.9,657h2.2M77.9,655.8h2.2M77.9,654.5h2.2M77.9,653.3h2.2M77.9,652h2.2M77.9,650.7h2.2M77.9,649.5h2.2M77.9,648.2h2.2M77.9,647h2.2M77.9,645.7h2.2M77.9,644.5h2.2M77.9,643.2h2.2M77.9,642h2.2M77.9,640.7h2.2M77.9,639.5h2.2M77.9,638.2h2.2M77.9,637h2.2M77.9,635.7h2.2M77.9,634.4h2.2M77.9,633.2h2.2M77.9,631.9h2.2M77.9,630.7h2.2M77.9,629.4h2.2M77.9,628.2h2.2M77.9,626.9h2.2M77.9,625.7h2.2M77.9,624.4h2.2M77.9,623.2h2.2M77.9,621.9h2.2M77.9,620.7h2.2M80.1,672h92.2M82.3,672v1.3M84.5,672v1.3M86.7,672v1.3M88.9,672v1.3M91.1,672v1.3M93.3,672v1.3M95.5,672v1.3M97.7,672v1.3M99.9,672v1.3M102.1,672v1.3M104.3,672v1.3M106.5,672v1.3M108.7,672v1.3M110.9,672v1.3M113,672v1.3M115.2,672v1.3M117.4,672v1.3M119.6,672v1.3M121.8,672v1.3M124,672v1.3M126.2,672v1.3M128.4,672v1.3M130.6,672v1.3M132.8,672v1.3M135,672v1.3M137.2,672v1.3M139.4,672v1.3M141.6,672v1.3M143.8,672v1.3M146,672v1.3M148.2,672v1.3M150.4,672v1.3M152.5,672v1.3M154.7,672v1.3M156.9,672v1.3M159.1,672v1.3M161.3,672v1.3M163.5,672v1.3M165.7,672v1.3M167.9,672v1.3M170.1,672v1.3M82.4,619.4v52.6M80.1,670.8h2.2M80.1,669.5h2.2M80.1,668.3h2.2M80.1,667h2.2M80.1,665.8h2.2M80.1,664.5h2.2M80.1,663.3h2.2M80.1,662h2.2M80.1,660.8h2.2M80.1,659.5h2.2M80.1,658.3h2.2M80.1,657h2.2M80.1,655.7h2.2M80.1,654.5h2.2M80.1,653.2h2.2M80.1,652h2.2M80.1,650.7h2.2M80.1,649.5h2.2M80.1,648.2h2.2M80.1,647h2.2M80.1,645.7h2.2M80.1,644.5h2.2M80.1,643.2h2.2M80.1,642h2.2M80.1,640.7h2.2M80.1,639.5h2.2M80.1,638.2h2.2M80.1,636.9h2.2M80.1,635.7h2.2M80.1,634.4h2.2M80.1,633.2h2.2M80.1,631.9h2.2M80.1,630.7h2.2M80.1,629.4h2.2M80.1,628.2h2.2M80.1,626.9h2.2M80.1,625.7h2.2M80.1,624.4h2.2M80.1,623.2h2.2M80.1,621.9h2.2M80.1,620.7h2.2M82.4,670.8h89.9M84.6,670.8v1.3M86.8,670.8v1.3M88.9,670.8v1.3M91.1,670.8v1.3M93.3,670.8v1.3M95.5,670.8v1.3M97.7,670.8v1.3M99.9,670.8v1.3M102.1,670.8v1.3M104.3,670.8v1.3M106.5,670.8v1.3M108.7,670.8v1.3M110.9,670.8v1.3M113.1,670.8v1.3M115.3,670.8v1.3M117.5,670.8v1.3M119.7,670.8v1.3M121.8,670.8v1.3M124,670.8v1.3M126.2,670.8v1.3M128.4,670.8v1.3M130.6,670.8v1.3M132.8,670.8v1.3M135,670.8v1.3M137.2,670.8v1.3M139.4,670.8v1.3M141.6,670.8v1.3M143.8,670.8v1.3M146,670.8v1.3M148.2,670.8v1.3M150.4,670.8v1.3M152.6,670.8v1.3M154.8,670.8v1.3M156.9,670.8v1.3M159.1,670.8v1.3M161.3,670.8v1.3M163.5,670.8v1.3M165.7,670.8v1.3M167.9,670.8v1.3M170.1,670.8v1.3M84.6,619.4v51.4M82.4,669.5h2.2M82.4,668.3h2.2M82.4,667h2.2M82.4,665.8h2.2M82.4,664.5h2.2M82.4,663.2h2.2M82.4,662h2.2M82.4,660.7h2.2M82.4,659.5h2.2M82.4,658.2h2.2M82.4,657h2.2M82.4,655.7h2.2M82.4,654.5h2.2M82.4,653.2h2.2M82.4,652h2.2M82.4,650.7h2.2M82.4,649.5h2.2M82.4,648.2h2.2M82.4,647h2.2M82.4,645.7h2.2M82.4,644.5h2.2M82.4,643.2h2.2M82.4,642h2.2M82.4,640.7h2.2M82.4,639.4h2.2M82.4,638.2h2.2M82.4,636.9h2.2M82.4,635.7h2.2M82.4,634.4h2.2M82.4,633.2h2.2M82.4,631.9h2.2M82.4,630.7h2.2M82.4,629.4h2.2M82.4,628.2h2.2M82.4,626.9h2.2M82.4,625.7h2.2M82.4,624.4h2.2M82.4,623.2h2.2M82.4,621.9h2.2M82.4,620.7h2.2M84.6,669.5h87.7M86.8,669.5v1.3M89,669.5v1.3M91.2,669.5v1.3M93.4,669.5v1.3M95.6,669.5v1.3M97.8,669.5v1.3M99.9,669.5v1.3M102.1,669.5v1.3M104.3,669.5v1.3M106.5,669.5v1.3M108.7,669.5v1.3M110.9,669.5v1.3M113.1,669.5v1.3M115.3,669.5v1.3M117.5,669.5v1.3M119.7,669.5v1.3M121.9,669.5v1.3M124.1,669.5v1.3M126.3,669.5v1.3M128.4,669.5v1.3M130.6,669.5v1.3M132.8,669.5v1.3M135,669.5v1.3M137.2,669.5v1.3M139.4,669.5v1.3M141.6,669.5v1.3M143.8,669.5v1.3M146,669.5v1.3M148.2,669.5v1.3M150.4,669.5v1.3M152.6,669.5v1.3M154.8,669.5v1.3M157,669.5v1.3M159.1,669.5v1.3M161.3,669.5v1.3M163.5,669.5v1.3M165.7,669.5v1.3M167.9,669.5v1.3M170.1,669.5v1.3M86.8,619.4v50.1M84.6,668.2h2.2M84.6,667h2.2M84.6,665.7h2.2M84.6,664.5h2.2M84.6,663.2h2.2M84.6,662h2.2M84.6,660.7h2.2M84.6,659.5h2.2M84.6,658.2h2.2M84.6,657h2.2M84.6,655.7h2.2M84.6,654.5h2.2M84.6,653.2h2.2M84.6,652h2.2M84.6,650.7h2.2M84.6,649.5h2.2M84.6,648.2h2.2M84.6,646.9h2.2M84.6,645.7h2.2M84.6,644.4h2.2M84.6,643.2h2.2M84.6,641.9h2.2M84.6,640.7h2.2M84.6,639.4h2.2M84.6,638.2h2.2M84.6,636.9h2.2M84.6,635.7h2.2M84.6,634.4h2.2M84.6,633.2h2.2M84.6,631.9h2.2M84.6,630.7h2.2M84.6,629.4h2.2M84.6,628.2h2.2M84.6,626.9h2.2M84.6,625.7h2.2M84.6,624.4h2.2M84.6,623.2h2.2M84.6,621.9h2.2M84.6,620.7h2.2M86.8,668.2h85.5M89,668.2v1.3M91.2,668.2v1.3M93.4,668.2v1.3M95.6,668.2v1.3M97.8,668.2v1.3M100,668.2v1.3M102.2,668.2v1.3M104.4,668.2v1.3M106.6,668.2v1.3M108.7,668.2v1.3M110.9,668.2v1.3M113.1,668.2v1.3M115.3,668.2v1.3M117.5,668.2v1.3M119.7,668.2v1.3M121.9,668.2v1.3M124.1,668.2v1.3M126.3,668.2v1.3M128.5,668.2v1.3M130.7,668.2v1.3M132.9,668.2v1.3M135,668.2v1.3M137.2,668.2v1.3M139.4,668.2v1.3M141.6,668.2v1.3M143.8,668.2v1.3M146,668.2v1.3M148.2,668.2v1.3M150.4,668.2v1.3M152.6,668.2v1.3M154.8,668.2v1.3M157,668.2v1.3M159.2,668.2v1.3M161.3,668.2v1.3M163.5,668.2v1.3M165.7,668.2v1.3M167.9,668.2v1.3M170.1,668.2v1.3M89.1,619.4v48.8M86.8,667h2.2M86.8,665.7h2.2M86.8,664.5h2.2M86.8,663.2h2.2M86.8,662h2.2M86.8,660.7h2.2M86.8,659.5h2.2M86.8,658.2h2.2M86.8,656.9h2.2M86.8,655.7h2.2M86.8,654.4h2.2M86.8,653.2h2.2M86.8,651.9h2.2M86.8,650.7h2.2M86.8,649.4h2.2M86.8,648.2h2.2M86.8,646.9h2.2M86.8,645.7h2.2M86.8,644.4h2.2M86.8,643.2h2.2M86.8,641.9h2.2M86.8,640.7h2.2M86.8,639.4h2.2M86.8,638.2h2.2M86.8,636.9h2.2M86.8,635.7h2.2M86.8,634.4h2.2M86.8,633.2h2.2M86.8,631.9h2.2M86.8,630.7h2.2M86.8,629.4h2.2M86.8,628.2h2.2M86.8,626.9h2.2M86.8,625.7h2.2M86.8,624.4h2.2M86.8,623.2h2.2M86.8,621.9h2.2M86.8,620.7h2.2" fill="none" stroke="#888" stroke-width="0.33"/>
<rect x="51.10" y="689.30" width="4.50" height="2.30" fill="#E3151B" />
<rect x="96.00" y="672.70" width="1.40" height="1.00" fill="#8B0A1E" />
<rect x="88.80" y="631.70" width="1.10" height="1.00" fill="#D22" />
<rect x="159.50" y="628.90" width="1.10" height="1.00" fill="#C22" />
<rect x="162.90" y="650.40" width="1.10" height="1.00" fill="#D22" />
<rect x="4.30" y="619.40" width="168.00" height="96.00" fill="none" stroke="#808080" stroke-width="0.7" />
<rect x="176.20" y="619.40" width="168.50" height="96.00" fill="#DCDCDC" />
<rect x="298.14" y="619.40" width="46.56" height="26.49" fill="#BABABA" />
<rect x="306.90" y="619.40" width="37.80" height="21.50" fill="#9E9E9E" />
<path d="M244.2,619.4v96M176.2,665.2h68M244.2,683h100.5M295.2,683v32.4M244.2,663.5h100.5M325.6,663.5v19.5M265.6,619.4v44.1M244.2,646.3h21.4M244.2,631.9h21.4M280.7,619.4v44.1M265.6,645.6h15.1M265.6,633.4h15.1M265.6,628.6h15.1M265.6,623.7h15.1" fill="none" stroke="#808080" stroke-width="0.5"/>
<path d="M280.7,659.2h64M290,659.2v4.3M298.8,659.2v4.3M307.3,659.2v4.3M315.4,659.2v4.3M323.2,659.2v4.3M330.6,659.2v4.3M337.8,659.2v4.3M280.7,655.4h64M288.1,655.4v3.8M295.3,655.4v3.8M302.3,655.4v3.8M308.9,655.4v3.8M315.4,655.4v3.8M321.7,655.4v3.8M327.7,655.4v3.8M333.5,655.4v3.8M339.2,655.4v3.8M286.1,619.4v36M280.7,651.6h5.4M280.7,648h5.4M280.7,644.4h5.4M280.7,641h5.4M280.7,637.7h5.4M280.7,634.4h5.4M280.7,631.2h5.4M280.7,628.2h5.4M280.7,625.2h5.4M280.7,622.2h5.4M286.1,652.6h58.6M291.6,652.6v2.7M297,652.6v2.7M302.3,652.6v2.7M307.5,652.6v2.7M312.5,652.6v2.7M317.4,652.6v2.7M322.2,652.6v2.7M326.9,652.6v2.7M331.5,652.6v2.7M336,652.6v2.7M340.4,652.6v2.7M290.4,619.4v33.2M286.1,649.9h4.3M286.1,647.3h4.3M286.1,644.7h4.3M286.1,642.2h4.3M286.1,639.7h4.3M286.1,637.3h4.3M286.1,634.9h4.3M286.1,632.6h4.3M286.1,630.3h4.3M286.1,628h4.3M286.1,625.8h4.3M286.1,623.6h4.3M286.1,621.5h4.3M290.4,650.4h54.3M294.4,650.4v2.2M298.4,650.4v2.2M302.3,650.4v2.2M306.2,650.4v2.2M310,650.4v2.2M313.7,650.4v2.2M317.4,650.4v2.2M321,650.4v2.2M324.5,650.4v2.2M328,650.4v2.2M331.5,650.4v2.2M334.8,650.4v2.2M338.2,650.4v2.2M341.5,650.4v2.2M290.4,648.6h54.3M294.2,648.6v1.8M297.9,648.6v1.8M301.5,648.6v1.8M305.1,648.6v1.8M308.7,648.6v1.8M312.2,648.6v1.8M315.6,648.6v1.8M319,648.6v1.8M322.4,648.6v1.8M325.7,648.6v1.8M329,648.6v1.8M332.2,648.6v1.8M335.4,648.6v1.8M338.5,648.6v1.8M341.6,648.6v1.8M293.3,619.4v29.2M290.4,646.7h3M290.4,644.8h3M290.4,643h3M290.4,641.2h3M290.4,639.4h3M290.4,637.6h3M290.4,635.8h3M290.4,634.1h3M290.4,632.4h3M290.4,630.7h3M290.4,629h3M290.4,627.4h3M290.4,625.8h3M290.4,624.1h3M290.4,622.5h3M290.4,621h3M296.1,619.4v29.2M293.3,646.9h2.7M293.3,645.2h2.7M293.3,643.6h2.7M293.3,642h2.7M293.3,640.3h2.7M293.3,638.7h2.7M293.3,637.2h2.7M293.3,635.6h2.7M293.3,634h2.7M293.3,632.5h2.7M293.3,631h2.7M293.3,629.5h2.7M293.3,628h2.7M293.3,626.5h2.7M293.3,625.1h2.7M293.3,623.6h2.7M293.3,622.2h2.7M293.3,620.8h2.7M296.1,647.2h48.6M298.7,647.2v1.4M301.3,647.2v1.4M303.9,647.2v1.4M306.5,647.2v1.4M309.1,647.2v1.4M311.6,647.2v1.4M314.1,647.2v1.4M316.6,647.2v1.4M319.1,647.2v1.4M321.5,647.2v1.4M323.9,647.2v1.4M326.3,647.2v1.4M328.7,647.2v1.4M331,647.2v1.4M333.4,647.2v1.4M335.7,647.2v1.4M338,647.2v1.4M340.2,647.2v1.4M342.5,647.2v1.4M296.1,645.9h48.6M298.5,645.9v1.3M300.9,645.9v1.3M303.2,645.9v1.3M305.6,645.9v1.3M307.9,645.9v1.3M310.2,645.9v1.3M312.5,645.9v1.3M314.8,645.9v1.3M317,645.9v1.3M319.3,645.9v1.3M321.5,645.9v1.3M323.7,645.9v1.3M325.8,645.9v1.3M328,645.9v1.3M330.2,645.9v1.3M332.3,645.9v1.3M334.4,645.9v1.3M336.5,645.9v1.3M338.6,645.9v1.3M340.6,645.9v1.3M342.7,645.9v1.3M298.1,619.4v26.5M296.1,644.6h2.1M296.1,643.4h2.1M296.1,642.2h2.1M296.1,641h2.1M296.1,639.7h2.1M296.1,638.5h2.1M296.1,637.4h2.1M296.1,636.2h2.1M296.1,635h2.1M296.1,633.8h2.1M296.1,632.7h2.1M296.1,631.5h2.1M296.1,630.4h2.1M296.1,629.2h2.1M296.1,628.1h2.1M296.1,627h2.1M296.1,625.9h2.1M296.1,624.8h2.1M296.1,623.7h2.1M296.1,622.6h2.1M296.1,621.5h2.1M296.1,620.5h2.1" fill="none" stroke="#888" stroke-width="0.33"/>
<rect x="305.20" y="626.90" width="1.70" height="1.60" fill="#E0403A" />
<rect x="327.70" y="621.90" width="1.10" height="1.00" fill="#4A2A6A" />
<rect x="327.70" y="631.80" width="1.10" height="1.00" fill="#A8283A" />
<rect x="335.00" y="646.90" width="1.90" height="1.20" fill="#E3151B" />
<rect x="176.20" y="619.40" width="168.50" height="96.00" fill="none" stroke="#808080" stroke-width="0.7" />
<rect x="348.50" y="619.40" width="169.00" height="96.00" fill="#DCDCDC" />
<rect x="476.18" y="619.40" width="41.32" height="24.53" fill="#C6C6C6" />
<rect x="484.20" y="619.40" width="33.30" height="18.60" fill="#B8B8B8" />
<rect x="494.60" y="619.40" width="22.90" height="12.20" fill="#AAAAAA" />
<rect x="498.00" y="619.40" width="19.50" height="9.90" fill="#999999" />
<rect x="502.90" y="619.40" width="14.60" height="7.60" fill="url(#dk)" />
<path d="M371.4,619.4v96M348.5,699.7h22.9M348.5,685.4h22.9M348.5,671.6h22.9M348.5,658.5h22.9M348.5,647.2h22.9M348.5,637.3h22.9M348.5,628h22.9M371.4,706.8h146.1M392.4,706.8v8.6M410.2,706.8v8.6M428.7,706.8v8.6M447.2,706.8v8.6M465.3,706.8v8.6M482.8,706.8v8.6M500.3,706.8v8.6M371.4,699.8h146.1M386,699.8v7M400.6,699.8v7M415.2,699.8v7M429.8,699.8v7M444.4,699.8v7M459.1,699.8v7M473.7,699.8v7M488.3,699.8v7M502.9,699.8v7M381.7,619.4v80.4M371.4,692.9h10.3M371.4,686.2h10.3M371.4,679.8h10.3M371.4,673.4h10.3M371.4,667.2h10.3M371.4,661.1h10.3M371.4,655h10.3M371.4,649h10.3M371.4,643.1h10.3M371.4,637.1h10.3M371.4,631.2h10.3M371.4,625.2h10.3M381.7,694.7h135.8M392.2,694.7v5.1M402.6,694.7v5.1M413,694.7v5.1M423.5,694.7v5.1M433.9,694.7v5.1M444.4,694.7v5.1M454.8,694.7v5.1M465.3,694.7v5.1M475.7,694.7v5.1M486.2,694.7v5.1M496.6,694.7v5.1M507.1,694.7v5.1M390.7,619.4v75.3M381.7,689.7h8.9M381.7,684.7h8.9M381.7,679.7h8.9M381.7,674.6h8.9M381.7,669.6h8.9M381.7,664.6h8.9M381.7,659.6h8.9M381.7,654.5h8.9M381.7,649.5h8.9M381.7,644.5h8.9M381.7,639.5h8.9M381.7,634.5h8.9M381.7,629.4h8.9M381.7,624.4h8.9M390.7,690h126.8M399.7,690v4.7M408.8,690v4.7M417.8,690v4.7M426.9,690v4.7M436,690v4.7M445,690v4.7M454.1,690v4.7M463.1,690v4.7M472.2,690v4.7M481.3,690v4.7M490.3,690v4.7M499.4,690v4.7M508.4,690v4.7M398,619.4v70.6M390.7,685.6h7.3M390.7,681.2h7.3M390.7,676.8h7.3M390.7,672.4h7.3M390.7,668h7.3M390.7,663.5h7.3M390.7,659.1h7.3M390.7,654.7h7.3M390.7,650.3h7.3M390.7,645.9h7.3M390.7,641.5h7.3M390.7,637.1h7.3M390.7,632.6h7.3M390.7,628.2h7.3M390.7,623.8h7.3M398,685.7h119.5M406,685.7v4.3M413.9,685.7v4.3M421.9,685.7v4.3M429.9,685.7v4.3M437.8,685.7v4.3M445.8,685.7v4.3M453.8,685.7v4.3M461.7,685.7v4.3M469.7,685.7v4.3M477.7,685.7v4.3M485.6,685.7v4.3M493.6,685.7v4.3M501.6,685.7v4.3M509.5,685.7v4.3" fill="none" stroke="#808080" stroke-width="0.5"/>
<path d="M405.6,619.4v66.3M398,681.4h7.7M398,677.1h7.7M398,672.9h7.7M398,668.6h7.7M398,664.4h7.7M398,660.2h7.7M398,656h7.7M398,651.9h7.7M398,647.7h7.7M398,643.6h7.7M398,639.5h7.7M398,635.5h7.7M398,631.4h7.7M398,627.4h7.7M398,623.4h7.7M405.6,681.6h111.9M412.9,681.6v4.2M420.2,681.6v4.2M427.3,681.6v4.2M434.5,681.6v4.2M441.6,681.6v4.2M448.7,681.6v4.2M455.7,681.6v4.2M462.8,681.6v4.2M469.7,681.6v4.2M476.7,681.6v4.2M483.6,681.6v4.2M490.4,681.6v4.2M497.2,681.6v4.2M504,681.6v4.2M510.8,681.6v4.2M412.6,619.4v62.2M405.6,677.5h6.9M405.6,673.5h6.9M405.6,669.5h6.9M405.6,665.5h6.9M405.6,661.6h6.9M405.6,657.6h6.9M405.6,653.7h6.9M405.6,649.8h6.9M405.6,646h6.9M405.6,642.1h6.9M405.6,638.3h6.9M405.6,634.5h6.9M405.6,630.7h6.9M405.6,626.9h6.9M405.6,623.1h6.9M412.6,677.8h104.9M419.4,677.8v3.8M426.2,677.8v3.8M432.9,677.8v3.8M439.6,677.8v3.8M446.3,677.8v3.8M452.9,677.8v3.8M459.6,677.8v3.8M466.1,677.8v3.8M472.7,677.8v3.8M479.2,677.8v3.8M485.6,677.8v3.8M492.1,677.8v3.8M498.5,677.8v3.8M504.9,677.8v3.8M511.2,677.8v3.8M418.8,619.4v58.4M412.6,674h6.2M412.6,670.2h6.2M412.6,666.5h6.2M412.6,662.7h6.2M412.6,659h6.2M412.6,655.3h6.2M412.6,651.6h6.2M412.6,648h6.2M412.6,644.4h6.2M412.6,640.7h6.2M412.6,637.1h6.2M412.6,633.5h6.2M412.6,630h6.2M412.6,626.4h6.2M412.6,622.9h6.2M418.8,674.4h98.7M425.2,674.4v3.4M431.6,674.4v3.4M437.9,674.4v3.4M444.2,674.4v3.4M450.5,674.4v3.4M456.8,674.4v3.4M463,674.4v3.4M469.2,674.4v3.4M475.3,674.4v3.4M481.4,674.4v3.4M487.5,674.4v3.4M493.6,674.4v3.4M499.6,674.4v3.4M505.6,674.4v3.4M511.6,674.4v3.4M424.7,619.4v55M418.8,671.1h5.9M418.8,667.7h5.9M418.8,664.4h5.9M418.8,661h5.9M418.8,657.7h5.9M418.8,654.4h5.9M418.8,651.2h5.9M418.8,647.9h5.9M418.8,644.7h5.9M418.8,641.5h5.9M418.8,638.3h5.9M418.8,635.1h5.9M418.8,631.9h5.9M418.8,628.8h5.9M418.8,625.6h5.9M418.8,622.5h5.9M424.7,671.2h92.8M430.4,671.2v3.2M436,671.2v3.2M441.6,671.2v3.2M447.3,671.2v3.2M452.8,671.2v3.2M458.4,671.2v3.2M463.9,671.2v3.2M469.4,671.2v3.2M474.8,671.2v3.2M480.3,671.2v3.2M485.7,671.2v3.2M491,671.2v3.2M496.4,671.2v3.2M501.7,671.2v3.2M507,671.2v3.2M512.3,671.2v3.2M429.9,619.4v51.8M424.7,668.1h5.2M424.7,664.9h5.2M424.7,661.7h5.2M424.7,658.6h5.2M424.7,655.5h5.2M424.7,652.4h5.2M424.7,649.3h5.2M424.7,646.3h5.2M424.7,643.2h5.2M424.7,640.2h5.2M424.7,637.2h5.2M424.7,634.2h5.2M424.7,631.2h5.2M424.7,628.2h5.2M424.7,625.3h5.2M424.7,622.3h5.2M429.9,668.4h87.6M435.3,668.4v2.8M440.6,668.4v2.8M445.9,668.4v2.8M451.2,668.4v2.8M456.5,668.4v2.8M461.7,668.4v2.8M466.9,668.4v2.8M472.1,668.4v2.8M477.2,668.4v2.8M482.4,668.4v2.8M487.5,668.4v2.8M492.5,668.4v2.8M497.6,668.4v2.8M502.6,668.4v2.8M507.6,668.4v2.8M512.6,668.4v2.8M434.8,619.4v49M429.9,665.6h4.9M429.9,662.7h4.9M429.9,659.9h4.9M429.9,657.1h4.9M429.9,654.3h4.9M429.9,651.6h4.9M429.9,648.8h4.9M429.9,646.1h4.9M429.9,643.3h4.9M429.9,640.6h4.9M429.9,637.9h4.9M429.9,635.2h4.9M429.9,632.5h4.9M429.9,629.9h4.9M429.9,627.2h4.9M429.9,624.6h4.9M429.9,622h4.9M434.8,665.8h82.7M439.6,665.8v2.6M444.4,665.8v2.6M449.1,665.8v2.6M453.8,665.8v2.6M458.6,665.8v2.6M463.2,665.8v2.6M467.9,665.8v2.6M472.5,665.8v2.6M477.1,665.8v2.6M481.7,665.8v2.6M486.3,665.8v2.6M490.8,665.8v2.6M495.3,665.8v2.6M499.8,665.8v2.6M504.3,665.8v2.6M508.7,665.8v2.6M513.1,665.8v2.6M439.3,619.4v46.4M434.8,663.2h4.5M434.8,660.7h4.5M434.8,658.1h4.5M434.8,655.6h4.5M434.8,653.1h4.5M434.8,650.6h4.5M434.8,648.1h4.5M434.8,645.7h4.5M434.8,643.2h4.5M434.8,640.8h4.5M434.8,638.4h4.5M434.8,635.9h4.5M434.8,633.5h4.5M434.8,631.2h4.5M434.8,628.8h4.5M434.8,626.4h4.5M434.8,624.1h4.5M434.8,621.7h4.5M439.3,663.4h78.2M443.6,663.4v2.4M447.9,663.4v2.4M452.2,663.4v2.4M456.4,663.4v2.4M460.6,663.4v2.4M464.8,663.4v2.4M469,663.4v2.4M473.2,663.4v2.4M477.3,663.4v2.4M481.4,663.4v2.4M485.5,663.4v2.4M489.6,663.4v2.4M493.6,663.4v2.4M497.7,663.4v2.4M501.7,663.4v2.4M505.7,663.4v2.4M509.6,663.4v2.4M513.6,663.4v2.4M443.2,619.4v44M439.3,660.9h3.9M439.3,658.5h3.9M439.3,656.1h3.9M439.3,653.7h3.9M439.3,651.4h3.9M439.3,649h3.9M439.3,646.6h3.9M439.3,644.3h3.9M439.3,642h3.9M439.3,639.7h3.9M439.3,637.4h3.9M439.3,635.1h3.9M439.3,632.8h3.9M439.3,630.5h3.9M439.3,628.3h3.9M439.3,626.1h3.9M439.3,623.8h3.9M439.3,621.6h3.9M443.2,661.2h74.3M447.1,661.2v2.2M451,661.2v2.2M454.8,661.2v2.2M458.7,661.2v2.2M462.5,661.2v2.2M466.3,661.2v2.2M470.1,661.2v2.2M473.8,661.2v2.2M477.6,661.2v2.2M481.3,661.2v2.2M485,661.2v2.2M488.7,661.2v2.2M492.4,661.2v2.2M496,661.2v2.2M499.6,661.2v2.2M503.3,661.2v2.2M506.8,661.2v2.2M510.4,661.2v2.2M514,661.2v2.2M446.7,619.4v41.8M443.2,659h3.5M443.2,656.8h3.5M443.2,654.6h3.5M443.2,652.5h3.5M443.2,650.3h3.5M443.2,648.2h3.5M443.2,646h3.5M443.2,643.9h3.5M443.2,641.8h3.5M443.2,639.7h3.5M443.2,637.7h3.5M443.2,635.6h3.5M443.2,633.5h3.5M443.2,631.5h3.5M443.2,629.4h3.5M443.2,627.4h3.5M443.2,625.4h3.5M443.2,623.4h3.5M443.2,621.4h3.5M446.7,659.2h70.8M450.2,659.2v1.9M453.8,659.2v1.9M457.3,659.2v1.9M460.8,659.2v1.9M464.3,659.2v1.9M467.7,659.2v1.9M471.2,659.2v1.9M474.6,659.2v1.9M478,659.2v1.9M481.4,659.2v1.9M484.7,659.2v1.9M488.1,659.2v1.9M491.4,659.2v1.9M494.8,659.2v1.9M498.1,659.2v1.9M501.3,659.2v1.9M504.6,659.2v1.9M507.9,659.2v1.9M511.1,659.2v1.9M514.3,659.2v1.9M449.9,619.4v39.8M446.7,657.3h3.2M446.7,655.4h3.2M446.7,653.5h3.2M446.7,651.6h3.2M446.7,649.8h3.2M446.7,647.9h3.2M446.7,646h3.2M446.7,644.2h3.2M446.7,642.4h3.2M446.7,640.5h3.2M446.7,638.7h3.2M446.7,636.9h3.2M446.7,635.1h3.2M446.7,633.4h3.2M446.7,631.6h3.2M446.7,629.8h3.2M446.7,628h3.2M446.7,626.3h3.2M446.7,624.6h3.2M446.7,622.8h3.2M446.7,621.1h3.2M449.9,657.5h67.6M453.2,657.5v1.7M456.4,657.5v1.7M459.6,657.5v1.7M462.8,657.5v1.7M466,657.5v1.7M469.1,657.5v1.7M472.3,657.5v1.7M475.4,657.5v1.7M478.5,657.5v1.7M481.6,657.5v1.7M484.7,657.5v1.7M487.7,657.5v1.7M490.8,657.5v1.7M493.8,657.5v1.7M496.8,657.5v1.7M499.8,657.5v1.7M502.8,657.5v1.7M505.8,657.5v1.7M508.7,657.5v1.7M511.7,657.5v1.7M514.6,657.5v1.7M452.7,619.4v38.1M449.9,655.8h2.8M449.9,654h2.8M449.9,652.3h2.8M449.9,650.6h2.8M449.9,648.8h2.8M449.9,647.1h2.8M449.9,645.4h2.8M449.9,643.7h2.8M449.9,642.1h2.8M449.9,640.4h2.8M449.9,638.7h2.8M449.9,637.1h2.8M449.9,635.4h2.8M449.9,633.8h2.8M449.9,632.1h2.8M449.9,630.5h2.8M449.9,628.9h2.8M449.9,627.3h2.8M449.9,625.7h2.8M449.9,624.1h2.8M449.9,622.5h2.8M449.9,621h2.8M452.7,656h64.8M455.6,656v1.5M458.4,656v1.5M461.3,656v1.5M464.1,656v1.5M466.9,656v1.5M469.7,656v1.5M472.5,656v1.5M475.2,656v1.5M478,656v1.5M480.7,656v1.5M483.4,656v1.5M486.1,656v1.5M488.8,656v1.5M491.5,656v1.5M494.2,656v1.5M496.8,656v1.5M499.4,656v1.5M502.1,656v1.5M504.7,656v1.5M507.3,656v1.5M509.8,656v1.5M512.4,656v1.5M515,656v1.5M455.3,619.4v36.6M452.7,654.5h2.6M452.7,653h2.6M452.7,651.5h2.6M452.7,650h2.6M452.7,648.6h2.6M452.7,647.1h2.6M452.7,645.7h2.6M452.7,644.2h2.6M452.7,642.8h2.6M452.7,641.3h2.6M452.7,639.9h2.6M452.7,638.5h2.6M452.7,637.1h2.6M452.7,635.7h2.6M452.7,634.3h2.6M452.7,632.9h2.6M452.7,631.5h2.6M452.7,630.1h2.6M452.7,628.8h2.6M452.7,627.4h2.6M452.7,626.1h2.6M452.7,624.7h2.6M452.7,623.4h2.6M452.7,622h2.6M452.7,620.7h2.6M455.3,654.7h62.2M457.8,654.7v1.3M460.4,654.7v1.3M462.9,654.7v1.3M465.4,654.7v1.3M467.9,654.7v1.3M470.4,654.7v1.3M472.9,654.7v1.3M475.3,654.7v1.3M477.8,654.7v1.3M480.2,654.7v1.3M482.6,654.7v1.3M485,654.7v1.3M487.4,654.7v1.3M489.8,654.7v1.3M492.2,654.7v1.3M494.6,654.7v1.3M496.9,654.7v1.3M499.2,654.7v1.3M501.6,654.7v1.3M503.9,654.7v1.3M506.2,654.7v1.3M508.5,654.7v1.3M510.7,654.7v1.3M513,654.7v1.3M515.3,654.7v1.3M457.4,619.4v35.3M455.3,653.3h2.2M455.3,652h2.2M455.3,650.7h2.2M455.3,649.3h2.2M455.3,648h2.2M455.3,646.7h2.2M455.3,645.4h2.2M455.3,644.1h2.2M455.3,642.8h2.2M455.3,641.5h2.2M455.3,640.2h2.2M455.3,638.9h2.2M455.3,637.7h2.2M455.3,636.4h2.2M455.3,635.1h2.2M455.3,633.9h2.2M455.3,632.6h2.2M455.3,631.4h2.2M455.3,630.2h2.2M455.3,629h2.2M455.3,627.7h2.2M455.3,626.5h2.2M455.3,625.3h2.2M455.3,624.1h2.2M455.3,622.9h2.2M455.3,621.8h2.2M455.3,620.6h2.2M457.4,653.5h60.1M459.6,653.5v1.2M461.7,653.5v1.2M463.9,653.5v1.2M466,653.5v1.2M468.1,653.5v1.2M470.2,653.5v1.2M472.3,653.5v1.2M474.4,653.5v1.2M476.4,653.5v1.2M478.5,653.5v1.2M480.6,653.5v1.2M482.6,653.5v1.2M484.6,653.5v1.2M486.6,653.5v1.2M488.6,653.5v1.2M490.6,653.5v1.2M492.6,653.5v1.2M494.6,653.5v1.2M496.6,653.5v1.2M498.5,653.5v1.2M500.5,653.5v1.2M502.4,653.5v1.2M504.3,653.5v1.2M506.2,653.5v1.2M508.1,653.5v1.2M510,653.5v1.2M511.9,653.5v1.2M513.8,653.5v1.2M515.6,653.5v1.2M457.4,652.4h60.1M459.4,652.4v1.1M461.4,652.4v1.1M463.3,652.4v1.1M465.3,652.4v1.1M467.2,652.4v1.1M469.2,652.4v1.1M471.1,652.4v1.1M473,652.4v1.1M474.9,652.4v1.1M476.8,652.4v1.1M478.7,652.4v1.1M480.5,652.4v1.1M482.4,652.4v1.1M484.3,652.4v1.1M486.1,652.4v1.1M488,652.4v1.1M489.8,652.4v1.1M491.6,652.4v1.1M493.5,652.4v1.1M495.3,652.4v1.1M497.2,652.4v1.1M499,652.4v1.1M500.9,652.4v1.1M502.7,652.4v1.1M504.6,652.4v1.1M506.4,652.4v1.1M508.3,652.4v1.1M510.1,652.4v1.1M512,652.4v1.1M513.8,652.4v1.1M515.7,652.4v1.1M459.3,619.4v33M457.4,651.4h1.9M457.4,650.3h1.9M457.4,649.3h1.9M457.4,648.2h1.9M457.4,647.1h1.9M457.4,646.1h1.9M457.4,645h1.9M457.4,643.9h1.9M457.4,642.9h1.9M457.4,641.8h1.9M457.4,640.7h1.9M457.4,639.7h1.9M457.4,638.6h1.9M457.4,637.5h1.9M457.4,636.5h1.9M457.4,635.4h1.9M457.4,634.3h1.9M457.4,633.3h1.9M457.4,632.2h1.9M457.4,631.1h1.9M457.4,630.1h1.9M457.4,629h1.9M457.4,627.9h1.9M457.4,626.9h1.9M457.4,625.8h1.9M457.4,624.7h1.9M457.4,623.7h1.9M457.4,622.6h1.9M457.4,621.5h1.9M457.4,620.5h1.9M461.2,619.4v33M459.3,651.4h1.9M459.3,650.3h1.9M459.3,649.3h1.9M459.3,648.2h1.9M459.3,647.1h1.9M459.3,646.1h1.9M459.3,645h1.9M459.3,643.9h1.9M459.3,642.9h1.9M459.3,641.8h1.9M459.3,640.7h1.9M459.3,639.7h1.9M459.3,638.6h1.9M459.3,637.5h1.9M459.3,636.5h1.9M459.3,635.4h1.9M459.3,634.3h1.9M459.3,633.3h1.9M459.3,632.2h1.9M459.3,631.1h1.9M459.3,630.1h1.9M459.3,629h1.9M459.3,627.9h1.9M459.3,626.9h1.9M459.3,625.8h1.9M459.3,624.7h1.9M459.3,623.7h1.9M459.3,622.6h1.9M459.3,621.5h1.9M459.3,620.5h1.9M461.2,651.4h56.3M463,651.4v1.1M464.9,651.4v1.1M466.8,651.4v1.1M468.7,651.4v1.1M470.6,651.4v1.1M472.4,651.4v1.1M474.3,651.4v1.1M476.2,651.4v1.1M478.1,651.4v1.1M479.9,651.4v1.1M481.8,651.4v1.1M483.7,651.4v1.1M485.6,651.4v1.1M487.5,651.4v1.1M489.3,651.4v1.1M491.2,651.4v1.1M493.1,651.4v1.1M495,651.4v1.1M496.8,651.4v1.1M498.7,651.4v1.1M500.6,651.4v1.1M502.5,651.4v1.1M504.4,651.4v1.1M506.2,651.4v1.1M508.1,651.4v1.1M510,651.4v1.1M511.9,651.4v1.1M513.7,651.4v1.1M515.6,651.4v1.1M463,619.4v32M461.2,650.3h1.9M461.2,649.3h1.9M461.2,648.2h1.9M461.2,647.1h1.9M461.2,646.1h1.9M461.2,645h1.9M461.2,643.9h1.9M461.2,642.9h1.9M461.2,641.8h1.9M461.2,640.7h1.9M461.2,639.7h1.9M461.2,638.6h1.9M461.2,637.5h1.9M461.2,636.5h1.9M461.2,635.4h1.9M461.2,634.3h1.9M461.2,633.3h1.9M461.2,632.2h1.9M461.2,631.1h1.9M461.2,630.1h1.9M461.2,629h1.9M461.2,627.9h1.9M461.2,626.9h1.9M461.2,625.8h1.9M461.2,624.7h1.9M461.2,623.7h1.9M461.2,622.6h1.9M461.2,621.5h1.9M461.2,620.5h1.9M463,650.3h54.5M464.9,650.3v1.1M466.8,650.3v1.1M468.7,650.3v1.1M470.6,650.3v1.1M472.4,650.3v1.1M474.3,650.3v1.1M476.2,650.3v1.1M478.1,650.3v1.1M479.9,650.3v1.1M481.8,650.3v1.1M483.7,650.3v1.1M485.6,650.3v1.1M487.5,650.3v1.1M489.3,650.3v1.1M491.2,650.3v1.1M493.1,650.3v1.1M495,650.3v1.1M496.8,650.3v1.1M498.7,650.3v1.1M500.6,650.3v1.1M502.5,650.3v1.1M504.4,650.3v1.1M506.2,650.3v1.1M508.1,650.3v1.1M510,650.3v1.1M511.9,650.3v1.1M513.7,650.3v1.1M515.6,650.3v1.1M464.9,619.4v30.9M463,649.3h1.9M463,648.2h1.9M463,647.1h1.9M463,646.1h1.9M463,645h1.9M463,643.9h1.9M463,642.9h1.9M463,641.8h1.9M463,640.7h1.9M463,639.7h1.9M463,638.6h1.9M463,637.5h1.9M463,636.5h1.9M463,635.4h1.9M463,634.3h1.9M463,633.3h1.9M463,632.2h1.9M463,631.1h1.9M463,630.1h1.9M463,629h1.9M463,627.9h1.9M463,626.9h1.9M463,625.8h1.9M463,624.7h1.9M463,623.7h1.9M463,622.6h1.9M463,621.5h1.9M463,620.5h1.9M464.9,649.3h52.6M466.8,649.3v1.1M468.7,649.3v1.1M470.6,649.3v1.1M472.4,649.3v1.1M474.3,649.3v1.1M476.2,649.3v1.1M478.1,649.3v1.1M479.9,649.3v1.1M481.8,649.3v1.1M483.7,649.3v1.1M485.6,649.3v1.1M487.5,649.3v1.1M489.3,649.3v1.1M491.2,649.3v1.1M493.1,649.3v1.1M495,649.3v1.1M496.8,649.3v1.1M498.7,649.3v1.1M500.6,649.3v1.1M502.5,649.3v1.1M504.4,649.3v1.1M506.2,649.3v1.1M508.1,649.3v1.1M510,649.3v1.1M511.9,649.3v1.1M513.7,649.3v1.1M515.6,649.3v1.1M466.8,619.4v29.9M464.9,648.2h1.9M464.9,647.1h1.9M464.9,646.1h1.9M464.9,645h1.9M464.9,643.9h1.9M464.9,642.9h1.9M464.9,641.8h1.9M464.9,640.7h1.9M464.9,639.7h1.9M464.9,638.6h1.9M464.9,637.5h1.9M464.9,636.5h1.9M464.9,635.4h1.9M464.9,634.3h1.9M464.9,633.3h1.9M464.9,632.2h1.9M464.9,631.1h1.9M464.9,630.1h1.9M464.9,629h1.9M464.9,627.9h1.9M464.9,626.9h1.9M464.9,625.8h1.9M464.9,624.7h1.9M464.9,623.7h1.9M464.9,622.6h1.9M464.9,621.5h1.9M464.9,620.5h1.9M466.8,648.2h50.7M468.7,648.2v1.1M470.6,648.2v1.1M472.4,648.2v1.1M474.3,648.2v1.1M476.2,648.2v1.1M478.1,648.2v1.1M479.9,648.2v1.1M481.8,648.2v1.1M483.7,648.2v1.1M485.6,648.2v1.1M487.5,648.2v1.1M489.3,648.2v1.1M491.2,648.2v1.1M493.1,648.2v1.1M495,648.2v1.1M496.8,648.2v1.1M498.7,648.2v1.1M500.6,648.2v1.1M502.5,648.2v1.1M504.4,648.2v1.1M506.2,648.2v1.1M508.1,648.2v1.1M510,648.2v1.1M511.9,648.2v1.1M513.7,648.2v1.1M515.6,648.2v1.1M468.7,619.4v28.8M466.8,647.1h1.9M466.8,646.1h1.9M466.8,645h1.9M466.8,643.9h1.9M466.8,642.9h1.9M466.8,641.8h1.9M466.8,640.7h1.9M466.8,639.7h1.9M466.8,638.6h1.9M466.8,637.5h1.9M466.8,636.5h1.9M466.8,635.4h1.9M466.8,634.3h1.9M466.8,633.3h1.9M466.8,632.2h1.9M466.8,631.1h1.9M466.8,630.1h1.9M466.8,629h1.9M466.8,627.9h1.9M466.8,626.9h1.9M466.8,625.8h1.9M466.8,624.7h1.9M466.8,623.7h1.9M466.8,622.6h1.9M466.8,621.5h1.9M466.8,620.5h1.9M468.7,647.1h48.8M470.6,647.1v1.1M472.4,647.1v1.1M474.3,647.1v1.1M476.2,647.1v1.1M478.1,647.1v1.1M479.9,647.1v1.1M481.8,647.1v1.1M483.7,647.1v1.1M485.6,647.1v1.1M487.5,647.1v1.1M489.3,647.1v1.1M491.2,647.1v1.1M493.1,647.1v1.1M495,647.1v1.1M496.8,647.1v1.1M498.7,647.1v1.1M500.6,647.1v1.1M502.5,647.1v1.1M504.4,647.1v1.1M506.2,647.1v1.1M508.1,647.1v1.1M510,647.1v1.1M511.9,647.1v1.1M513.7,647.1v1.1M515.6,647.1v1.1M470.5,619.4v27.7M468.7,646.1h1.9M468.7,645h1.9M468.7,643.9h1.9M468.7,642.9h1.9M468.7,641.8h1.9M468.7,640.7h1.9M468.7,639.7h1.9M468.7,638.6h1.9M468.7,637.5h1.9M468.7,636.5h1.9M468.7,635.4h1.9M468.7,634.3h1.9M468.7,633.3h1.9M468.7,632.2h1.9M468.7,631.1h1.9M468.7,630.1h1.9M468.7,629h1.9M468.7,627.9h1.9M468.7,626.9h1.9M468.7,625.8h1.9M468.7,624.7h1.9M468.7,623.7h1.9M468.7,622.6h1.9M468.7,621.5h1.9M468.7,620.5h1.9M470.5,646.1h47M472.4,646.1v1.1M474.3,646.1v1.1M476.2,646.1v1.1M478.1,646.1v1.1M479.9,646.1v1.1M481.8,646.1v1.1M483.7,646.1v1.1M485.6,646.1v1.1M487.5,646.1v1.1M489.3,646.1v1.1M491.2,646.1v1.1M493.1,646.1v1.1M495,646.1v1.1M496.8,646.1v1.1M498.7,646.1v1.1M500.6,646.1v1.1M502.5,646.1v1.1M504.4,646.1v1.1M506.2,646.1v1.1M508.1,646.1v1.1M510,646.1v1.1M511.9,646.1v1.1M513.7,646.1v1.1M515.6,646.1v1.1M472.4,619.4v26.7M470.5,645h1.9M470.5,643.9h1.9M470.5,642.9h1.9M470.5,641.8h1.9M470.5,640.7h1.9M470.5,639.7h1.9M470.5,638.6h1.9M470.5,637.5h1.9M470.5,636.5h1.9M470.5,635.4h1.9M470.5,634.3h1.9M470.5,633.3h1.9M470.5,632.2h1.9M470.5,631.1h1.9M470.5,630.1h1.9M470.5,629h1.9M470.5,627.9h1.9M470.5,626.9h1.9M470.5,625.8h1.9M470.5,624.7h1.9M470.5,623.7h1.9M470.5,622.6h1.9M470.5,621.5h1.9M470.5,620.5h1.9M472.4,645h45.1M474.3,645v1.1M476.2,645v1.1M478.1,645v1.1M479.9,645v1.1M481.8,645v1.1M483.7,645v1.1M485.6,645v1.1M487.4,645v1.1M489.3,645v1.1M491.2,645v1.1M493.1,645v1.1M495,645v1.1M496.8,645v1.1M498.7,645v1.1M500.6,645v1.1M502.5,645v1.1M504.4,645v1.1M506.2,645v1.1M508.1,645v1.1M510,645v1.1M511.9,645v1.1M513.7,645v1.1M515.6,645v1.1M474.3,619.4v25.6M472.4,643.9h1.9M472.4,642.9h1.9M472.4,641.8h1.9M472.4,640.7h1.9M472.4,639.7h1.9M472.4,638.6h1.9M472.4,637.5h1.9M472.4,636.5h1.9M472.4,635.4h1.9M472.4,634.3h1.9M472.4,633.3h1.9M472.4,632.2h1.9M472.4,631.1h1.9M472.4,630.1h1.9M472.4,629h1.9M472.4,627.9h1.9M472.4,626.9h1.9M472.4,625.8h1.9M472.4,624.7h1.9M472.4,623.7h1.9M472.4,622.6h1.9M472.4,621.5h1.9M472.4,620.5h1.9M474.3,643.9h43.2M476.2,643.9v1.1M478.1,643.9v1.1M479.9,643.9v1.1M481.8,643.9v1.1M483.7,643.9v1.1M485.6,643.9v1.1M487.4,643.9v1.1M489.3,643.9v1.1M491.2,643.9v1.1M493.1,643.9v1.1M495,643.9v1.1M496.8,643.9v1.1M498.7,643.9v1.1M500.6,643.9v1.1M502.5,643.9v1.1M504.4,643.9v1.1M506.2,643.9v1.1M508.1,643.9v1.1M510,643.9v1.1M511.9,643.9v1.1M513.7,643.9v1.1M515.6,643.9v1.1M476.2,619.4v24.5M474.3,642.9h1.9M474.3,641.8h1.9M474.3,640.7h1.9M474.3,639.7h1.9M474.3,638.6h1.9M474.3,637.5h1.9M474.3,636.5h1.9M474.3,635.4h1.9M474.3,634.3h1.9M474.3,633.3h1.9M474.3,632.2h1.9M474.3,631.1h1.9M474.3,630.1h1.9M474.3,629h1.9M474.3,627.9h1.9M474.3,626.9h1.9M474.3,625.8h1.9M474.3,624.7h1.9M474.3,623.7h1.9M474.3,622.6h1.9M474.3,621.5h1.9M474.3,620.5h1.9" fill="none" stroke="#888" stroke-width="0.33"/>
<rect x="478.50" y="635.70" width="1.00" height="1.00" fill="#4A2A6A" />
<rect x="480.40" y="650.40" width="1.80" height="1.20" fill="#2A1A7A" />
<rect x="348.50" y="619.40" width="169.00" height="96.00" fill="none" stroke="#808080" stroke-width="0.7" />
<text x="10.00" y="601.20" font-size="8.8" text-anchor="start" textLength="32.5" lengthAdjust="spacingAndGlyphs" >pt081_T</text>
<text x="76.30" y="610.90" font-size="3.1" text-anchor="end" fill="#222" stroke="#222" stroke-width="0.12" >vdjdb_match</text>
<rect x="78.40" y="608.10" width="4.00" height="4.00" fill="#99002E" />
<text x="83.70" y="611.00" font-size="2.6" text-anchor="start" fill="#222" stroke="#222" stroke-width="0.12" >EBV</text>
<rect x="91.40" y="608.10" width="4.00" height="4.00" fill="#E3151B" />
<text x="96.70" y="611.00" font-size="2.6" text-anchor="start" fill="#222" stroke="#222" stroke-width="0.12" >HIV-1</text>
<rect x="107.00" y="608.10" width="4.00" height="4.00" fill="#DDDDDD" />
<text x="112.30" y="611.00" font-size="2.6" text-anchor="start" fill="#222" stroke="#222" stroke-width="0.12" >None</text>
<text x="179.30" y="600.90" font-size="8.8" text-anchor="start" textLength="70.7" lengthAdjust="spacingAndGlyphs" >pt081_pre-REPTIL</text>
<text x="238.20" y="610.90" font-size="3.1" text-anchor="end" fill="#222" stroke="#222" stroke-width="0.12" >vdjdb_match</text>
<rect x="240.10" y="608.10" width="4.00" height="4.00" fill="#99002E" />
<text x="245.40" y="611.00" font-size="2.6" text-anchor="start" fill="#222" stroke="#222" stroke-width="0.12" >EBV</text>
<rect x="253.30" y="608.10" width="4.00" height="4.00" fill="#E3151B" />
<text x="258.60" y="611.00" font-size="2.6" text-anchor="start" fill="#222" stroke="#222" stroke-width="0.12" >HIV-1</text>
<rect x="268.30" y="608.10" width="4.00" height="4.00" fill="#3D1C6E" />
<text x="273.60" y="611.00" font-size="2.6" text-anchor="start" fill="#222" stroke="#222" stroke-width="0.12" >InfluenzaA</text>
<rect x="288.80" y="608.10" width="4.00" height="4.00" fill="#DDDDDD" />
<text x="294.10" y="611.00" font-size="2.6" text-anchor="start" fill="#222" stroke="#222" stroke-width="0.12" >None</text>
<text x="336.20" y="601.00" font-size="8.8" text-anchor="start" textLength="54.4" lengthAdjust="spacingAndGlyphs" >pt081_REPTIL</text>
<text x="397.20" y="611.00" font-size="3.1" text-anchor="end" fill="#222" stroke="#222" stroke-width="0.12" >vdjdb_match</text>
<rect x="399.80" y="605.90" width="4.00" height="4.00" fill="#00A6A6" />
<text x="405.10" y="608.80" font-size="2.6" text-anchor="start" fill="#222" stroke="#222" stroke-width="0.12" >CMV</text>
<rect x="413.70" y="605.90" width="4.00" height="4.00" fill="#4C9A2A" />
<text x="419.00" y="608.80" font-size="2.6" text-anchor="start" fill="#222" stroke="#222" stroke-width="0.12" >HomoSapiens</text>
<rect x="438.30" y="605.90" width="4.00" height="4.00" fill="#F4A582" />
<text x="443.60" y="608.80" font-size="2.6" text-anchor="start" fill="#222" stroke="#222" stroke-width="0.12" >M.tuberculosis</text>
<rect x="463.00" y="605.90" width="4.00" height="4.00" fill="#2DB24A" />
<text x="468.30" y="608.80" font-size="2.6" text-anchor="start" fill="#222" stroke="#222" stroke-width="0.12" >SARS-CoV-2</text>
<rect x="399.80" y="610.30" width="4.00" height="4.00" fill="#99002E" />
<text x="405.10" y="613.20" font-size="2.6" text-anchor="start" fill="#222" stroke="#222" stroke-width="0.12" >EBV</text>
<rect x="413.70" y="610.30" width="4.00" height="4.00" fill="#3D1C6E" />
<text x="419.00" y="613.20" font-size="2.6" text-anchor="start" fill="#222" stroke="#222" stroke-width="0.12" >InfluenzaA</text>
<rect x="438.30" y="610.30" width="4.00" height="4.00" fill="#DDDDDD" />
<text x="443.60" y="613.20" font-size="2.6" text-anchor="start" fill="#222" stroke="#222" stroke-width="0.12" >None</text>
</g>
</svg>
</body></html>
